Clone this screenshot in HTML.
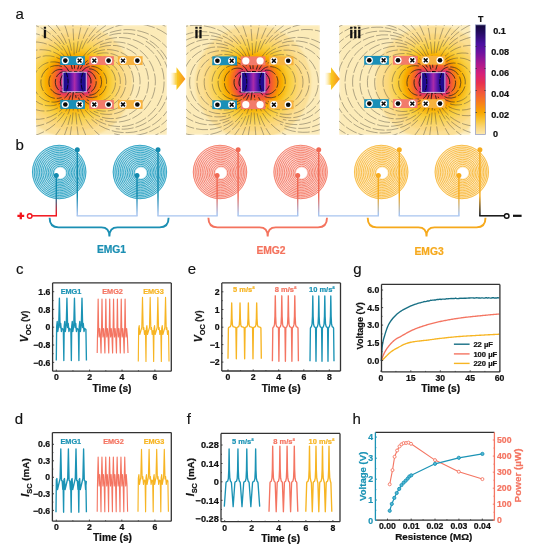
<!DOCTYPE html><html><head><meta charset="utf-8"><style>html,body{margin:0;padding:0;background:#fff;width:534px;height:550px;overflow:hidden}svg{display:block;filter:blur(0.3px)}text{font-family:"Liberation Sans",sans-serif}</style></head><body>
<svg width="534" height="550" viewBox="0 0 534 550">
<defs><linearGradient id="gin0" gradientUnits="userSpaceOnUse" x1="0" y1="196" x2="0" y2="214"><stop offset="0" stop-color="#148aae"/><stop offset="1" stop-color="#f2141c"/></linearGradient><linearGradient id="gout0" gradientUnits="userSpaceOnUse" x1="0" y1="196" x2="0" y2="214"><stop offset="0" stop-color="#148aae"/><stop offset="1" stop-color="#a7c4ef"/></linearGradient><linearGradient id="gin1" gradientUnits="userSpaceOnUse" x1="0" y1="196" x2="0" y2="214"><stop offset="0" stop-color="#148aae"/><stop offset="1" stop-color="#a7c4ef"/></linearGradient><linearGradient id="gout1" gradientUnits="userSpaceOnUse" x1="0" y1="196" x2="0" y2="214"><stop offset="0" stop-color="#148aae"/><stop offset="1" stop-color="#a7c4ef"/></linearGradient><linearGradient id="gin2" gradientUnits="userSpaceOnUse" x1="0" y1="196" x2="0" y2="214"><stop offset="0" stop-color="#f06a55"/><stop offset="1" stop-color="#a7c4ef"/></linearGradient><linearGradient id="gout2" gradientUnits="userSpaceOnUse" x1="0" y1="196" x2="0" y2="214"><stop offset="0" stop-color="#f06a55"/><stop offset="1" stop-color="#a7c4ef"/></linearGradient><linearGradient id="gin3" gradientUnits="userSpaceOnUse" x1="0" y1="196" x2="0" y2="214"><stop offset="0" stop-color="#f06a55"/><stop offset="1" stop-color="#a7c4ef"/></linearGradient><linearGradient id="gout3" gradientUnits="userSpaceOnUse" x1="0" y1="196" x2="0" y2="214"><stop offset="0" stop-color="#f06a55"/><stop offset="1" stop-color="#a7c4ef"/></linearGradient><linearGradient id="gin4" gradientUnits="userSpaceOnUse" x1="0" y1="196" x2="0" y2="214"><stop offset="0" stop-color="#f6ab1e"/><stop offset="1" stop-color="#a7c4ef"/></linearGradient><linearGradient id="gout4" gradientUnits="userSpaceOnUse" x1="0" y1="196" x2="0" y2="214"><stop offset="0" stop-color="#f6ab1e"/><stop offset="1" stop-color="#a7c4ef"/></linearGradient><linearGradient id="gin5" gradientUnits="userSpaceOnUse" x1="0" y1="196" x2="0" y2="214"><stop offset="0" stop-color="#f6ab1e"/><stop offset="1" stop-color="#a7c4ef"/></linearGradient><linearGradient id="gout5" gradientUnits="userSpaceOnUse" x1="0" y1="196" x2="0" y2="214"><stop offset="0" stop-color="#f6ab1e"/><stop offset="1" stop-color="#111111"/></linearGradient><clipPath id="clip0"><rect x="36" y="25" width="131" height="110"/></clipPath><path id="fl0" d="M86.5 72.9 88.6 75.0 90.0 77.2 90.8 79.5 91.0 82.0 90.8 84.5 90.0 86.8 88.6 89.0 86.5 91.1M74.6 71.8 74.6 71.3 74.6 71.8 74.6 71.3 74.6 71.8 74.6 71.3 74.6 71.8 74.6 71.3 74.6 71.8 74.6 71.3 74.6 71.8 74.6 71.3 74.6 71.8 74.6 71.3 74.6 71.8 74.6 71.3 74.6 71.8 74.6 71.3 74.6 71.8 74.6 71.3 74.6 71.8 74.6 71.3 74.6 71.8 74.6 71.3 74.6 71.8 74.6 71.3 74.6 71.8 74.6 71.3 74.6 71.8 74.6 71.3 74.6 71.8 74.6 71.3 74.6 71.8 74.6 71.3 74.6 71.8 74.6 71.3 74.6 71.8 74.6 71.3 74.6 71.8 74.6 71.3 74.6 71.8 74.6 71.3 74.6 71.8 74.6 71.3 74.6 71.8 74.6 71.3 74.6 71.8 74.6 71.3 74.6 71.8 74.6 71.3 74.6 71.8 74.6 71.3 74.6 71.8 74.6 71.3 74.6 71.8 74.6 71.3 74.6 71.8 74.6 71.3 74.6 71.8 74.6 71.3 74.6 71.8 74.6 71.3 74.6 71.8 74.6 71.3 74.6 71.8 74.6 71.3 74.6 71.8 74.6 71.3 74.6 71.8 74.6 71.3 74.6 71.8 74.6 71.3 74.6 71.8 74.6 71.3 74.6 71.8 74.6 71.3 74.6 71.8 74.6 71.3 74.6 71.8 74.6 71.3 74.6 71.8 74.6 71.3 74.6 71.8 74.6 71.3 74.6 71.8 74.6 71.3 74.6 71.8 74.6 71.3 74.6 71.8 74.6 71.3 74.6 71.8 74.6 71.3 74.6 71.8 74.6 71.3 74.6 71.8 74.6 71.3 74.6 71.8 74.6 71.3 74.6 71.8 74.6 71.3 74.6 71.8 74.6 71.3 74.6 71.8 74.6 71.3 74.6 71.8 74.6 71.3 74.6 71.8 74.6 71.3 74.6 71.8 74.6 71.3 74.6 71.8 74.6 71.3 74.6 71.8 74.6 71.3 74.6 71.8 74.6 71.3 74.6 71.8 74.6 71.3 74.6 71.8 74.6 71.3 74.6 71.8 74.6 71.3 74.6 71.8 74.6 71.3 74.6 71.8 74.6 71.3 74.6 71.8 74.6 71.3 74.6 71.8 74.6 71.3 74.6 71.8 74.6 71.3 74.6 71.8 74.6 71.3 74.6 71.8 74.6 71.3 74.6 71.8 74.6 71.3 74.6 71.8 74.6 71.3 74.6 71.8 74.6 71.3 74.6 71.8 74.6 71.3 74.6 71.8 74.6 71.3 74.6 71.8 74.6 71.3 74.6 71.8 74.6 71.3 74.6 71.8 74.6 71.3 74.6 71.8 74.6 71.3 74.6 71.8 74.6 71.3 74.6 71.8 74.6 71.3 74.6 71.8 74.6 71.3 74.6 71.8 74.6 71.3 74.6 71.8 74.6 71.3 74.6 71.8 74.6 71.3 74.6 71.8 74.6 71.3 74.6 71.8 74.6 71.3 74.6 71.8 74.6 71.3 74.6 71.8 74.6 71.3 74.6 71.8 74.6 71.3 74.6 71.8 74.6 71.3 74.6 71.8 74.6 71.3 74.6 71.8 74.6 71.3 74.6 71.8 74.6 71.3 74.6 71.8 74.6 71.3 74.6 71.8 74.6 71.3 74.6 71.8 74.6 71.3 74.6 71.8 74.6 71.3 74.6 71.8 74.6 71.3 74.6 71.8 74.6 71.3 74.6 71.8 74.6 71.3 74.6 71.8 74.6 71.3 74.6 71.8 74.6 71.3 74.6 71.8 74.6 71.3 74.6 71.8 74.6 71.3 74.6 71.8 74.6 71.3 74.6 71.8 74.6 71.3 74.6 71.8 74.6 71.3 74.6 71.8 74.6 71.3 74.6 71.8 74.6 71.3 74.6 71.8 74.6 71.3 74.6 71.8 74.6 71.3 74.6 71.8 74.6 71.3 74.6 71.8 74.6 71.3 74.6 71.8 74.6 71.3 74.6 71.8 74.6 71.3 74.6 71.8 74.6 71.3 74.6 71.8 74.6 71.3 74.6 71.8 74.6 71.3 74.6 71.8 74.6 71.3 74.6 71.8 74.6 71.3 74.6 71.8 74.6 71.3 74.6 71.8 74.6 71.3 74.6 71.8 74.6 71.3 74.6 71.8 74.6 71.3 74.6 71.8 74.6 71.3 74.6 71.8 74.6 71.3 74.6 71.8 74.6 71.3 74.6 71.8 74.6 71.3 74.6 71.8 74.6 71.3 74.6 71.8 74.6 71.3 74.6 71.8 74.6 71.3 74.6 71.8 74.6 71.3 74.6 71.8 74.6 71.3 74.6 71.8 74.6 71.3 74.6 71.8 74.6 71.3 74.6 71.8 74.6 71.3 74.6 71.8 74.6 71.3 74.6 71.8 74.6 71.3 74.6 71.8 74.6 71.3 74.6 71.8 74.6 71.3 74.6 71.8 74.6 71.3 74.6 71.8 74.6 71.3 74.6 71.8 74.6 71.3 74.6 71.8 74.6 71.3 74.6 71.8 74.6 71.3 74.6 71.8 74.6 71.3 74.6 71.8 74.6 71.3 74.6 71.8 74.6 71.3 74.6 71.8 74.6 71.3 74.6 71.8 74.6 71.3 74.6 71.8 74.6 71.3 74.6 71.8 74.6 71.3 74.6 71.8 74.6 71.3 74.6 71.8 74.6 71.3 74.6 71.8 74.6 71.3 74.6 71.8 74.6 71.3 74.6 71.8 74.6 71.3 74.6 71.8 74.6 71.3 74.6 71.8 74.6 71.3 74.6 71.8 74.6 71.3 74.6 71.8 74.6 71.3 74.6 71.8 74.6 71.3 74.6 71.8 74.6 71.3 74.6 71.8 74.6 71.3 74.6 71.8 74.6 71.3 74.6 71.8 74.6 71.3 74.6 71.8 74.6 71.3 74.6 71.8 74.6 71.3 74.6 71.8 74.6 71.3 74.6 71.8 74.6 71.3 74.6 71.8 74.6 71.3 74.6 71.8 74.6 71.3 74.6 71.8 74.6 71.3 74.6 71.8 74.6 71.3 74.6 71.8 74.6 71.3 74.6 71.8 74.6 71.3 74.6 71.8 74.6 71.3 74.6 71.8 74.6 71.3 74.6 71.8 74.6 71.3 74.6 71.8 74.6 71.3 74.6 71.8 74.6 71.3 74.6 71.8 74.6 71.3 74.6 71.8 74.6 71.3 74.6 71.8 74.6 71.3 74.6 71.8 74.6 71.3 74.6 71.8 74.6 71.3 74.6 71.8 74.6 71.3 74.6 71.8 74.6 71.3 74.6 71.8 74.6 71.3 74.6 71.8 74.6 71.3 74.6 71.8 74.6 71.3 74.6 71.8 74.6 71.3 74.6 71.8 74.6 71.3 74.6 71.8 74.6 71.3 74.6 71.8 74.6 71.3 74.6 71.8 74.6 71.3 74.6 71.8 74.6 71.3 74.6 71.8 74.6 71.3 74.6 71.8 74.6 71.3 74.6 71.8 74.6 71.3 74.6 71.8 74.6 71.3 74.6 71.8 74.6 71.3 74.6 71.8 74.6 71.3 74.6 71.8 74.6 71.3 74.6 71.8 74.6 71.3 74.6 71.8 74.6 71.3 74.6 71.8 74.6 71.3 74.6 71.8 74.6 71.3 74.6 71.8 74.6 71.3 74.6 71.8 74.6 71.3 74.6 71.8 74.6 71.3 74.6 71.8 74.6 71.3 74.6 71.8 74.6 71.3 74.6 71.8 74.6 71.3 74.6 71.8 74.6 71.3 74.6 71.8 74.6 71.3 74.6 71.8 74.6 71.3 74.6 71.8 74.6 71.3 74.6 71.8 74.6 71.3 74.6 71.8 74.6 71.3 74.6 71.8 74.6 71.3 74.6 71.8 74.6 71.3 74.6 71.8 74.6 71.3 74.6 71.8 74.6 71.3 74.6 71.8 74.6 71.3 74.6 71.8 74.6 71.3 74.6 71.8 74.6 71.3 74.6 71.8 74.6 71.3 74.6 71.8 74.6 71.3 74.6 71.8 74.6 71.3 74.6 71.8 74.6 71.3 74.6 71.8 74.6 71.3 74.6 71.8 74.6 71.3 74.6 71.8 74.6 71.3 74.6 71.8 74.6 71.3 74.6 71.8 74.6 71.3 74.6 71.8 74.6 71.3 74.6 71.8 74.6 71.3 74.6 71.8 74.6 71.3 74.6 71.8 74.6 71.3 74.6 71.8 74.6 71.3 74.6 71.8 74.6 71.3 74.6 71.8 74.6 71.3 74.6 71.8 74.6 71.3 74.6 71.8 74.6 71.3 74.6 71.8 74.6 71.3 74.6 71.8 74.6 71.3 74.6 71.8 74.6 71.3 74.6 71.8 74.6 71.3 74.6 71.8 74.6 71.3 74.6 71.8 74.6 71.3 74.6 71.8 74.6 71.3 74.6 71.8 74.6 71.3 74.6 71.8 74.6 71.3 74.6 71.8 74.6 71.3 74.6 71.8 74.6 71.3 74.6 71.8 74.6 71.3 74.6 71.8 74.6 71.3 74.6 71.8 74.6 71.3 74.6 71.8 74.6 71.3 74.6 71.8 74.6 71.3 74.6 71.8 74.6 71.3 74.6 71.8 74.6 71.3 74.6 71.8 74.6 71.3 74.6 71.8 74.6 71.3 74.6 71.8 74.6 71.3 74.6 71.8 74.6 71.3 74.6 71.8 74.6 71.3 74.6 71.8 74.6 71.3 74.6 71.8 74.6 71.3 74.6 71.8 74.6 71.3 74.6 71.8 74.6 71.3 74.6 71.8 74.6 71.3 74.6 71.8 74.6 71.3 74.6 71.8 74.6 71.3 74.6 71.8 74.6 71.3 74.6 71.8 74.6 71.3 74.6 71.8 74.6 71.3 74.6 71.8 74.6 71.3 74.6 71.8 74.6 71.3 74.6 71.8 74.6 71.3 74.6 71.8 74.6 71.3 74.6 71.8 74.6 71.3 74.6 71.8 74.6 71.3 74.6 71.8 74.6 71.3 74.6 71.8 74.6 71.3 74.6 71.8 74.6 71.3 74.6 71.8 74.6 71.3 74.6 71.8 74.6 71.3 74.6 71.8 74.6 71.3 74.6 71.8 74.6 71.3 74.6 71.8 74.6 71.3 74.6 71.8 74.6 71.3 74.6 71.8 74.6 71.3 74.6 71.8 74.6 71.3 74.6 71.8 74.6 71.3 74.6 71.8 74.6 71.3 74.6 71.8 74.6 71.3 74.6 71.8 74.6 71.3 74.6 71.8 74.6 71.3 74.6 71.8 74.6 71.3 74.6 71.8 74.6 71.3 74.6 71.8 74.6 71.3 74.6 71.8 74.6 71.3 74.6 71.8 74.6 71.3 74.6 71.8 74.6 71.3 74.6 71.8 74.6 71.3 74.6 71.8 74.6 71.3 74.6 71.8 74.6 71.3 74.6 71.8 74.6 71.3 74.6 71.8 74.6 71.3 74.6 71.8 74.6 71.3 74.6 71.8 74.6 71.3 74.6 71.8 74.6 71.3 74.6 71.8 74.6 71.3 74.6 71.8 74.6 71.3 74.6 71.8 74.6 71.3 74.6 71.8 74.6 71.3 74.6 71.8 74.6 71.3 74.6 71.8 74.6 71.3 74.6 71.8 74.6 71.3 74.6 71.8 74.6 71.3 74.6 71.8 74.6 71.3 74.6 71.8 74.6 71.3 74.6 71.8 74.6 71.3 74.6 71.8 74.6 71.3 74.6 71.8 74.6 71.3 74.6 71.8 74.6 71.3 74.6 71.8 74.6 71.3 74.6 71.8 74.6 71.3 74.6 71.8 74.6 71.3 74.6 71.8 74.6 71.3 74.6 71.8 74.6 71.3 74.6 71.8 74.6 71.3 74.6 71.8 74.6 71.3 74.6 71.8 74.6 71.3 74.6 71.8 74.6 71.3 74.6 71.8 74.6 71.3 74.6 71.8 74.6 71.3 74.6 71.8 74.6 71.3 74.6 71.8 74.6 71.3 74.6 71.8 74.6 71.3 74.6 71.8 74.6 71.3 74.6 71.8 74.6 71.3 74.6 71.8 74.6 71.3 74.6 71.8 74.6 71.3 74.6 71.8 74.6 71.3 74.6 71.8 74.6 71.3 74.6 71.8 74.6 71.3 74.6 71.8 74.6 71.3 74.6 71.8 74.6 71.3 74.6 71.8 74.6 71.3 74.6 71.8 74.6 71.3 74.6 71.8 74.6 71.3 74.6 71.8 74.6 71.3 74.6 71.8 74.6 71.3 74.6 71.8 74.6 71.3 74.6 71.8 74.6 71.3 74.6 71.8 74.6 71.3 74.6 71.8 74.6 71.3 74.6 71.8 74.6 71.3 74.6 71.8 74.6 71.3 74.6 71.8 74.6 71.3 74.6 71.8 74.6 71.3 74.6 71.8 74.6 71.3 74.6 71.8 74.6 71.3 74.6 71.8 74.6 71.3 74.6 71.8 74.6 71.3 74.6 71.8 74.6 71.3 74.6 71.8 74.6 71.3 74.6 71.8 74.6 71.3 74.6 71.8 74.6 71.3 74.6 71.8 74.6 71.3 74.6 71.8 74.6 71.3 74.6 71.8 74.6 71.3 74.6 71.8 74.6 71.3 74.6 71.8 74.6 71.3 74.6 71.8 74.6 71.3 74.6 71.8 74.6 71.3 74.6 71.8 74.6 71.3 74.6 71.8 74.6 71.3 74.6 71.8 74.6 71.3 74.6 71.8 74.6 71.3 74.6 71.8 74.6 71.3 74.6 71.8 74.6 71.3 74.6 71.8 74.6 71.3 74.6 71.8 74.6 71.3 74.6 71.8 74.6 71.3 74.6 71.8 74.6 71.3 74.6 71.8 74.6 71.3 74.6 71.8 74.6 71.3 74.6 71.8 74.6 71.3 74.6 71.8 74.6 71.3 74.6 71.8 74.6 71.3 74.6 71.8 74.6 71.3 74.6 71.8 74.6 71.3 74.6 71.8 74.6 71.3 74.6 71.8 74.6 71.3 74.6 71.8 74.6 71.3 74.6 71.8 74.6 71.3 74.6 71.8 74.6 71.3 74.6 71.8 74.6 71.3 74.6 71.8 74.6 71.3 74.6 71.8 74.6 71.3 74.6 71.8 74.6 71.3 74.6 71.8 74.6 71.3 74.6 71.8 74.6 71.3 74.6 71.8 74.6 71.3 74.6 71.8 74.6 71.3 74.6 71.8 74.6 71.3 74.6 71.8 74.6 71.3 74.6 71.8 74.6 71.3 74.6 71.8 74.6 71.3 74.6 71.8 74.6 71.3 74.6 71.8 74.6 71.3 74.6 71.8 74.6 71.3 74.6 71.8 74.6 71.3 74.6 71.8 74.6 71.3 74.6 71.8 74.6 71.3 74.6 71.8 74.6 71.3 74.6 71.8 74.6 71.3 74.6 71.8 74.6 71.3 74.6 71.8 74.6 71.3 74.6 71.8 74.6 71.3 74.6 71.8 74.6 71.3 74.6 71.8 74.6 71.3 74.6 71.8 74.6 71.3 74.6 71.8 74.6 71.3 74.6 71.8 74.6 71.3 74.6 71.8 74.6 71.3 74.6 71.8 74.6 71.3 74.6 71.8 74.6 71.3 74.6 71.8 74.6 71.3 74.6 71.8 74.6 71.3 74.6 71.8 74.6 71.3 74.6 71.8 74.6 71.3 74.6 71.8 74.6 71.3 74.6 71.8 74.6 71.3 74.6 71.8 74.6 71.3 74.6 71.8 74.6 71.3 74.6 71.8 74.6 71.3 74.6 71.8 74.6 71.3 74.6 71.8 74.6 71.3 74.6 71.8 74.6 71.3 74.6 71.8 74.6 71.3 74.6 71.8 74.6 71.3 74.6 71.8 74.6 71.3 74.6 71.8 74.6 71.3 74.6 71.8 74.6 71.3 74.6 71.8 74.6 71.3 74.6 71.8 74.6 71.3 74.6 71.8 74.6 71.3 74.6 71.8 74.6 71.3 74.6 71.8 74.6 71.3 74.6 71.8 74.6 71.3 74.6 71.8 74.6 71.3 74.6 71.8 74.6 71.3 74.6 71.8 74.6 71.3 74.6 71.8 74.6 71.3 74.6 71.8 74.6 71.3 74.6 71.8 74.6 71.3 74.6 71.8 74.6 71.3 74.6 71.8 74.6 71.3 74.6 71.8 74.6 71.3 74.6 71.8 74.6 71.3 74.6 71.8 74.6 71.3 74.6 71.8 74.6 71.3 74.6 71.8 74.6 71.3 74.6 71.8 74.6 71.3 74.6 71.8 74.6 71.3 74.6 71.8 74.6 71.3 74.6 71.8 74.6 71.3 74.6 71.8 74.6 71.3 74.6 71.8 74.6 71.3 74.6 71.8 74.6 71.3 74.6 71.8 74.6 71.3 74.6 71.8 74.6 71.3 74.6 71.8 74.6 71.3 74.6 71.8 74.6 71.3 74.6 71.8 74.6 71.3 74.6 71.8 74.6 71.3 74.6 71.8 74.6 71.3 74.6 71.8 74.6 71.3 74.6 71.8 74.6 71.3 74.6 71.8 74.6 71.3 74.6 71.8 74.6 71.3 74.6 71.8 74.6 71.3 74.6 71.8 74.6 71.3 74.6 71.8 74.6 71.3 74.6 71.8 74.6 71.3 74.6 71.8 74.6 71.3 74.6 71.8 74.6 71.3 74.6 71.8 74.6 71.3 74.6 71.8 74.6 71.3 74.6 71.8 74.6 71.3 74.6 71.8 74.6 71.3 74.6 71.8 74.6 71.3 74.6 71.8 74.6 71.3 74.6 71.8 74.6 71.3 74.6 71.8 74.6 71.3 74.6 71.8 74.6 71.3 74.6 71.8 74.6 71.3 74.6 71.8 74.6 71.3 74.6 71.8 74.6 71.3 74.6 71.8 74.6 71.3 74.6 71.8 74.6 71.3 74.6 71.8 74.6 71.3 74.6 71.8 74.6 71.3 74.6 71.8 74.6 71.3 74.6 71.8 74.6 71.3 74.6 71.8 74.6 71.3 74.6 71.8 74.6 71.3 74.6 71.8 74.6 71.3 74.6 71.8 74.6 71.3 74.6 71.8 74.6 71.3 74.6 71.8 74.6 71.3 74.6 71.8 74.6 71.3 74.6 71.8 74.6 71.3 74.6 71.8 74.6 71.3 74.6 71.8 74.6 71.3 74.6 71.8 74.6 71.3 74.6 71.8 74.6 71.3 74.6 71.8 74.6 71.3 74.6 71.8 74.6 71.3 74.6 71.8 74.6 71.3 74.6 71.8 74.6 71.3 74.6 71.8 74.6 71.3 74.6 71.8 74.6 71.3 74.6 71.8 74.6 71.3 74.6 71.8 74.6 71.3 74.6 71.8 74.6 71.3 74.6 71.8 74.6 71.3 74.6 71.8 74.6 71.3 74.6 71.8 74.6 71.3 74.6 71.8 74.6 71.3 74.6 71.8 74.6 71.3 74.6 71.8 74.6 71.3 74.6 71.8 74.6 71.3 74.6 71.8 74.6 71.3 74.6 71.8 74.6 71.3 74.6 71.8 74.6 71.3 74.6 71.8 74.6 71.3 74.6 71.8 74.6 71.3 74.6 71.8 74.6 71.3 74.6 71.8 74.6 71.3 74.6 71.8 74.6 71.3 74.6 71.8 74.6 71.3 74.6 71.8 74.6 71.3 74.6 71.8 74.6 71.3 74.6 71.8 74.6 71.3 74.6 71.8 74.6 71.3 74.6 71.8 74.6 71.3 74.6 71.8 74.6 71.3 74.6 71.8 74.6 71.3 74.6 71.8 74.6 71.3 74.6 71.8 74.6 71.3 74.6 71.8 74.6 71.3 74.6 71.8 74.6 71.3 74.6 71.8 74.6 71.3 74.6 71.8 74.6 71.3 74.6 71.8 74.6 71.3 74.6 71.8 74.6 71.3 74.6 71.8 74.6 71.3 74.6 71.8 74.6 71.3 74.6 71.8 74.6 71.3 74.6 71.8 74.6 71.3 74.6 71.8 74.6 71.3 74.6 71.8 74.6 71.3 74.6 71.8 74.6 71.3 74.6 71.8 74.6 71.3 74.6 71.8 74.6 71.3 74.6 71.8 74.6 71.3 74.6 71.8 74.6 71.3 74.6 71.8 74.6 71.3 74.6 71.8 74.6 71.3 74.6 71.8 74.6 71.3 74.6 71.8 74.6 71.3 74.6 71.8 74.6 71.3 74.6 71.8 74.6 71.3 74.6 71.8 74.6 71.3 74.6 71.8 74.6 71.3 74.6 71.8 74.6 71.3 74.6 71.8 74.6 71.3 74.6 71.8 74.6 71.3 74.6 71.8 74.6 71.3 74.6 71.8 74.6 71.3 74.6 71.8 74.6 71.3 74.6 71.8 74.6 71.3 74.6 71.8 74.6 71.3 74.6 71.8 74.6 71.3 74.6 71.8 74.6 71.3 74.6 71.8 74.6 71.3 74.6 71.8 74.6 71.3 74.6 71.8 74.6 71.3 74.6 71.8 74.6 71.3 74.6 71.8 74.6 71.3 74.6 71.8 74.6 71.3 74.6 71.8 74.6 71.3 74.6 71.8 74.6 71.3 74.6 71.8 74.6 71.3 74.6 71.8 74.6 71.3 74.6 71.8 74.6 71.3 74.6 71.8 74.6 71.3 74.6 71.8 74.6 71.3 74.6 71.8 74.6 71.3 74.6 71.8 74.6 71.3 74.6 71.8 74.6 71.3 74.6 71.8 74.6 71.3 74.6 71.8 74.6 71.3 74.6 71.8 74.6 71.3 74.6 71.8 74.6 71.3 74.6 71.8 74.6 71.3 74.6 71.8 74.6 71.3 74.6 71.8 74.6 71.3 74.6 71.8 74.6 71.3 74.6 71.8 74.6 71.3 74.6 71.8 74.6 71.3 74.6 71.8 74.6 71.3 74.6 71.8 74.6 71.3 74.6 71.8 74.6 71.3 74.6 71.8 74.6 71.3 74.6 71.8 74.6 71.3 74.6 71.8 74.6 71.3 74.6 71.8 74.6 71.3 74.6 71.8 74.6 71.3 74.6 71.8 74.6 71.3 74.6 71.8 74.6 71.3 74.6 71.8 74.6 71.3 74.6 71.8 74.6 71.3 74.6 71.8 74.6 71.3 74.6 71.8 74.6 71.3 74.6 71.8 74.6 71.3 74.6 71.8 74.6 71.3 74.6 71.8 74.6 71.3 74.6 71.8 74.6 71.3 74.6 71.8 74.6 71.3 74.6 71.8 74.6 71.3 74.6 71.8 74.6 71.3 74.6 71.8 74.6 71.3 74.6 71.8 74.6 71.3 74.6 71.8 74.6 71.3 74.6 71.8 74.6 71.3 74.6 71.8 74.6 71.3 74.6 71.8 74.6 71.3 74.6 71.8 74.6 71.3 74.6 71.8 74.6 71.3 74.6 71.8 74.6 71.3 74.6 71.8 74.6 71.3 74.6 71.8 74.6 71.3 74.6 71.8 74.6 71.3 74.6 71.8 74.6 71.3 74.6 71.8 74.6 71.3 74.6 71.8 74.6 71.3 74.6 71.8 74.6 71.3 74.6 71.8 74.6 71.3 74.6 71.8 74.6 71.3 74.6 71.8 74.6 71.3 74.6 71.8 74.6 71.3 74.6 71.8 74.6 71.3 74.6 71.8 74.6 71.3 74.6 71.8 74.6 71.3 74.6 71.8 74.6 71.3 74.6 71.8 74.6 71.3 74.6 71.8 74.6 71.3 74.6 71.8 74.6 71.3 74.6 71.8 74.6 71.3 74.6 71.8 74.6 71.3 74.6 71.8 74.6 71.3 74.6 71.8 74.6 71.3 74.6 71.8 74.6 71.3 74.6 71.8 74.6 71.3 74.6 71.8 74.6 71.3 74.6 71.8 74.6 71.3 74.6 71.8 74.6 71.3 74.6 71.8 74.6 71.3 74.6 71.8 74.6 71.3 74.6 71.8 74.6 71.3 74.6 71.8 74.6 71.3 74.6 71.8 74.6 71.3 74.6 71.8 74.6 71.3 74.6 71.8 74.6 71.3 74.6 71.8 74.6 71.3 74.6 71.8 74.6 71.3 74.6 71.8 74.6 71.3 74.6 71.8 74.6 71.3 74.6 71.8 74.6 71.3 74.6 71.8 74.6 71.3 74.6 71.8 74.6 71.3 74.6 71.8 74.6 71.3 74.6 71.8 74.6 71.3 74.6 71.8 74.6 71.3 74.6 71.8 74.6 71.3 74.6 71.8 74.6 71.3 74.6 71.8 74.6 71.3 74.6 71.8 74.6 71.3 74.6 71.8 74.6 71.3 74.6 71.8 74.6 71.3 74.6 71.8 74.6 71.3 74.6 71.8 74.6 71.3 74.6 71.8 74.6 71.3 74.6 71.8 74.6 71.3 74.6 71.8 74.6 71.3 74.6 71.8 74.6 71.3 74.6 71.8 74.6 71.3 74.6 71.8 74.6 71.3 74.6 71.8 74.6 71.3 74.6 71.8 74.6 71.3 74.6 71.8 74.6 71.3 74.6 71.8 74.6 71.3 74.6 71.8 74.6 71.3 74.6 71.8 74.6 71.3 74.6 71.8 74.6 71.3 74.6 71.8 74.6 71.3 74.6 71.8 74.6 71.3 74.6 71.8 74.6 71.3 74.6 71.8 74.6 71.3 74.6 71.8 74.6 71.3 74.6 71.8 74.6 71.3 74.6 71.8 74.6 71.3 74.6 71.8 74.6 71.3 74.6 71.8 74.6 71.3 74.6 71.8 74.6 71.3 74.6 71.8 74.6 71.3 74.6 71.8 74.6 71.3 74.6 71.8 74.6 71.3 74.6 71.8 74.6 71.3 74.6 71.8 74.6 71.3 74.6 71.8 74.6 71.3 74.6 71.8 74.6 71.3 74.6 71.8 74.6 71.3 74.6 71.8 74.6 71.3 74.6 71.8 74.6 71.3 74.6 71.8 74.7 71.3 74.6 71.8 74.7 71.3 74.6 71.8 74.7 71.3 74.6 71.8 74.7 71.3 74.6 71.8 74.7 71.3 74.6 71.8 74.7 71.3 74.7 71.8 74.7 71.3 74.7 71.8 74.7 71.3 74.7 71.8 74.7 71.3 74.7 71.8 74.7 71.3 74.7 71.8 74.7 71.3 74.7 71.8 74.7 71.3 74.7 71.8 74.7 71.3 74.7 71.8 74.7 71.3 74.7 71.8 74.7 71.3 74.7 71.8 74.7 71.3 74.7 71.8 74.7 71.3 74.7 71.8 74.7 71.3 74.7 71.8 74.7 71.3 74.7 71.8 74.7 71.3 74.7 71.8 74.7 71.3 74.7 71.8 74.7 71.3 74.7 71.8 74.7 71.3 74.7 71.8 74.7 71.3 74.7 71.8 74.7 71.3 74.7 71.8 74.7 71.3 74.7 71.8 74.7 71.3 74.7 71.8 74.7 71.3 74.7 71.8 74.7 71.3 74.7 71.8 74.7 71.3 74.7 71.8 74.7 71.3 74.7 71.8 74.7 71.3 74.7 71.8 74.7 71.3 74.7 71.8 74.7 71.3 74.7 71.8 74.7 71.3 74.7 71.8 74.7 71.3 74.7 71.8 74.7 71.3 74.7 71.8 74.7 71.3 74.7 71.8 74.7 71.3 74.7 71.8 74.7 71.3 74.7 71.8 74.7 71.3 74.7 71.8 74.7 71.3 74.7 71.8 74.7 71.3 74.7 71.8 74.7 71.3 74.7 71.8 74.7 71.3 74.7 71.8 74.7 71.3 74.7 71.8 74.7 71.3 74.7 71.8 74.7 71.3 74.7 71.8 74.7 71.3 74.7 71.8 74.7 71.3 74.7 71.8 74.7 71.3 74.7 71.8 74.7 71.3 74.7 71.8 74.7 71.3 74.7 71.8 74.7 71.3 74.7 71.8 74.7 71.3 74.7 71.8 74.7 71.3 74.7 71.8 74.7 71.3 74.7 71.8 74.7 71.3 74.7 71.8 74.7 71.3 74.7 71.8 74.7 71.3 74.7 71.8 74.7 71.3 74.7 71.8 74.7 71.3 74.7 71.8 74.7 71.3 74.7 71.8 74.7 71.3 74.7 71.8 74.7 71.3 74.7 71.8 74.7 71.3 74.7 71.8 74.7 71.3 74.7 71.8 74.7 71.3 74.7 71.8 74.8 71.3 74.7 71.8 74.8 71.3 74.8 71.8 74.8 71.3 74.8 71.8 74.8 71.3 74.8 71.8 74.8 71.3 74.8 71.8 74.8 71.3 74.8 71.8 74.8 71.3 74.8 71.8 74.8 71.3 74.8 71.8 74.8 71.3 74.8 71.8 74.8 71.3 74.9 71.8 74.9 71.3 74.9 71.8 74.9 71.3 74.9 71.8 74.9 71.3 74.9 71.8 75.0 71.3 75.0 71.8 75.0 71.3 75.0 71.8 75.0 71.3 75.1 71.8 75.3 71.3 75.3 71.8 75.4 71.3 75.4 71.8 75.4 71.3 75.6 71.8 75.7 71.3 75.7 71.8 75.8 71.3 75.9 71.8 76.0 71.3 76.1 71.8 76.2 71.3 76.3 71.7 76.5 71.2 76.6 71.7 77.1 71.5 81.6 71.7 85.1 68.3 86.9 67.3 88.8 66.7 92.3 66.4 95.7 67.0 97.6 67.7 99.8 69.0 101.7 70.5 103.4 72.4 104.5 74.1 105.6 76.3 106.3 78.7 106.6 81.2 106.5 83.7 106.1 86.1 105.2 88.5 104.0 90.7 102.5 92.7 100.7 94.4 98.6 95.7 96.3 96.8 92.4 97.6 88.9 97.3 87.0 96.7 85.2 95.8 83.7 94.5 81.7 92.3 77.2 92.3 76.9 92.7 76.8 92.3 76.6 92.7 76.5 92.2 76.3 92.7 76.2 92.2 75.9 92.6 75.7 92.1M53.1 138.3 57.2 133.2 60.6 128.3 63.9 122.7 66.6 117.3 68.9 111.8 70.7 106.1 72.3 99.2 73.3 92.3 73.4 92.8 73.4 92.3 73.5 92.8M72.2 71.8 71.8 71.5 71.4 71.8 70.9 71.5 69.0 71.6 67.2 68.6 65.2 66.3 62.9 64.5 60.2 63.1 57.8 62.4 54.9 61.9 51.9 61.9 48.9 62.3 46.0 63.2 42.9 64.8 40.5 66.6 38.1 69.1 36.3 71.5 34.8 74.7 33.9 77.5 33.4 81.0 33.6 84.5 34.3 87.9 35.6 91.2 37.2 93.7 39.4 96.4 41.7 98.3 44.7 100.2 47.5 101.3 50.9 102.0 53.9 102.2 56.9 101.8 59.7 101.0 62.9 99.5 65.2 97.6 67.2 95.4 69.0 92.4 71.0 92.5M66.3 71.8 63.3 71.8 61.8 72.1 60.0 72.9 58.5 74.2 57.2 75.7 56.0 77.9 55.5 79.9 55.3 82.3 55.6 84.8 56.3 86.7 57.6 88.8 59.0 90.3 60.6 91.4 62.0 92.0 66.5 92.2M72.3 69.1 70.5 61.8 67.6 54.8 63.7 47.9 58.8 41.6 53.5 36.3 47.1 31.4 40.2 27.4 32.8 24.4M64.4 44.9 60.3 38.6 55.4 32.4 50.1 27.0 43.9 21.9M71.0 56.8 68.2 47.7 64.3 38.5 59.7 30.2 54.1 21.9M71.5 50.6 70.0 43.3 68.1 36.0 66.0 28.8 63.5 21.8M74.5 68.5 73.9 45.5 72.7 21.5M76.4 53.1 78.7 37.3 82.0 21.6M78.8 52.0 81.0 44.3 84.0 36.4 87.4 29.1 91.5 21.7M82.0 48.9 85.5 41.7 90.1 34.5 95.3 27.9 101.3 21.8M87.2 43.4 92.2 37.1 98.2 31.1 104.6 26.3 111.9 22.0M91.9 41.0 95.6 37.5 99.9 34.2 104.6 31.2 109.5 28.8 114.1 26.9 119.4 25.4 124.8 24.3 130.3 23.7 135.3 23.7 140.8 24.1 146.2 25.1 151.5 26.6 156.2 28.3 161.1 30.7 165.8 33.6 170.2 36.8M154.3 21.9 162.3 24.7 166.3 26.7 170.2 28.9M97.4 39.1 101.7 36.4 106.1 34.1 110.8 32.3 116.1 30.9 121.0 30.0 126.0 29.6 131.0 29.7 136.4 30.4 141.3 31.5 146.1 33.0 150.6 35.0 155.4 37.7 159.5 40.6 163.3 43.8 166.8 47.4 170.2 51.8M62.7 50.4 60.0 47.4 56.8 44.4 53.2 41.6 49.4 39.1 45.5 37.0 41.3 35.3 37.0 34.0 32.6 33.1M77.7 69.3 78.8 65.5 80.2 62.2 81.8 59.1 83.9 55.7 86.4 52.6 89.1 49.7 92.1 47.1 95.4 44.7 98.8 42.7 102.4 41.0 106.2 39.6 110.1 38.5 114.0 37.9 118.0 37.5 122.0 37.6 126.0 38.0 129.4 38.6 133.3 39.7 137.0 41.0 140.6 42.8 144.0 44.8 147.3 47.2 150.3 49.8 153.1 52.7 155.6 55.8 157.8 59.1 159.7 62.7 161.2 66.3 162.5 70.1 163.4 74.0 163.9 78.0 164.1 82.0 163.9 86.0 163.4 90.0 162.5 93.9 161.2 97.7 159.7 101.3 157.8 104.9 155.6 108.2 153.4 110.9 150.7 113.9 147.7 116.5 144.5 118.9 141.1 121.0 137.5 122.7 133.7 124.2 129.9 125.3 126.5 126.0 122.5 126.4 118.5 126.5 114.5 126.2 110.5 125.6 106.7 124.6 102.9 123.2 99.3 121.6 95.8 119.6 92.5 117.3 89.5 114.7 86.7 111.8 84.2 108.7 82.0 105.3 80.4 102.2 79.0 99.0 77.9 95.2M109.4 35.4 113.8 34.2 118.2 33.5 122.7 33.2 127.7 33.3 132.2 33.9 137.1 35.0 141.3 36.4 145.9 38.4 149.8 40.7 153.9 43.5 157.3 46.5 160.8 50.1 163.6 53.6 166.3 57.8 168.3 61.8 170.1 66.5M67.9 61.4 65.2 57.2 61.6 53.1 57.8 49.8 53.2 46.8 48.6 44.7 43.4 43.0 38.0 42.1 32.5 41.9M87.4 54.9 91.3 51.8 96.0 49.0 100.6 47.1 106.0 45.8 111.0 45.4 116.4 45.6 121.3 46.6 126.5 48.4 131.0 50.7 135.4 53.9 139.0 57.4 142.4 61.7 144.9 66.1 146.9 71.2 148.1 76.6 148.5 82.0 148.1 87.5 146.8 92.9 144.8 98.0 142.3 102.3 139.0 106.7 135.4 110.1 130.9 113.3 126.5 115.6 121.3 117.4 116.4 118.4 110.9 118.6 105.9 118.2 100.6 116.9 95.9 115.0 91.2 112.2 87.3 109.0M100.0 44.9 104.3 43.4 109.2 42.3 114.1 41.9 119.1 42.1 123.6 42.7 128.4 44.1 133.0 46.0 137.3 48.5 140.9 51.2 144.6 54.6 147.8 58.5 150.4 62.7 152.6 67.2 154.1 71.9 155.1 76.9 155.4 81.8 155.1 86.8 154.2 91.7 152.7 96.5 150.6 101.0 147.9 105.3 144.8 109.2 141.2 112.6 137.6 115.3 133.3 117.9 128.7 119.8 123.9 121.2 119.0 122.0 114.0 122.1 109.0 121.6 104.1 120.5 99.9 119.0M63.3 58.3 60.2 55.7 56.8 53.6 53.2 51.9 48.9 50.5 45.0 49.9 41.0 49.7 37.0 50.0 32.6 50.9M93.5 52.9 97.2 51.3 101.1 50.3 105.0 49.7 109.0 49.6 113.0 50.0 116.9 50.9 120.7 52.3 124.6 54.3 127.9 56.6 130.9 59.3 133.5 62.4 135.9 66.1 137.7 69.7 139.0 73.5 139.8 77.4 140.1 81.9 139.8 86.4 139.0 90.3 137.8 94.1 136.0 97.7 133.6 101.5 131.0 104.5 128.1 107.2 124.8 109.5 120.8 111.7 117.1 113.0 113.2 114.0 109.2 114.4 105.2 114.3 101.3 113.8 97.4 112.7 93.7 111.2M66.2 64.2 63.0 61.1 59.2 58.6 55.1 56.9 50.2 55.9 45.7 55.8 41.3 56.5 37.0 58.0 32.6 60.4M80.2 69.2 81.9 66.2 84.5 63.1 87.6 60.6 91.1 58.7 94.9 57.4 98.9 56.8 102.9 56.8 107.3 57.6 111.0 59.0 114.5 60.9 117.7 63.4 120.7 66.7 122.9 70.0 124.5 73.7 125.5 77.6 125.9 82.0 125.5 86.5 124.4 90.4 122.8 94.0 120.7 97.4 117.6 100.7 114.5 103.2 111.0 105.1 107.2 106.4 102.8 107.2 98.8 107.2 94.8 106.5 91.0 105.2 87.5 103.3 84.4 100.8 81.9 97.8 80.1 94.7M96.7 54.0 99.6 53.3 103.1 52.9 106.5 52.9 110.0 53.4 112.9 54.1 116.2 55.3 119.3 56.9 122.2 58.9 124.5 60.8 126.9 63.4 128.9 66.2 130.7 69.3 131.8 72.0 132.8 75.4 133.4 78.8 133.6 82.3 133.3 85.8 132.7 89.2 131.6 92.6 130.4 95.3 128.6 98.3 126.5 101.1 124.0 103.6 121.7 105.5 118.8 107.4 115.6 108.9 112.3 110.1 109.4 110.7 105.9 111.1 102.9 111.1 99.4 110.7 96.5 110.0M86.0 64.8 88.2 63.6 90.6 62.7 93.0 62.2 95.5 62.0 98.0 62.1 100.5 62.5 102.8 63.3 105.5 64.6 107.6 66.0 109.5 67.6 111.2 69.5 112.8 72.0 114.0 74.2 114.8 76.6 115.3 79.0 115.5 82.0 115.3 85.0 114.8 87.4 113.9 89.8 112.8 92.0 111.2 94.5 109.5 96.4 107.6 98.0 105.5 99.4 102.8 100.7 100.4 101.5 98.0 101.9 95.5 102.0 93.0 101.8 90.6 101.3 88.2 100.4 86.0 99.2M61.8 66.5 58.5 65.6 54.5 65.7 51.1 66.6 47.6 68.6 45.0 70.9 42.7 74.2 41.3 77.9 40.8 81.9 41.2 85.8 42.6 89.6 44.8 92.9 47.4 95.3 50.8 97.3 54.2 98.3 58.2 98.4 61.6 97.6M62.4 69.7 59.9 69.4 57.5 69.8 55.2 70.8 53.2 72.3 51.5 74.1 50.2 76.3 49.3 78.6 48.9 81.6 49.1 84.5 49.8 86.9 51.2 89.6 52.9 91.4 54.9 93.0 57.1 94.0 59.6 94.6 62.0 94.4M95.2 59.7 99.7 59.5 104.6 60.4 108.7 62.2 112.8 65.1 115.9 68.4 118.4 72.6 120.0 77.4 120.4 82.4 119.8 87.3 118.3 91.5 115.7 95.8 112.7 99.1 108.5 101.9 104.4 103.6 99.5 104.5 95.0 104.3M87.8 71.2 89.3 71.5 91.1 72.4 93.7 74.8 95.4 77.8 96.0 79.7 96.2 81.7 96.1 83.7 95.6 85.6 94.1 88.7 92.8 90.2 91.2 91.5 89.4 92.4 88.0 92.8M62.6 74.9 60.8 78.5 60.3 81.9 60.5 83.9 61.0 85.9 62.8 89.4M89.2 68.8 91.7 69.1 94.0 69.9 96.2 71.2 98.0 72.8 99.6 74.8 100.7 77.1 101.4 79.5 101.6 81.9 101.4 84.4 100.7 86.8 99.6 89.1 98.1 91.1 96.3 92.8 94.2 94.1 91.8 94.9 89.3 95.2M32.8 98.5 35.8 101.1 39.2 103.3 42.9 104.8 46.3 105.6 50.3 105.8 53.7 105.5 57.6 104.5 60.8 103.0M145.9 41.2 149.3 43.3 152.5 45.7 155.4 48.4 158.1 51.4 160.6 54.5 162.8 57.9 164.7 61.4 166.5 65.5 167.7 69.3 168.6 73.2 169.2 77.2 169.4 81.2 169.3 85.6 168.8 89.6 168.0 93.5 166.9 97.4 165.2 101.5 163.4 105.1 161.3 108.5 158.9 111.7 156.3 114.7 153.4 117.5 150.3 120.0 146.9 122.2 143.0 124.4 139.3 126.0 135.6 127.3 131.7 128.2 127.7 128.9 123.7 129.2 119.7 129.1 115.8 128.7M32.6 119.2 39.1 119.3 45.0 118.4 50.7 116.6 56.0 113.9 60.9 110.3 65.0 106.0 68.3 101.0 70.6 95.5M87.0 138.4 82.7 127.7 79.3 116.8 77.0 106.0 75.7 95.1M32.8 108.5 37.0 110.0 40.9 110.8 45.4 111.1 49.4 110.7 53.7 109.6 57.4 108.1 61.3 105.7 64.3 103.1M69.8 138.3 72.3 120.5 73.9 102.5M170.0 106.6 166.8 111.6 163.4 115.9 159.1 120.1 154.8 123.5 149.7 126.6 144.7 129.0 139.0 130.9 133.6 132.1 127.7 132.6 122.2 132.5 116.2 131.8 110.9 130.4 105.3 128.4 100.4 125.9 95.8 122.8 91.5 119.3M32.8 136.1 38.5 134.2 44.0 131.7 49.1 128.7 53.9 125.1 58.3 121.0 62.3 116.4 65.6 111.5 68.3 106.7M103.4 138.2 99.1 134.8 95.4 131.4 91.7 127.3 88.6 123.4 85.5 118.9 83.1 114.5 80.9 110.0 79.1 105.3M170.2 116.6 164.6 122.3 158.7 126.9 151.7 130.8 144.7 133.5 136.9 135.3 129.5 135.9 121.5 135.4 114.2 133.8M32.5 126.5 37.0 126.0 40.9 125.1 45.2 123.8 48.9 122.2 52.8 120.0 56.1 117.8 59.5 114.9 62.3 112.0M78.5 138.4 76.8 124.5 75.7 111.1M170.2 126.1 164.6 130.3 159.0 133.5 153.0 136.2 146.8 138.1M63.4 138.2 67.6 126.4 70.7 114.8"/><radialGradient id="nm0" gradientUnits="userSpaceOnUse" cx="74.6" cy="82.0" r="30" gradientTransform="translate(74.6 82.0) scale(1.25 1) translate(-74.6 -82.0)"><stop offset="0.3" stop-color="#fff"/><stop offset="1" stop-color="#000"/></radialGradient><mask id="mk0"><rect x="36" y="25" width="131" height="110" fill="url(#nm0)"/></mask><clipPath id="clip1"><rect x="186" y="25" width="134" height="110"/></clipPath><path id="fl1" d="M265.2 73.1 267.3 75.2 268.7 77.4 269.5 79.7 269.7 82.2 269.5 84.7 268.7 87.0 267.3 89.2 265.2 91.3M253.3 72.0 253.3 71.5 253.3 72.0 253.3 71.5 253.3 72.0 253.3 71.5 253.3 72.0 253.3 71.5 253.3 72.0 253.3 71.5 253.3 72.0 253.3 71.5 253.3 72.0 253.3 71.5 253.3 72.0 253.3 71.5 253.3 72.0 253.3 71.5 253.3 72.0 253.3 71.5 253.3 72.0 253.3 71.5 253.3 72.0 253.3 71.5 253.3 72.0 253.3 71.5 253.3 72.0 253.3 71.5 253.3 72.0 253.3 71.5 253.3 72.0 253.3 71.5 253.3 72.0 253.3 71.5 253.3 72.0 253.3 71.5 253.3 72.0 253.3 71.5 253.3 72.0 253.3 71.5 253.3 72.0 253.3 71.5 253.3 72.0 253.3 71.5 253.3 72.0 253.3 71.5 253.3 72.0 253.3 71.5 253.3 72.0 253.3 71.5 253.3 72.0 253.3 71.5 253.3 72.0 253.3 71.5 253.3 72.0 253.3 71.5 253.3 72.0 253.3 71.5 253.3 72.0 253.3 71.5 253.3 72.0 253.3 71.5 253.3 72.0 253.3 71.5 253.3 72.0 253.3 71.5 253.3 72.0 253.3 71.5 253.3 72.0 253.3 71.5 253.3 72.0 253.3 71.5 253.3 72.0 253.3 71.5 253.3 72.0 253.3 71.5 253.3 72.0 253.3 71.5 253.3 72.0 253.3 71.5 253.3 72.0 253.3 71.5 253.3 72.0 253.3 71.5 253.3 72.0 253.3 71.5 253.3 72.0 253.3 71.5 253.3 72.0 253.3 71.5 253.3 72.0 253.3 71.5 253.3 72.0 253.3 71.5 253.3 72.0 253.3 71.5 253.3 72.0 253.3 71.5 253.3 72.0 253.3 71.5 253.3 72.0 253.3 71.5 253.3 72.0 253.3 71.5 253.3 72.0 253.3 71.5 253.3 72.0 253.3 71.5 253.3 72.0 253.3 71.5 253.3 72.0 253.3 71.5 253.3 72.0 253.3 71.5 253.3 72.0 253.3 71.5 253.3 72.0 253.3 71.5 253.3 72.0 253.3 71.5 253.3 72.0 253.3 71.5 253.3 72.0 253.3 71.5 253.3 72.0 253.3 71.5 253.3 72.0 253.3 71.5 253.3 72.0 253.3 71.5 253.3 72.0 253.3 71.5 253.3 72.0 253.3 71.5 253.3 72.0 253.3 71.5 253.3 72.0 253.3 71.5 253.3 72.0 253.3 71.5 253.3 72.0 253.3 71.5 253.3 72.0 253.3 71.5 253.3 72.0 253.3 71.5 253.3 72.0 253.3 71.5 253.3 72.0 253.3 71.5 253.3 72.0 253.3 71.5 253.3 72.0 253.3 71.5 253.3 72.0 253.3 71.5 253.3 72.0 253.3 71.5 253.3 72.0 253.3 71.5 253.3 72.0 253.3 71.5 253.3 72.0 253.3 71.5 253.3 72.0 253.3 71.5 253.3 72.0 253.3 71.5 253.3 72.0 253.3 71.5 253.3 72.0 253.3 71.5 253.3 72.0 253.3 71.5 253.3 72.0 253.3 71.5 253.3 72.0 253.3 71.5 253.3 72.0 253.3 71.5 253.3 72.0 253.3 71.5 253.3 72.0 253.3 71.5 253.3 72.0 253.3 71.5 253.3 72.0 253.3 71.5 253.3 72.0 253.3 71.5 253.3 72.0 253.3 71.5 253.3 72.0 253.3 71.5 253.3 72.0 253.3 71.5 253.3 72.0 253.3 71.5 253.3 72.0 253.3 71.5 253.3 72.0 253.3 71.5 253.3 72.0 253.3 71.5 253.3 72.0 253.3 71.5 253.3 72.0 253.3 71.5 253.3 72.0 253.3 71.5 253.3 72.0 253.3 71.5 253.3 72.0 253.3 71.5 253.3 72.0 253.3 71.5 253.3 72.0 253.3 71.5 253.3 72.0 253.3 71.5 253.3 72.0 253.3 71.5 253.3 72.0 253.3 71.5 253.3 72.0 253.3 71.5 253.3 72.0 253.3 71.5 253.3 72.0 253.3 71.5 253.3 72.0 253.3 71.5 253.3 72.0 253.3 71.5 253.3 72.0 253.3 71.5 253.3 72.0 253.3 71.5 253.3 72.0 253.3 71.5 253.3 72.0 253.3 71.5 253.3 72.0 253.3 71.5 253.3 72.0 253.3 71.5 253.3 72.0 253.3 71.5 253.3 72.0 253.3 71.5 253.3 72.0 253.3 71.5 253.3 72.0 253.3 71.5 253.3 72.0 253.3 71.5 253.3 72.0 253.3 71.5 253.3 72.0 253.3 71.5 253.3 72.0 253.3 71.5 253.3 72.0 253.3 71.5 253.3 72.0 253.3 71.5 253.3 72.0 253.3 71.5 253.3 72.0 253.3 71.5 253.3 72.0 253.3 71.5 253.3 72.0 253.3 71.5 253.3 72.0 253.3 71.5 253.3 72.0 253.3 71.5 253.3 72.0 253.3 71.5 253.3 72.0 253.3 71.5 253.3 72.0 253.3 71.5 253.3 72.0 253.3 71.5 253.3 72.0 253.3 71.5 253.3 72.0 253.3 71.5 253.3 72.0 253.3 71.5 253.3 72.0 253.3 71.5 253.3 72.0 253.3 71.5 253.3 72.0 253.3 71.5 253.3 72.0 253.3 71.5 253.3 72.0 253.3 71.5 253.3 72.0 253.3 71.5 253.3 72.0 253.3 71.5 253.3 72.0 253.3 71.5 253.3 72.0 253.3 71.5 253.3 72.0 253.3 71.5 253.3 72.0 253.3 71.5 253.3 72.0 253.3 71.5 253.3 72.0 253.3 71.5 253.3 72.0 253.3 71.5 253.3 72.0 253.3 71.5 253.3 72.0 253.3 71.5 253.3 72.0 253.3 71.5 253.3 72.0 253.3 71.5 253.3 72.0 253.3 71.5 253.3 72.0 253.3 71.5 253.3 72.0 253.3 71.5 253.3 72.0 253.3 71.5 253.3 72.0 253.3 71.5 253.3 72.0 253.3 71.5 253.3 72.0 253.3 71.5 253.3 72.0 253.3 71.5 253.3 72.0 253.3 71.5 253.3 72.0 253.3 71.5 253.3 72.0 253.3 71.5 253.3 72.0 253.3 71.5 253.3 72.0 253.3 71.5 253.3 72.0 253.3 71.5 253.3 72.0 253.3 71.5 253.3 72.0 253.3 71.5 253.3 72.0 253.3 71.5 253.3 72.0 253.3 71.5 253.3 72.0 253.3 71.5 253.3 72.0 253.3 71.5 253.3 72.0 253.3 71.5 253.3 72.0 253.3 71.5 253.3 72.0 253.3 71.5 253.3 72.0 253.3 71.5 253.3 72.0 253.3 71.5 253.3 72.0 253.3 71.5 253.3 72.0 253.3 71.5 253.3 72.0 253.3 71.5 253.3 72.0 253.3 71.5 253.3 72.0 253.3 71.5 253.3 72.0 253.3 71.5 253.3 72.0 253.3 71.5 253.3 72.0 253.3 71.5 253.3 72.0 253.3 71.5 253.3 72.0 253.3 71.5 253.3 72.0 253.3 71.5 253.3 72.0 253.3 71.5 253.3 72.0 253.3 71.5 253.3 72.0 253.3 71.5 253.3 72.0 253.3 71.5 253.3 72.0 253.3 71.5 253.3 72.0 253.3 71.5 253.3 72.0 253.3 71.5 253.3 72.0 253.3 71.5 253.3 72.0 253.3 71.5 253.3 72.0 253.3 71.5 253.3 72.0 253.3 71.5 253.3 72.0 253.3 71.5 253.3 72.0 253.3 71.5 253.3 72.0 253.3 71.5 253.3 72.0 253.3 71.5 253.3 72.0 253.3 71.5 253.3 72.0 253.3 71.5 253.3 72.0 253.3 71.5 253.3 72.0 253.3 71.5 253.3 72.0 253.3 71.5 253.3 72.0 253.3 71.5 253.3 72.0 253.3 71.5 253.3 72.0 253.3 71.5 253.3 72.0 253.3 71.5 253.3 72.0 253.3 71.5 253.3 72.0 253.3 71.5 253.3 72.0 253.3 71.5 253.3 72.0 253.3 71.5 253.3 72.0 253.3 71.5 253.3 72.0 253.3 71.5 253.3 72.0 253.3 71.5 253.3 72.0 253.3 71.5 253.3 72.0 253.3 71.5 253.3 72.0 253.3 71.5 253.3 72.0 253.3 71.5 253.3 72.0 253.3 71.5 253.3 72.0 253.3 71.5 253.3 72.0 253.3 71.5 253.3 72.0 253.3 71.5 253.3 72.0 253.3 71.5 253.3 72.0 253.3 71.5 253.3 72.0 253.3 71.5 253.3 72.0 253.3 71.5 253.3 72.0 253.3 71.5 253.3 72.0 253.3 71.5 253.3 72.0 253.3 71.5 253.3 72.0 253.3 71.5 253.3 72.0 253.3 71.5 253.3 72.0 253.3 71.5 253.3 72.0 253.3 71.5 253.3 72.0 253.3 71.5 253.3 72.0 253.3 71.5 253.3 72.0 253.3 71.5 253.3 72.0 253.3 71.5 253.3 72.0 253.3 71.5 253.3 72.0 253.3 71.5 253.3 72.0 253.3 71.5 253.3 72.0 253.3 71.5 253.3 72.0 253.3 71.5 253.3 72.0 253.3 71.5 253.3 72.0 253.3 71.5 253.3 72.0 253.3 71.5 253.3 72.0 253.3 71.5 253.3 72.0 253.3 71.5 253.3 72.0 253.3 71.5 253.3 72.0 253.3 71.5 253.3 72.0 253.3 71.5 253.3 72.0 253.3 71.5 253.3 72.0 253.3 71.5 253.3 72.0 253.3 71.5 253.3 72.0 253.3 71.5 253.3 72.0 253.3 71.5 253.3 72.0 253.3 71.5 253.3 72.0 253.3 71.5 253.3 72.0 253.3 71.5 253.3 72.0 253.3 71.5 253.3 72.0 253.3 71.5 253.3 72.0 253.3 71.5 253.3 72.0 253.3 71.5 253.3 72.0 253.3 71.5 253.3 72.0 253.3 71.5 253.3 72.0 253.3 71.5 253.3 72.0 253.3 71.5 253.3 72.0 253.3 71.5 253.3 72.0 253.3 71.5 253.3 72.0 253.3 71.5 253.3 72.0 253.3 71.5 253.3 72.0 253.3 71.5 253.3 72.0 253.3 71.5 253.3 72.0 253.3 71.5 253.3 72.0 253.3 71.5 253.3 72.0 253.3 71.5 253.3 72.0 253.3 71.5 253.3 72.0 253.3 71.5 253.3 72.0 253.3 71.5 253.3 72.0 253.3 71.5 253.3 72.0 253.3 71.5 253.3 72.0 253.3 71.5 253.3 72.0 253.3 71.5 253.3 72.0 253.3 71.5 253.3 72.0 253.3 71.5 253.3 72.0 253.3 71.5 253.3 72.0 253.3 71.5 253.3 72.0 253.3 71.5 253.3 72.0 253.3 71.5 253.3 72.0 253.3 71.5 253.3 72.0 253.3 71.5 253.3 72.0 253.3 71.5 253.3 72.0 253.3 71.5 253.3 72.0 253.3 71.5 253.3 72.0 253.3 71.5 253.3 72.0 253.3 71.5 253.3 72.0 253.3 71.5 253.3 72.0 253.3 71.5 253.3 72.0 253.3 71.5 253.3 72.0 253.3 71.5 253.3 72.0 253.3 71.5 253.3 72.0 253.3 71.5 253.3 72.0 253.3 71.5 253.3 72.0 253.3 71.5 253.3 72.0 253.3 71.5 253.3 72.0 253.3 71.5 253.3 72.0 253.3 71.5 253.3 72.0 253.3 71.5 253.3 72.0 253.3 71.5 253.3 72.0 253.3 71.5 253.3 72.0 253.3 71.5 253.3 72.0 253.3 71.5 253.3 72.0 253.3 71.5 253.3 72.0 253.3 71.5 253.3 72.0 253.3 71.5 253.3 72.0 253.3 71.5 253.3 72.0 253.3 71.5 253.3 72.0 253.3 71.5 253.3 72.0 253.3 71.5 253.3 72.0 253.3 71.5 253.3 72.0 253.3 71.5 253.3 72.0 253.3 71.5 253.3 72.0 253.3 71.5 253.3 72.0 253.3 71.5 253.3 72.0 253.3 71.5 253.3 72.0 253.3 71.5 253.3 72.0 253.3 71.5 253.3 72.0 253.3 71.5 253.3 72.0 253.3 71.5 253.3 72.0 253.3 71.5 253.3 72.0 253.3 71.5 253.3 72.0 253.3 71.5 253.3 72.0 253.3 71.5 253.3 72.0 253.3 71.5 253.3 72.0 253.3 71.5 253.3 72.0 253.3 71.5 253.3 72.0 253.3 71.5 253.3 72.0 253.3 71.5 253.3 72.0 253.3 71.5 253.3 72.0 253.3 71.5 253.3 72.0 253.3 71.5 253.3 72.0 253.3 71.5 253.3 72.0 253.3 71.5 253.3 72.0 253.3 71.5 253.3 72.0 253.3 71.5 253.3 72.0 253.3 71.5 253.3 72.0 253.3 71.5 253.3 72.0 253.3 71.5 253.3 72.0 253.3 71.5 253.3 72.0 253.3 71.5 253.3 72.0 253.3 71.5 253.3 72.0 253.3 71.5 253.3 72.0 253.3 71.5 253.3 72.0 253.3 71.5 253.3 72.0 253.3 71.5 253.3 72.0 253.3 71.5 253.3 72.0 253.3 71.5 253.3 72.0 253.3 71.5 253.3 72.0 253.3 71.5 253.3 72.0 253.3 71.5 253.3 72.0 253.3 71.5 253.3 72.0 253.3 71.5 253.3 72.0 253.3 71.5 253.3 72.0 253.3 71.5 253.3 72.0 253.3 71.5 253.3 72.0 253.3 71.5 253.3 72.0 253.3 71.5 253.3 72.0 253.3 71.5 253.3 72.0 253.3 71.5 253.3 72.0 253.3 71.5 253.3 72.0 253.3 71.5 253.3 72.0 253.3 71.5 253.3 72.0 253.3 71.5 253.3 72.0 253.3 71.5 253.3 72.0 253.3 71.5 253.3 72.0 253.3 71.5 253.3 72.0 253.3 71.5 253.3 72.0 253.3 71.5 253.3 72.0 253.3 71.5 253.3 72.0 253.3 71.5 253.3 72.0 253.3 71.5 253.3 72.0 253.3 71.5 253.3 72.0 253.3 71.5 253.3 72.0 253.3 71.5 253.3 72.0 253.3 71.5 253.3 72.0 253.3 71.5 253.3 72.0 253.3 71.5 253.3 72.0 253.3 71.5 253.3 72.0 253.3 71.5 253.3 72.0 253.3 71.5 253.3 72.0 253.3 71.5 253.3 72.0 253.3 71.5 253.3 72.0 253.3 71.5 253.3 72.0 253.3 71.5 253.3 72.0 253.3 71.5 253.3 72.0 253.3 71.5 253.3 72.0 253.3 71.5 253.3 72.0 253.3 71.5 253.3 72.0 253.3 71.5 253.3 72.0 253.3 71.5 253.3 72.0 253.3 71.5 253.3 72.0 253.3 71.5 253.3 72.0 253.3 71.5 253.3 72.0 253.3 71.5 253.3 72.0 253.3 71.5 253.3 72.0 253.3 71.5 253.3 72.0 253.3 71.5 253.3 72.0 253.3 71.5 253.3 72.0 253.3 71.5 253.3 72.0 253.3 71.5 253.3 72.0 253.3 71.5 253.3 72.0 253.3 71.5 253.3 72.0 253.3 71.5 253.3 72.0 253.3 71.5 253.3 72.0 253.3 71.5 253.3 72.0 253.3 71.5 253.3 72.0 253.3 71.5 253.3 72.0 253.3 71.5 253.3 72.0 253.3 71.5 253.3 72.0 253.3 71.5 253.3 72.0 253.3 71.5 253.3 72.0 253.3 71.5 253.3 72.0 253.3 71.5 253.3 72.0 253.3 71.5 253.3 72.0 253.3 71.5 253.3 72.0 253.3 71.5 253.3 72.0 253.3 71.5 253.3 72.0 253.3 71.5 253.3 72.0 253.3 71.5 253.3 72.0 253.3 71.5 253.3 72.0 253.3 71.5 253.3 72.0 253.3 71.5 253.3 72.0 253.3 71.5 253.3 72.0 253.3 71.5 253.3 72.0 253.3 71.5 253.3 72.0 253.3 71.5 253.3 72.0 253.3 71.5 253.3 72.0 253.3 71.5 253.3 72.0 253.3 71.5 253.3 72.0 253.3 71.5 253.3 72.0 253.3 71.5 253.3 72.0 253.3 71.5 253.3 72.0 253.3 71.5 253.3 72.0 253.3 71.5 253.3 72.0 253.3 71.5 253.3 72.0 253.3 71.5 253.3 72.0 253.3 71.5 253.3 72.0 253.3 71.5 253.3 72.0 253.3 71.5 253.3 72.0 253.3 71.5 253.3 72.0 253.3 71.5 253.3 72.0 253.3 71.5 253.3 72.0 253.3 71.5 253.3 72.0 253.3 71.5 253.3 72.0 253.3 71.5 253.3 72.0 253.3 71.5 253.3 72.0 253.3 71.5 253.3 72.0 253.3 71.5 253.3 72.0 253.3 71.5 253.3 72.0 253.3 71.5 253.3 72.0 253.3 71.5 253.3 72.0 253.3 71.5 253.3 72.0 253.3 71.5 253.3 72.0 253.3 71.5 253.3 72.0 253.3 71.5 253.3 72.0 253.3 71.5 253.3 72.0 253.3 71.5 253.3 72.0 253.3 71.5 253.3 72.0 253.3 71.5 253.3 72.0 253.3 71.5 253.3 72.0 253.3 71.5 253.3 72.0 253.3 71.5 253.3 72.0 253.3 71.5 253.3 72.0 253.3 71.5 253.3 72.0 253.3 71.5 253.3 72.0 253.3 71.5 253.3 72.0 253.3 71.5 253.3 72.0 253.3 71.5 253.3 72.0 253.3 71.5 253.3 72.0 253.3 71.5 253.3 72.0 253.3 71.5 253.3 72.0 253.3 71.5 253.3 72.0 253.3 71.5 253.3 72.0 253.3 71.5 253.3 72.0 253.3 71.5 253.3 72.0 253.3 71.5 253.3 72.0 253.3 71.5 253.3 72.0 253.3 71.5 253.3 72.0 253.3 71.5 253.3 72.0 253.3 71.5 253.3 72.0 253.3 71.5 253.3 72.0 253.3 71.5 253.3 72.0 253.3 71.5 253.3 72.0 253.3 71.5 253.3 72.0 253.3 71.5 253.3 72.0 253.3 71.5 253.3 72.0 253.3 71.5 253.3 72.0 253.3 71.5 253.3 72.0 253.3 71.5 253.3 72.0 253.3 71.5 253.3 72.0 253.3 71.5 253.3 72.0 253.3 71.5 253.3 72.0 253.3 71.5 253.3 72.0 253.3 71.5 253.3 72.0 253.3 71.5 253.3 72.0 253.3 71.5 253.3 72.0 253.3 71.5 253.3 72.0 253.3 71.5 253.3 72.0 253.3 71.5 253.3 72.0 253.3 71.5 253.3 72.0 253.3 71.5 253.3 72.0 253.3 71.5 253.3 72.0 253.3 71.5 253.3 72.0 253.3 71.5 253.3 72.0 253.3 71.5 253.3 72.0 253.3 71.5 253.3 72.0 253.3 71.5 253.3 72.0 253.3 71.5 253.3 72.0 253.3 71.5 253.3 72.0 253.3 71.5 253.3 72.0 253.3 71.5 253.3 72.0 253.3 71.5 253.3 72.0 253.3 71.5 253.3 72.0 253.3 71.5 253.3 72.0 253.3 71.5 253.3 72.0 253.3 71.5 253.3 72.0 253.3 71.5 253.3 72.0 253.3 71.5 253.3 72.0 253.3 71.5 253.3 72.0 253.3 71.5 253.3 72.0 253.3 71.5 253.3 72.0 253.3 71.5 253.3 72.0 253.3 71.5 253.3 72.0 253.3 71.5 253.3 72.0 253.3 71.5 253.3 72.0 253.3 71.5 253.3 72.0 253.3 71.5 253.3 72.0 253.3 71.5 253.3 72.0 253.3 71.5 253.3 72.0 253.3 71.5 253.3 72.0 253.3 71.5 253.3 72.0 253.3 71.5 253.3 72.0 253.3 71.5 253.3 72.0 253.3 71.5 253.3 72.0 253.3 71.5 253.3 72.0 253.3 71.5 253.3 72.0 253.3 71.5 253.3 72.0 253.3 71.5 253.3 72.0 253.3 71.5 253.3 72.0 253.3 71.5 253.3 72.0 253.3 71.5 253.3 72.0 253.3 71.5 253.3 72.0 253.3 71.5 253.3 72.0 253.3 71.5 253.3 72.0 253.3 71.5 253.3 72.0 253.3 71.5 253.3 72.0 253.3 71.5 253.3 72.0 253.3 71.5 253.3 72.0 253.3 71.5 253.3 72.0 253.3 71.5 253.3 72.0 253.3 71.5 253.3 72.0 253.3 71.5 253.3 72.0 253.3 71.5 253.3 72.0 253.3 71.5 253.3 72.0 253.3 71.5 253.3 72.0 253.3 71.5 253.3 72.0 253.3 71.5 253.3 72.0 253.3 71.5 253.3 72.0 253.3 71.5 253.3 72.0 253.3 71.5 253.3 72.0 253.3 71.5 253.3 72.0 253.3 71.5 253.3 72.0 253.3 71.5 253.3 72.0 253.3 71.5 253.3 72.0 253.3 71.5 253.3 72.0 253.3 71.5 253.3 72.0 253.3 71.5 253.3 72.0 253.3 71.5 253.3 72.0 253.3 71.5 253.3 72.0 253.3 71.5 253.3 72.0 253.3 71.5 253.3 72.0 253.3 71.5 253.3 72.0 253.3 71.5 253.3 72.0 253.3 71.5 253.3 72.0 253.3 71.5 253.3 72.0 253.3 71.5 253.3 72.0 253.3 71.5 253.3 72.0 253.3 71.5 253.3 72.0 253.3 71.5 253.3 72.0 253.3 71.5 253.3 72.0 253.3 71.5 253.3 72.0 253.3 71.5 253.3 72.0 253.3 71.5 253.3 72.0 253.3 71.5 253.3 72.0 253.3 71.5 253.3 72.0 253.3 71.5 253.3 72.0 253.3 71.5 253.3 72.0 253.3 71.5 253.3 72.0 253.3 71.5 253.3 72.0 253.3 71.5 253.3 72.0 253.3 71.5 253.3 72.0 253.3 71.5 253.3 72.0 253.3 71.5 253.3 72.0 253.3 71.5 253.3 72.0 253.3 71.5 253.3 72.0 253.3 71.5 253.3 72.0 253.3 71.5 253.3 72.0 253.3 71.5 253.3 72.0 253.3 71.5 253.3 72.0 253.3 71.5 253.3 72.0 253.3 71.5 253.3 72.0 253.3 71.5 253.3 72.0 253.3 71.5 253.3 72.0 253.3 71.5 253.3 72.0 253.3 71.5 253.3 72.0 253.3 71.5 253.3 72.0 253.3 71.5 253.3 72.0 253.3 71.5 253.3 72.0 253.3 71.5 253.3 72.0 253.3 71.5 253.3 72.0 253.3 71.5 253.3 72.0 253.3 71.5 253.3 72.0 253.3 71.5 253.3 72.0 253.3 71.5 253.3 72.0 253.3 71.5 253.3 72.0 253.3 71.5 253.3 72.0 253.3 71.5 253.3 72.0 253.3 71.5 253.3 72.0 253.3 71.5 253.3 72.0 253.3 71.5 253.3 72.0 253.3 71.5 253.3 72.0 253.3 71.5 253.3 72.0 253.3 71.5 253.3 72.0 253.3 71.5 253.3 72.0 253.3 71.5 253.3 72.0 253.3 71.5 253.3 72.0 253.3 71.5 253.3 72.0 253.3 71.5 253.3 72.0 253.3 71.5 253.3 72.0 253.3 71.5 253.3 72.0 253.3 71.5 253.3 72.0 253.3 71.5 253.3 72.0 253.3 71.5 253.3 72.0 253.3 71.5 253.3 72.0 253.3 71.5 253.3 72.0 253.3 71.5 253.3 72.0 253.3 71.5 253.3 72.0 253.3 71.5 253.3 72.0 253.3 71.5 253.3 72.0 253.3 71.5 253.3 72.0 253.3 71.5 253.3 72.0 253.3 71.5 253.3 72.0 253.3 71.5 253.3 72.0 253.3 71.5 253.3 72.0 253.3 71.5 253.3 72.0 253.3 71.5 253.3 72.0 253.3 71.5 253.3 72.0 253.3 71.5 253.3 72.0 253.3 71.5 253.3 72.0 253.3 71.5 253.3 72.0 253.3 71.5 253.3 72.0 253.3 71.5 253.3 72.0 253.3 71.5 253.3 72.0 253.3 71.5 253.3 72.0 253.3 71.5 253.3 72.0 253.3 71.5 253.3 72.0 253.3 71.5 253.3 72.0 253.3 71.5 253.3 72.0 253.3 71.5 253.3 72.0 253.3 71.5 253.3 72.0 253.3 71.5 253.3 72.0 253.3 71.5 253.3 72.0 253.3 71.5 253.3 72.0 253.3 71.5 253.3 72.0 253.3 71.5 253.3 72.0 253.3 71.5 253.3 72.0 253.3 71.5 253.3 72.0 253.3 71.5 253.3 72.0 253.3 71.5 253.3 72.0 253.3 71.5 253.3 72.0 253.3 71.5 253.3 72.0 253.3 71.5 253.3 72.0 253.3 71.5 253.3 72.0 253.3 71.5 253.3 72.0 253.3 71.5 253.3 72.0 253.3 71.5 253.3 72.0 253.3 71.5 253.3 72.0 253.3 71.5 253.3 72.0 253.3 71.5 253.3 72.0 253.3 71.5 253.3 72.0 253.3 71.5 253.3 72.0 253.3 71.5 253.3 72.0 253.3 71.5 253.3 72.0 253.3 71.5 253.3 72.0 253.3 71.5 253.3 72.0 253.3 71.5 253.3 72.0 253.3 71.5 253.3 72.0 253.3 71.5 253.3 72.0 253.3 71.5 253.3 72.0 253.3 71.5 253.3 72.0 253.3 71.5 253.3 72.0 253.3 71.5 253.3 72.0 253.3 71.5 253.3 72.0 253.3 71.5 253.3 72.0 253.3 71.5 253.3 72.0 253.3 71.5 253.3 72.0 253.3 71.5 253.3 72.0 253.3 71.5 253.3 72.0 253.3 71.5 253.3 72.0 253.3 71.5 253.3 72.0 253.3 71.5 253.3 72.0 253.3 71.5 253.3 72.0 253.3 71.5 253.3 72.0 253.3 71.5 253.3 72.0 253.3 71.5 253.3 72.0 253.4 71.5 253.3 72.0 253.4 71.5 253.3 72.0 253.4 71.5 253.3 72.0 253.4 71.5 253.3 72.0 253.4 71.5 253.3 72.0 253.4 71.5 253.4 72.0 253.4 71.5 253.4 72.0 253.4 71.5 253.4 72.0 253.4 71.5 253.4 72.0 253.4 71.5 253.4 72.0 253.4 71.5 253.4 72.0 253.4 71.5 253.4 72.0 253.4 71.5 253.4 72.0 253.4 71.5 253.4 72.0 253.4 71.5 253.4 72.0 253.4 71.5 253.4 72.0 253.4 71.5 253.4 72.0 253.4 71.5 253.4 72.0 253.4 71.5 253.4 72.0 253.4 71.5 253.4 72.0 253.4 71.5 253.4 72.0 253.4 71.5 253.4 72.0 253.4 71.5 253.4 72.0 253.4 71.5 253.4 72.0 253.4 71.5 253.4 72.0 253.4 71.5 253.4 72.0 253.4 71.5 253.4 72.0 253.4 71.5 253.4 72.0 253.4 71.5 253.4 72.0 253.4 71.5 253.4 72.0 253.4 71.5 253.4 72.0 253.4 71.5 253.4 72.0 253.4 71.5 253.4 72.0 253.4 71.5 253.4 72.0 253.4 71.5 253.4 72.0 253.4 71.5 253.4 72.0 253.4 71.5 253.4 72.0 253.4 71.5 253.4 72.0 253.4 71.5 253.4 72.0 253.4 71.5 253.4 72.0 253.4 71.5 253.4 72.0 253.4 71.5 253.4 72.0 253.4 71.5 253.4 72.0 253.4 71.5 253.4 72.0 253.4 71.5 253.4 72.0 253.4 71.5 253.4 72.0 253.4 71.5 253.4 72.0 253.4 71.5 253.4 72.0 253.4 71.5 253.4 72.0 253.4 71.5 253.4 72.0 253.4 71.5 253.4 72.0 253.4 71.5 253.4 72.0 253.4 71.5 253.4 72.0 253.4 71.5 253.4 72.0 253.4 71.5 253.4 72.0 253.4 71.5 253.4 72.0 253.4 71.5 253.4 72.0 253.4 71.5 253.4 72.0 253.4 71.5 253.4 72.0 253.4 71.5 253.4 72.0 253.4 71.5 253.4 72.0 253.4 71.5 253.4 72.0 253.4 71.5 253.4 72.0 253.4 71.5 253.4 72.0 253.4 71.5 253.4 72.0 253.4 71.5 253.4 72.0 253.4 71.5 253.4 72.0 253.4 71.5 253.4 72.0 253.5 71.5 253.4 72.0 253.5 71.5 253.5 72.0 253.5 71.5 253.5 72.0 253.5 71.5 253.5 72.0 253.5 71.5 253.5 72.0 253.5 71.5 253.5 72.0 253.5 71.5 253.5 72.0 253.5 71.5 253.5 72.0 253.5 71.5 253.5 72.0 253.5 71.5 253.6 72.0 253.6 71.5 253.6 72.0 253.6 71.5 253.6 72.0 253.6 71.5 253.6 72.0 253.7 71.5 253.7 72.0 253.7 71.5 253.7 72.0 253.7 71.5 253.8 72.0 254.0 71.5 254.0 72.0 254.1 71.5 254.1 72.0 254.1 71.5 254.3 72.0 254.4 71.5 254.4 72.0 254.5 71.5 254.6 72.0 254.7 71.5 254.8 72.0 254.9 71.5 255.0 71.9 255.2 71.4 255.3 71.9 255.8 71.7 260.3 71.9 263.8 68.5 265.6 67.5 267.5 66.9 271.0 66.6 274.4 67.2 276.3 67.9 278.5 69.2 280.4 70.7 282.1 72.6 283.2 74.3 284.3 76.5 285.0 78.9 285.3 81.4 285.2 83.9 284.8 86.3 283.9 88.7 282.7 90.9 281.2 92.9 279.4 94.6 277.3 95.9 275.0 97.0 271.1 97.8 267.6 97.5 265.7 96.9 263.9 96.0 262.4 94.7 260.4 92.5 255.9 92.5 255.6 92.9 255.5 92.5 255.3 92.9 255.2 92.4 255.0 92.9 254.9 92.4 254.6 92.8 254.4 92.3M232.2 138.1 236.2 133.0 239.6 128.1 242.9 122.5 245.5 117.1 247.7 111.5 249.4 106.3 251.0 99.4 252.0 92.5 252.1 93.0 252.1 92.5 252.2 93.0M250.9 72.0 250.5 71.7 250.1 72.0 249.6 71.7 247.7 71.8 245.9 68.8 243.9 66.5 241.6 64.7 238.9 63.3 236.5 62.6 233.6 62.1 230.6 62.1 227.6 62.5 224.7 63.4 221.6 65.0 219.2 66.8 216.8 69.3 215.0 71.7 213.5 74.9 212.6 77.7 212.1 81.2 212.3 84.7 213.0 88.1 214.3 91.4 215.9 93.9 218.1 96.6 220.4 98.5 223.4 100.4 226.2 101.5 229.6 102.2 232.6 102.4 235.6 102.0 238.4 101.2 241.6 99.7 243.9 97.8 245.9 95.6 247.7 92.6 249.7 92.7M245.0 72.0 242.0 72.0 240.5 72.3 238.7 73.1 237.2 74.4 235.9 75.9 234.7 78.1 234.2 80.1 234.0 82.5 234.3 85.0 235.0 86.9 236.3 89.0 237.7 90.5 239.3 91.6 240.7 92.2 245.2 92.4M250.8 69.1 249.5 63.8 247.6 58.7 245.1 53.7 242.2 49.1 238.8 44.8 235.0 40.8 230.8 37.2 225.9 33.8 221.1 31.1 216.0 28.9 210.8 27.2 204.9 26.0 199.5 25.4 194.0 25.3 188.5 25.8 182.6 26.9M241.0 43.9 236.1 37.5 230.1 31.5 223.4 26.3 216.1 21.9M250.1 59.0 248.8 54.2 247.1 48.9 243.0 39.3 237.8 30.1 231.7 21.6M249.9 50.5 248.3 43.2 246.3 36.0 244.0 28.8 241.4 21.8M253.1 68.9 252.3 45.5 250.6 21.5M254.9 53.2 257.0 37.3 259.9 21.6M257.3 52.2 259.4 44.5 262.3 36.5 265.5 29.1 269.4 21.6M260.2 49.6 263.8 41.9 268.2 34.7 273.4 27.9 279.1 21.7M265.3 44.1 270.1 37.7 276.0 31.6 282.6 26.3 289.8 21.8M269.5 42.1 274.6 37.3 280.6 32.8 287.1 29.1 294.0 26.3 300.8 24.5 308.2 23.5 315.7 23.4 323.2 24.3M275.2 39.8 280.2 36.5 286.0 33.6 291.7 31.6 298.0 30.2 304.0 29.5 310.5 29.6 316.9 30.5 323.2 32.2M233.0 42.0 227.6 38.4 221.7 35.5 215.6 33.4 208.7 32.0 202.3 31.6 195.8 32.1 189.4 33.3 182.8 35.6M222.8 38.6 218.1 37.1 213.2 36.0 208.2 35.5 202.7 35.6 197.8 36.2 192.4 37.5 187.7 39.3 182.8 41.7M256.4 69.5 257.9 64.7 259.9 60.2 262.5 55.9 265.6 52.0 269.2 48.5 273.5 45.1 277.8 42.5 282.8 40.2 287.6 38.7 293.0 37.7 298.0 37.3 303.5 37.6 308.4 38.4 313.7 39.9 318.3 41.9 323.1 44.6M244.4 57.1 241.9 53.9 238.8 50.7 235.8 48.1 232.0 45.5 228.5 43.6 224.4 41.9 220.1 40.6 215.7 39.7 211.7 39.4 207.2 39.4 202.7 39.9 198.3 40.9 194.5 42.2 190.4 44.0 186.5 46.3 182.9 48.9M227.8 45.8 222.1 44.1 215.6 43.2 209.6 43.3 203.3 44.6 197.6 46.6 191.9 49.7 187.2 53.5 182.8 58.2M266.0 55.0 269.0 52.4 272.3 50.2 275.9 48.4 280.1 46.8 284.0 45.8 287.9 45.2 291.9 45.1 296.4 45.5 300.3 46.3 304.1 47.5 307.8 49.2 311.7 51.4 314.9 53.9 318.1 57.0 320.7 60.0 323.1 63.8M282.1 43.0 287.4 41.6 292.9 41.0 298.4 41.0 303.8 41.8 309.1 43.3 314.1 45.5 318.8 48.4 323.1 51.8M240.8 56.0 237.3 53.2 233.4 50.8 229.3 49.0 225.0 47.8 220.6 47.1 216.1 46.9 211.6 47.4 206.7 48.6 202.5 50.2 198.6 52.4 195.0 55.0 191.3 58.4 188.5 62.0 186.2 65.8 184.4 69.9 183.0 74.7M270.3 54.3 274.3 52.3 279.1 50.8 283.5 50.1 288.5 50.1 292.9 50.7 297.7 52.1 302.2 54.3 306.4 57.1 309.7 60.2 312.8 64.1 315.0 68.0 316.9 72.6 318.0 77.5 318.4 82.4 317.9 87.4 316.9 91.8 315.0 96.4 312.5 100.7 309.3 104.6 306.0 107.6 301.8 110.4 297.3 112.4 292.5 113.8 288.0 114.4 283.0 114.2 278.1 113.4 273.4 111.7 269.4 109.6 265.4 106.6 262.3 103.3 259.5 99.2 257.7 95.1M232.7 52.9 228.4 51.6 224.0 50.8 219.5 50.7 215.0 51.3 210.7 52.4 206.6 54.2 202.7 56.6 198.9 59.8 196.0 63.2 193.5 67.0 191.6 71.1 190.3 75.4 189.7 79.8 189.7 84.8 190.4 89.3 191.7 93.6 193.9 98.1 196.4 101.8 199.4 105.1 202.9 107.9 207.2 110.5 211.4 112.2 215.7 113.3 220.2 113.7 225.2 113.5 229.6 112.5 233.8 111.0 237.8 108.8 241.3 106.1 244.4 102.9 247.0 99.1 248.8 95.0M246.5 65.9 244.4 63.1 241.5 60.3 238.7 58.3 235.1 56.5 231.8 55.3 227.9 54.6 223.9 54.4 219.9 54.8 216.5 55.6 212.8 57.1 209.3 59.1 206.1 61.5 203.7 64.0 201.3 67.2 199.4 70.7 198.0 74.5 197.3 77.9 196.9 81.9 197.2 85.9 198.0 89.8 199.4 93.5 201.2 97.1 203.6 100.3 206.0 102.8 209.2 105.3 212.6 107.3 216.4 108.7 219.8 109.6 223.7 110.0 227.2 109.9 231.2 109.2 234.5 108.2M259.0 69.5 260.8 66.5 263.1 63.8 265.8 61.6 269.3 59.7 272.6 58.5 276.5 57.8 280.0 57.7 283.9 58.3 287.3 59.3 290.9 61.0 293.8 63.0 296.7 65.7 298.9 68.5 300.8 72.0 302.0 75.2 302.9 79.1 303.0 83.1 302.6 86.6 301.6 90.5 300.2 93.7 298.1 97.0 295.8 99.7 293.1 101.9 290.1 103.8 286.5 105.4 283.1 106.3 279.1 106.7 275.6 106.5 271.7 105.6 268.5 104.3 265.5 102.6 262.8 100.3M272.3 56.3 275.1 55.4 278.6 54.8 281.6 54.6 285.1 54.8 288.0 55.3 291.4 56.3 294.6 57.8 297.5 59.6 299.9 61.4 302.4 63.9 304.2 66.3 306.1 69.3 307.3 72.0 308.4 75.3 309.0 78.7 309.3 82.2 309.0 85.7 308.4 89.2 307.3 92.5 306.0 95.2 304.2 98.2 302.3 100.5 299.8 103.0 297.5 104.9 294.5 106.7 291.3 108.1 288.0 109.1 285.0 109.6 281.5 109.8 278.5 109.6 275.1 109.0 272.2 108.1M236.1 59.4 233.2 58.6 230.2 58.1 227.2 58.0 224.2 58.3 221.3 59.0 218.5 60.1 215.8 61.5 213.4 63.2 211.1 65.2 209.2 67.4 207.5 69.9 206.1 72.6 205.1 75.4 204.5 78.3 204.2 81.3 204.3 84.8 204.9 88.3 205.9 91.1 207.1 93.8 208.7 96.4 210.6 98.7 212.8 100.8 215.2 102.5 217.8 104.0 220.6 105.1 223.5 105.9 226.5 106.3 229.5 106.3 232.4 106.0 235.3 105.3 238.1 104.1 240.7 102.7M267.7 63.0 272.0 61.8 274.5 61.6 277.0 61.7 279.5 62.1 281.9 62.8 284.2 63.8 286.3 65.1 288.3 66.6 290.1 68.4 291.6 70.3 292.9 72.5 294.0 74.8 294.7 77.1 295.2 79.6 295.3 82.1 295.2 84.6 294.8 87.0 294.0 89.4 293.0 91.7 291.8 93.9 290.2 95.8 288.5 97.6 286.5 99.2 284.4 100.5 282.1 101.5 279.7 102.2 277.3 102.7 274.8 102.8 272.3 102.6 267.9 101.5M237.6 65.2 234.1 65.0 230.7 65.5 227.4 66.8 224.1 69.0 221.7 71.5 219.6 74.9 218.5 78.2 218.0 82.2 218.5 86.1 219.6 89.5 221.7 92.9 224.1 95.4 227.4 97.6 230.6 98.9 234.1 99.4 237.6 99.2M242.8 69.6 240.1 68.3 237.1 68.1 233.7 68.7 230.6 70.3 227.9 72.6 225.9 75.4 224.7 78.7 224.3 82.2 224.7 85.6 225.9 88.9 227.9 91.8 230.5 94.1 233.6 95.6 237.0 96.3 240.5 95.9 243.2 94.6M264.8 70.5 266.7 70.1 269.2 70.3 271.5 71.2 273.6 72.6 275.3 74.4 276.7 76.5 277.5 78.8 278.0 81.8 277.7 84.8 277.0 87.2 275.8 89.3 274.2 91.2 271.8 93.0 269.5 94.0 267.0 94.3 265.1 94.0M241.3 75.0 239.6 78.6 239.0 82.0 239.1 84.0 239.6 85.9 241.4 89.5M183.6 77.1 183.2 81.6 183.4 86.1 184.2 90.5 185.6 94.8 187.5 98.9 189.9 102.7 192.8 106.1 196.1 109.2 199.7 111.8 203.7 113.9 207.9 115.5 212.3 116.5 216.8 116.9 221.3 116.8 225.7 116.1 230.0 114.7M265.0 138.0 260.9 127.3 257.8 116.7 255.6 106.0 254.3 95.0M323.0 94.0 321.5 97.7 319.8 100.7 317.8 103.6 315.6 106.3 312.7 109.1 310.0 111.3 307.0 113.1 303.9 114.7 300.2 116.1 296.8 117.0 293.3 117.6 289.8 117.8 286.3 117.6 282.9 117.1 279.5 116.3 276.2 115.1M182.7 105.1 185.6 108.6 188.8 111.7 192.4 114.4 195.9 116.5 200.0 118.3 203.8 119.6 208.2 120.5 212.1 120.9 216.6 120.9 221.1 120.3 225.5 119.2 229.2 117.8 233.2 115.8 236.6 113.6 240.0 110.7 242.8 107.8M323.3 105.1 319.4 109.7 315.2 113.2 310.1 116.4 305.0 118.6 299.2 120.1 293.8 120.7 288.3 120.5 282.9 119.5M292.7 138.1 286.3 135.3 280.7 132.1 275.5 128.2 270.7 123.8 266.1 118.5 262.5 113.1 259.5 107.4 257.2 101.3M183.0 115.0 188.3 118.8 193.6 121.5 199.8 123.6 205.7 124.6 212.2 124.8 218.1 124.1 223.9 122.5 229.4 120.2M182.8 132.9 187.6 134.3 192.6 135.1 197.5 135.6 202.0 135.5 207.0 135.1 211.4 134.2 216.2 132.9 220.5 131.3 224.9 129.1 228.8 126.8 232.8 123.8 236.2 120.9 239.7 117.2 242.4 113.7 245.2 109.5 247.2 105.5M247.8 138.2 250.6 121.0 252.4 103.6M323.1 115.1 319.4 117.7 315.5 120.0 311.4 121.8 307.1 123.2 302.7 124.1 298.3 124.6 293.8 124.5 289.8 124.1 285.4 123.2 281.1 121.8 277.0 120.0 273.1 117.7 269.5 115.0 266.2 112.0 263.3 108.6 261.0 105.3M182.9 124.1 189.3 126.9 195.6 128.7 202.0 129.6 208.5 129.6 214.9 128.7 221.2 126.9 227.2 124.4 232.7 121.0M256.1 138.5 254.9 124.5 254.0 110.5M323.2 122.3 317.8 124.9 312.6 126.7 307.2 127.9 301.8 128.4 295.8 128.3 290.3 127.4 285.1 126.0 280.0 123.9M272.6 138.2 268.6 132.5 265.2 127.0 262.1 120.7 259.6 114.7M323.2 128.5 318.0 130.3 313.2 131.5 307.7 132.2 302.7 132.3 297.3 131.9 292.3 131.0 287.5 129.6 282.9 127.7M220.8 138.1 227.0 134.0 232.7 129.2 237.8 123.7 242.3 117.6M241.2 138.1 245.8 126.5 249.1 115.0"/><radialGradient id="nm1" gradientUnits="userSpaceOnUse" cx="253.3" cy="82.2" r="30" gradientTransform="translate(253.3 82.2) scale(1.25 1) translate(-253.3 -82.2)"><stop offset="0.3" stop-color="#fff"/><stop offset="1" stop-color="#000"/></radialGradient><mask id="mk1"><rect x="186" y="25" width="134" height="110" fill="url(#nm1)"/></mask><clipPath id="clip2"><rect x="339" y="25" width="131.5" height="110"/></clipPath><path id="fl2" d="M445.2 73.4 447.3 75.5 448.7 77.7 449.5 80.0 449.7 82.5 449.5 85.0 448.7 87.3 447.3 89.5 445.2 91.6M433.3 72.3 433.3 71.8 433.3 72.3 433.3 71.8 433.3 72.3 433.3 71.8 433.3 72.3 433.3 71.8 433.3 72.3 433.3 71.8 433.3 72.3 433.3 71.8 433.3 72.3 433.3 71.8 433.3 72.3 433.3 71.8 433.3 72.3 433.3 71.8 433.3 72.3 433.3 71.8 433.3 72.3 433.3 71.8 433.3 72.3 433.3 71.8 433.3 72.3 433.3 71.8 433.3 72.3 433.3 71.8 433.3 72.3 433.3 71.8 433.3 72.3 433.3 71.8 433.3 72.3 433.3 71.8 433.3 72.3 433.3 71.8 433.3 72.3 433.3 71.8 433.3 72.3 433.3 71.8 433.3 72.3 433.3 71.8 433.3 72.3 433.3 71.8 433.3 72.3 433.3 71.8 433.3 72.3 433.3 71.8 433.3 72.3 433.3 71.8 433.3 72.3 433.3 71.8 433.3 72.3 433.3 71.8 433.3 72.3 433.3 71.8 433.3 72.3 433.3 71.8 433.3 72.3 433.3 71.8 433.3 72.3 433.3 71.8 433.3 72.3 433.3 71.8 433.3 72.3 433.3 71.8 433.3 72.3 433.3 71.8 433.3 72.3 433.3 71.8 433.3 72.3 433.3 71.8 433.3 72.3 433.3 71.8 433.3 72.3 433.3 71.8 433.3 72.3 433.3 71.8 433.3 72.3 433.3 71.8 433.3 72.3 433.3 71.8 433.3 72.3 433.3 71.8 433.3 72.3 433.3 71.8 433.3 72.3 433.3 71.8 433.3 72.3 433.3 71.8 433.3 72.3 433.3 71.8 433.3 72.3 433.3 71.8 433.3 72.3 433.3 71.8 433.3 72.3 433.3 71.8 433.3 72.3 433.3 71.8 433.3 72.3 433.3 71.8 433.3 72.3 433.3 71.8 433.3 72.3 433.3 71.8 433.3 72.3 433.3 71.8 433.3 72.3 433.3 71.8 433.3 72.3 433.3 71.8 433.3 72.3 433.3 71.8 433.3 72.3 433.3 71.8 433.3 72.3 433.3 71.8 433.3 72.3 433.3 71.8 433.3 72.3 433.3 71.8 433.3 72.3 433.3 71.8 433.3 72.3 433.3 71.8 433.3 72.3 433.3 71.8 433.3 72.3 433.3 71.8 433.3 72.3 433.3 71.8 433.3 72.3 433.3 71.8 433.3 72.3 433.3 71.8 433.3 72.3 433.3 71.8 433.3 72.3 433.3 71.8 433.3 72.3 433.3 71.8 433.3 72.3 433.3 71.8 433.3 72.3 433.3 71.8 433.3 72.3 433.3 71.8 433.3 72.3 433.3 71.8 433.3 72.3 433.3 71.8 433.3 72.3 433.3 71.8 433.3 72.3 433.3 71.8 433.3 72.3 433.3 71.8 433.3 72.3 433.3 71.8 433.3 72.3 433.3 71.8 433.3 72.3 433.3 71.8 433.3 72.3 433.3 71.8 433.3 72.3 433.3 71.8 433.3 72.3 433.3 71.8 433.3 72.3 433.3 71.8 433.3 72.3 433.3 71.8 433.3 72.3 433.3 71.8 433.3 72.3 433.3 71.8 433.3 72.3 433.3 71.8 433.3 72.3 433.3 71.8 433.3 72.3 433.3 71.8 433.3 72.3 433.3 71.8 433.3 72.3 433.3 71.8 433.3 72.3 433.3 71.8 433.3 72.3 433.3 71.8 433.3 72.3 433.3 71.8 433.3 72.3 433.3 71.8 433.3 72.3 433.3 71.8 433.3 72.3 433.3 71.8 433.3 72.3 433.3 71.8 433.3 72.3 433.3 71.8 433.3 72.3 433.3 71.8 433.3 72.3 433.3 71.8 433.3 72.3 433.3 71.8 433.3 72.3 433.3 71.8 433.3 72.3 433.3 71.8 433.3 72.3 433.3 71.8 433.3 72.3 433.3 71.8 433.3 72.3 433.3 71.8 433.3 72.3 433.3 71.8 433.3 72.3 433.3 71.8 433.3 72.3 433.3 71.8 433.3 72.3 433.3 71.8 433.3 72.3 433.3 71.8 433.3 72.3 433.3 71.8 433.3 72.3 433.3 71.8 433.3 72.3 433.3 71.8 433.3 72.3 433.3 71.8 433.3 72.3 433.3 71.8 433.3 72.3 433.3 71.8 433.3 72.3 433.3 71.8 433.3 72.3 433.3 71.8 433.3 72.3 433.3 71.8 433.3 72.3 433.3 71.8 433.3 72.3 433.3 71.8 433.3 72.3 433.3 71.8 433.3 72.3 433.3 71.8 433.3 72.3 433.3 71.8 433.3 72.3 433.3 71.8 433.3 72.3 433.3 71.8 433.3 72.3 433.3 71.8 433.3 72.3 433.3 71.8 433.3 72.3 433.3 71.8 433.3 72.3 433.3 71.8 433.3 72.3 433.3 71.8 433.3 72.3 433.3 71.8 433.3 72.3 433.3 71.8 433.3 72.3 433.3 71.8 433.3 72.3 433.3 71.8 433.3 72.3 433.3 71.8 433.3 72.3 433.3 71.8 433.3 72.3 433.3 71.8 433.3 72.3 433.3 71.8 433.3 72.3 433.3 71.8 433.3 72.3 433.3 71.8 433.3 72.3 433.3 71.8 433.3 72.3 433.3 71.8 433.3 72.3 433.3 71.8 433.3 72.3 433.3 71.8 433.3 72.3 433.3 71.8 433.3 72.3 433.3 71.8 433.3 72.3 433.3 71.8 433.3 72.3 433.3 71.8 433.3 72.3 433.3 71.8 433.3 72.3 433.3 71.8 433.3 72.3 433.3 71.8 433.3 72.3 433.3 71.8 433.3 72.3 433.3 71.8 433.3 72.3 433.3 71.8 433.3 72.3 433.3 71.8 433.3 72.3 433.3 71.8 433.3 72.3 433.3 71.8 433.3 72.3 433.3 71.8 433.3 72.3 433.3 71.8 433.3 72.3 433.3 71.8 433.3 72.3 433.3 71.8 433.3 72.3 433.3 71.8 433.3 72.3 433.3 71.8 433.3 72.3 433.3 71.8 433.3 72.3 433.3 71.8 433.3 72.3 433.3 71.8 433.3 72.3 433.3 71.8 433.3 72.3 433.3 71.8 433.3 72.3 433.3 71.8 433.3 72.3 433.3 71.8 433.3 72.3 433.3 71.8 433.3 72.3 433.3 71.8 433.3 72.3 433.3 71.8 433.3 72.3 433.3 71.8 433.3 72.3 433.3 71.8 433.3 72.3 433.3 71.8 433.3 72.3 433.3 71.8 433.3 72.3 433.3 71.8 433.3 72.3 433.3 71.8 433.3 72.3 433.3 71.8 433.3 72.3 433.3 71.8 433.3 72.3 433.3 71.8 433.3 72.3 433.3 71.8 433.3 72.3 433.3 71.8 433.3 72.3 433.3 71.8 433.3 72.3 433.3 71.8 433.3 72.3 433.3 71.8 433.3 72.3 433.3 71.8 433.3 72.3 433.3 71.8 433.3 72.3 433.3 71.8 433.3 72.3 433.3 71.8 433.3 72.3 433.3 71.8 433.3 72.3 433.3 71.8 433.3 72.3 433.3 71.8 433.3 72.3 433.3 71.8 433.3 72.3 433.3 71.8 433.3 72.3 433.3 71.8 433.3 72.3 433.3 71.8 433.3 72.3 433.3 71.8 433.3 72.3 433.3 71.8 433.3 72.3 433.3 71.8 433.3 72.3 433.3 71.8 433.3 72.3 433.3 71.8 433.3 72.3 433.3 71.8 433.3 72.3 433.3 71.8 433.3 72.3 433.3 71.8 433.3 72.3 433.3 71.8 433.3 72.3 433.3 71.8 433.3 72.3 433.3 71.8 433.3 72.3 433.3 71.8 433.3 72.3 433.3 71.8 433.3 72.3 433.3 71.8 433.3 72.3 433.3 71.8 433.3 72.3 433.3 71.8 433.3 72.3 433.3 71.8 433.3 72.3 433.3 71.8 433.3 72.3 433.3 71.8 433.3 72.3 433.3 71.8 433.3 72.3 433.3 71.8 433.3 72.3 433.3 71.8 433.3 72.3 433.3 71.8 433.3 72.3 433.3 71.8 433.3 72.3 433.3 71.8 433.3 72.3 433.3 71.8 433.3 72.3 433.3 71.8 433.3 72.3 433.3 71.8 433.3 72.3 433.3 71.8 433.3 72.3 433.3 71.8 433.3 72.3 433.3 71.8 433.3 72.3 433.3 71.8 433.3 72.3 433.3 71.8 433.3 72.3 433.3 71.8 433.3 72.3 433.3 71.8 433.3 72.3 433.3 71.8 433.3 72.3 433.3 71.8 433.3 72.3 433.3 71.8 433.3 72.3 433.3 71.8 433.3 72.3 433.3 71.8 433.3 72.3 433.3 71.8 433.3 72.3 433.3 71.8 433.3 72.3 433.3 71.8 433.3 72.3 433.3 71.8 433.3 72.3 433.3 71.8 433.3 72.3 433.3 71.8 433.3 72.3 433.3 71.8 433.3 72.3 433.3 71.8 433.3 72.3 433.3 71.8 433.3 72.3 433.3 71.8 433.3 72.3 433.3 71.8 433.3 72.3 433.3 71.8 433.3 72.3 433.3 71.8 433.3 72.3 433.3 71.8 433.3 72.3 433.3 71.8 433.3 72.3 433.3 71.8 433.3 72.3 433.3 71.8 433.3 72.3 433.3 71.8 433.3 72.3 433.3 71.8 433.3 72.3 433.3 71.8 433.3 72.3 433.3 71.8 433.3 72.3 433.3 71.8 433.3 72.3 433.3 71.8 433.3 72.3 433.3 71.8 433.3 72.3 433.3 71.8 433.3 72.3 433.3 71.8 433.3 72.3 433.3 71.8 433.3 72.3 433.3 71.8 433.3 72.3 433.3 71.8 433.3 72.3 433.3 71.8 433.3 72.3 433.3 71.8 433.3 72.3 433.3 71.8 433.3 72.3 433.3 71.8 433.3 72.3 433.3 71.8 433.3 72.3 433.3 71.8 433.3 72.3 433.3 71.8 433.3 72.3 433.3 71.8 433.3 72.3 433.3 71.8 433.3 72.3 433.3 71.8 433.3 72.3 433.3 71.8 433.3 72.3 433.3 71.8 433.3 72.3 433.3 71.8 433.3 72.3 433.3 71.8 433.3 72.3 433.3 71.8 433.3 72.3 433.3 71.8 433.3 72.3 433.3 71.8 433.3 72.3 433.3 71.8 433.3 72.3 433.3 71.8 433.3 72.3 433.3 71.8 433.3 72.3 433.3 71.8 433.3 72.3 433.3 71.8 433.3 72.3 433.3 71.8 433.3 72.3 433.3 71.8 433.3 72.3 433.3 71.8 433.3 72.3 433.3 71.8 433.3 72.3 433.3 71.8 433.3 72.3 433.3 71.8 433.3 72.3 433.3 71.8 433.3 72.3 433.3 71.8 433.3 72.3 433.3 71.8 433.3 72.3 433.3 71.8 433.3 72.3 433.3 71.8 433.3 72.3 433.3 71.8 433.3 72.3 433.3 71.8 433.3 72.3 433.3 71.8 433.3 72.3 433.3 71.8 433.3 72.3 433.3 71.8 433.3 72.3 433.3 71.8 433.3 72.3 433.3 71.8 433.3 72.3 433.3 71.8 433.3 72.3 433.3 71.8 433.3 72.3 433.3 71.8 433.3 72.3 433.3 71.8 433.3 72.3 433.3 71.8 433.3 72.3 433.3 71.8 433.3 72.3 433.3 71.8 433.3 72.3 433.3 71.8 433.3 72.3 433.3 71.8 433.3 72.3 433.3 71.8 433.3 72.3 433.3 71.8 433.3 72.3 433.3 71.8 433.3 72.3 433.3 71.8 433.3 72.3 433.3 71.8 433.3 72.3 433.3 71.8 433.3 72.3 433.3 71.8 433.3 72.3 433.3 71.8 433.3 72.3 433.3 71.8 433.3 72.3 433.3 71.8 433.3 72.3 433.3 71.8 433.3 72.3 433.3 71.8 433.3 72.3 433.3 71.8 433.3 72.3 433.3 71.8 433.3 72.3 433.3 71.8 433.3 72.3 433.3 71.8 433.3 72.3 433.3 71.8 433.3 72.3 433.3 71.8 433.3 72.3 433.3 71.8 433.3 72.3 433.3 71.8 433.3 72.3 433.3 71.8 433.3 72.3 433.3 71.8 433.3 72.3 433.3 71.8 433.3 72.3 433.3 71.8 433.3 72.3 433.3 71.8 433.3 72.3 433.3 71.8 433.3 72.3 433.3 71.8 433.3 72.3 433.3 71.8 433.3 72.3 433.3 71.8 433.3 72.3 433.3 71.8 433.3 72.3 433.3 71.8 433.3 72.3 433.3 71.8 433.3 72.3 433.3 71.8 433.3 72.3 433.3 71.8 433.3 72.3 433.3 71.8 433.3 72.3 433.3 71.8 433.3 72.3 433.3 71.8 433.3 72.3 433.3 71.8 433.3 72.3 433.3 71.8 433.3 72.3 433.3 71.8 433.3 72.3 433.3 71.8 433.3 72.3 433.3 71.8 433.3 72.3 433.3 71.8 433.3 72.3 433.3 71.8 433.3 72.3 433.3 71.8 433.3 72.3 433.3 71.8 433.3 72.3 433.3 71.8 433.3 72.3 433.3 71.8 433.3 72.3 433.3 71.8 433.3 72.3 433.3 71.8 433.3 72.3 433.3 71.8 433.3 72.3 433.3 71.8 433.3 72.3 433.3 71.8 433.3 72.3 433.3 71.8 433.3 72.3 433.3 71.8 433.3 72.3 433.3 71.8 433.3 72.3 433.3 71.8 433.3 72.3 433.3 71.8 433.3 72.3 433.3 71.8 433.3 72.3 433.3 71.8 433.3 72.3 433.3 71.8 433.3 72.3 433.3 71.8 433.3 72.3 433.3 71.8 433.3 72.3 433.3 71.8 433.3 72.3 433.3 71.8 433.3 72.3 433.3 71.8 433.3 72.3 433.3 71.8 433.3 72.3 433.3 71.8 433.3 72.3 433.3 71.8 433.3 72.3 433.3 71.8 433.3 72.3 433.3 71.8 433.3 72.3 433.3 71.8 433.3 72.3 433.3 71.8 433.3 72.3 433.3 71.8 433.3 72.3 433.3 71.8 433.3 72.3 433.3 71.8 433.3 72.3 433.3 71.8 433.3 72.3 433.3 71.8 433.3 72.3 433.3 71.8 433.3 72.3 433.3 71.8 433.3 72.3 433.3 71.8 433.3 72.3 433.3 71.8 433.3 72.3 433.3 71.8 433.3 72.3 433.3 71.8 433.3 72.3 433.3 71.8 433.3 72.3 433.3 71.8 433.3 72.3 433.3 71.8 433.3 72.3 433.3 71.8 433.3 72.3 433.3 71.8 433.3 72.3 433.3 71.8 433.3 72.3 433.3 71.8 433.3 72.3 433.3 71.8 433.3 72.3 433.3 71.8 433.3 72.3 433.3 71.8 433.3 72.3 433.3 71.8 433.3 72.3 433.3 71.8 433.3 72.3 433.3 71.8 433.3 72.3 433.3 71.8 433.3 72.3 433.3 71.8 433.3 72.3 433.3 71.8 433.3 72.3 433.3 71.8 433.3 72.3 433.3 71.8 433.3 72.3 433.3 71.8 433.3 72.3 433.3 71.8 433.3 72.3 433.3 71.8 433.3 72.3 433.3 71.8 433.3 72.3 433.3 71.8 433.3 72.3 433.3 71.8 433.3 72.3 433.3 71.8 433.3 72.3 433.3 71.8 433.3 72.3 433.3 71.8 433.3 72.3 433.3 71.8 433.3 72.3 433.3 71.8 433.3 72.3 433.3 71.8 433.3 72.3 433.3 71.8 433.3 72.3 433.3 71.8 433.3 72.3 433.3 71.8 433.3 72.3 433.3 71.8 433.3 72.3 433.3 71.8 433.3 72.3 433.3 71.8 433.3 72.3 433.3 71.8 433.3 72.3 433.3 71.8 433.3 72.3 433.3 71.8 433.3 72.3 433.3 71.8 433.3 72.3 433.3 71.8 433.3 72.3 433.3 71.8 433.3 72.3 433.3 71.8 433.3 72.3 433.3 71.8 433.3 72.3 433.3 71.8 433.3 72.3 433.3 71.8 433.3 72.3 433.3 71.8 433.3 72.3 433.3 71.8 433.3 72.3 433.3 71.8 433.3 72.3 433.3 71.8 433.3 72.3 433.3 71.8 433.3 72.3 433.3 71.8 433.3 72.3 433.3 71.8 433.3 72.3 433.3 71.8 433.3 72.3 433.3 71.8 433.3 72.3 433.3 71.8 433.3 72.3 433.3 71.8 433.3 72.3 433.3 71.8 433.3 72.3 433.3 71.8 433.3 72.3 433.3 71.8 433.3 72.3 433.3 71.8 433.3 72.3 433.3 71.8 433.3 72.3 433.3 71.8 433.3 72.3 433.3 71.8 433.3 72.3 433.3 71.8 433.3 72.3 433.3 71.8 433.3 72.3 433.3 71.8 433.3 72.3 433.3 71.8 433.3 72.3 433.3 71.8 433.3 72.3 433.3 71.8 433.3 72.3 433.3 71.8 433.3 72.3 433.3 71.8 433.3 72.3 433.3 71.8 433.3 72.3 433.3 71.8 433.3 72.3 433.3 71.8 433.3 72.3 433.3 71.8 433.3 72.3 433.3 71.8 433.3 72.3 433.3 71.8 433.3 72.3 433.3 71.8 433.3 72.3 433.3 71.8 433.3 72.3 433.3 71.8 433.3 72.3 433.3 71.8 433.3 72.3 433.3 71.8 433.3 72.3 433.3 71.8 433.3 72.3 433.3 71.8 433.3 72.3 433.3 71.8 433.3 72.3 433.3 71.8 433.3 72.3 433.3 71.8 433.3 72.3 433.3 71.8 433.3 72.3 433.3 71.8 433.3 72.3 433.3 71.8 433.3 72.3 433.3 71.8 433.3 72.3 433.3 71.8 433.3 72.3 433.3 71.8 433.3 72.3 433.3 71.8 433.3 72.3 433.3 71.8 433.3 72.3 433.3 71.8 433.3 72.3 433.3 71.8 433.3 72.3 433.3 71.8 433.3 72.3 433.3 71.8 433.3 72.3 433.3 71.8 433.3 72.3 433.3 71.8 433.3 72.3 433.3 71.8 433.3 72.3 433.3 71.8 433.3 72.3 433.3 71.8 433.3 72.3 433.3 71.8 433.3 72.3 433.3 71.8 433.3 72.3 433.3 71.8 433.3 72.3 433.3 71.8 433.3 72.3 433.3 71.8 433.3 72.3 433.3 71.8 433.3 72.3 433.3 71.8 433.3 72.3 433.3 71.8 433.3 72.3 433.3 71.8 433.3 72.3 433.3 71.8 433.3 72.3 433.3 71.8 433.3 72.3 433.3 71.8 433.3 72.3 433.3 71.8 433.3 72.3 433.3 71.8 433.3 72.3 433.3 71.8 433.3 72.3 433.3 71.8 433.3 72.3 433.3 71.8 433.3 72.3 433.3 71.8 433.3 72.3 433.3 71.8 433.3 72.3 433.3 71.8 433.3 72.3 433.3 71.8 433.3 72.3 433.3 71.8 433.3 72.3 433.3 71.8 433.3 72.3 433.3 71.8 433.3 72.3 433.3 71.8 433.3 72.3 433.3 71.8 433.3 72.3 433.3 71.8 433.3 72.3 433.3 71.8 433.3 72.3 433.3 71.8 433.3 72.3 433.3 71.8 433.3 72.3 433.3 71.8 433.3 72.3 433.3 71.8 433.3 72.3 433.3 71.8 433.3 72.3 433.3 71.8 433.3 72.3 433.3 71.8 433.3 72.3 433.3 71.8 433.3 72.3 433.3 71.8 433.3 72.3 433.3 71.8 433.3 72.3 433.3 71.8 433.3 72.3 433.3 71.8 433.3 72.3 433.3 71.8 433.3 72.3 433.3 71.8 433.3 72.3 433.3 71.8 433.3 72.3 433.3 71.8 433.3 72.3 433.3 71.8 433.3 72.3 433.3 71.8 433.3 72.3 433.3 71.8 433.3 72.3 433.3 71.8 433.3 72.3 433.3 71.8 433.3 72.3 433.3 71.8 433.3 72.3 433.3 71.8 433.3 72.3 433.3 71.8 433.3 72.3 433.3 71.8 433.3 72.3 433.3 71.8 433.3 72.3 433.3 71.8 433.3 72.3 433.3 71.8 433.3 72.3 433.3 71.8 433.3 72.3 433.3 71.8 433.3 72.3 433.3 71.8 433.3 72.3 433.3 71.8 433.3 72.3 433.3 71.8 433.3 72.3 433.3 71.8 433.3 72.3 433.3 71.8 433.3 72.3 433.3 71.8 433.3 72.3 433.3 71.8 433.3 72.3 433.3 71.8 433.3 72.3 433.3 71.8 433.3 72.3 433.3 71.8 433.3 72.3 433.3 71.8 433.3 72.3 433.3 71.8 433.3 72.3 433.3 71.8 433.3 72.3 433.3 71.8 433.3 72.3 433.3 71.8 433.3 72.3 433.3 71.8 433.3 72.3 433.3 71.8 433.3 72.3 433.3 71.8 433.3 72.3 433.3 71.8 433.3 72.3 433.3 71.8 433.3 72.3 433.3 71.8 433.3 72.3 433.3 71.8 433.3 72.3 433.3 71.8 433.3 72.3 433.3 71.8 433.3 72.3 433.3 71.8 433.3 72.3 433.3 71.8 433.3 72.3 433.3 71.8 433.3 72.3 433.3 71.8 433.3 72.3 433.3 71.8 433.3 72.3 433.3 71.8 433.3 72.3 433.3 71.8 433.3 72.3 433.3 71.8 433.3 72.3 433.3 71.8 433.3 72.3 433.3 71.8 433.3 72.3 433.3 71.8 433.3 72.3 433.3 71.8 433.3 72.3 433.3 71.8 433.3 72.3 433.3 71.8 433.3 72.3 433.3 71.8 433.3 72.3 433.3 71.8 433.3 72.3 433.3 71.8 433.3 72.3 433.3 71.8 433.3 72.3 433.3 71.8 433.3 72.3 433.3 71.8 433.3 72.3 433.3 71.8 433.3 72.3 433.3 71.8 433.3 72.3 433.3 71.8 433.3 72.3 433.3 71.8 433.3 72.3 433.3 71.8 433.3 72.3 433.3 71.8 433.3 72.3 433.3 71.8 433.3 72.3 433.3 71.8 433.3 72.3 433.3 71.8 433.3 72.3 433.3 71.8 433.3 72.3 433.3 71.8 433.3 72.3 433.3 71.8 433.3 72.3 433.3 71.8 433.3 72.3 433.3 71.8 433.3 72.3 433.3 71.8 433.3 72.3 433.3 71.8 433.3 72.3 433.3 71.8 433.3 72.3 433.3 71.8 433.3 72.3 433.3 71.8 433.3 72.3 433.3 71.8 433.3 72.3 433.3 71.8 433.3 72.3 433.3 71.8 433.3 72.3 433.3 71.8 433.3 72.3 433.3 71.8 433.3 72.3 433.3 71.8 433.3 72.3 433.3 71.8 433.3 72.3 433.3 71.8 433.3 72.3 433.3 71.8 433.3 72.3 433.3 71.8 433.3 72.3 433.3 71.8 433.3 72.3 433.3 71.8 433.3 72.3 433.3 71.8 433.3 72.3 433.3 71.8 433.3 72.3 433.3 71.8 433.3 72.3 433.3 71.8 433.3 72.3 433.3 71.8 433.3 72.3 433.3 71.8 433.3 72.3 433.3 71.8 433.3 72.3 433.3 71.8 433.3 72.3 433.3 71.8 433.3 72.3 433.3 71.8 433.3 72.3 433.3 71.8 433.3 72.3 433.3 71.8 433.3 72.3 433.3 71.8 433.3 72.3 433.3 71.8 433.3 72.3 433.3 71.8 433.3 72.3 433.3 71.8 433.3 72.3 433.3 71.8 433.3 72.3 433.3 71.8 433.3 72.3 433.3 71.8 433.3 72.3 433.3 71.8 433.3 72.3 433.3 71.8 433.3 72.3 433.3 71.8 433.3 72.3 433.3 71.8 433.3 72.3 433.3 71.8 433.3 72.3 433.3 71.8 433.3 72.3 433.3 71.8 433.3 72.3 433.3 71.8 433.3 72.3 433.3 71.8 433.3 72.3 433.3 71.8 433.3 72.3 433.3 71.8 433.3 72.3 433.3 71.8 433.3 72.3 433.3 71.8 433.3 72.3 433.3 71.8 433.3 72.3 433.3 71.8 433.3 72.3 433.3 71.8 433.3 72.3 433.3 71.8 433.3 72.3 433.3 71.8 433.3 72.3 433.3 71.8 433.3 72.3 433.3 71.8 433.3 72.3 433.3 71.8 433.3 72.3 433.3 71.8 433.3 72.3 433.3 71.8 433.3 72.3 433.3 71.8 433.3 72.3 433.3 71.8 433.3 72.3 433.3 71.8 433.3 72.3 433.3 71.8 433.3 72.3 433.3 71.8 433.3 72.3 433.3 71.8 433.3 72.3 433.3 71.8 433.3 72.3 433.3 71.8 433.3 72.3 433.3 71.8 433.3 72.3 433.3 71.8 433.3 72.3 433.3 71.8 433.3 72.3 433.3 71.8 433.3 72.3 433.3 71.8 433.3 72.3 433.3 71.8 433.3 72.3 433.3 71.8 433.3 72.3 433.3 71.8 433.3 72.3 433.3 71.8 433.3 72.3 433.3 71.8 433.3 72.3 433.3 71.8 433.3 72.3 433.3 71.8 433.3 72.3 433.3 71.8 433.3 72.3 433.3 71.8 433.3 72.3 433.3 71.8 433.3 72.3 433.3 71.8 433.3 72.3 433.3 71.8 433.3 72.3 433.3 71.8 433.3 72.3 433.3 71.8 433.3 72.3 433.3 71.8 433.3 72.3 433.3 71.8 433.3 72.3 433.3 71.8 433.3 72.3 433.3 71.8 433.3 72.3 433.3 71.8 433.3 72.3 433.3 71.8 433.3 72.3 433.3 71.8 433.3 72.3 433.3 71.8 433.3 72.3 433.3 71.8 433.3 72.3 433.3 71.8 433.3 72.3 433.3 71.8 433.3 72.3 433.3 71.8 433.3 72.3 433.3 71.8 433.3 72.3 433.3 71.8 433.3 72.3 433.3 71.8 433.3 72.3 433.3 71.8 433.3 72.3 433.3 71.8 433.3 72.3 433.3 71.8 433.3 72.3 433.4 71.8 433.3 72.3 433.4 71.8 433.3 72.3 433.4 71.8 433.3 72.3 433.4 71.8 433.3 72.3 433.4 71.8 433.3 72.3 433.4 71.8 433.4 72.3 433.4 71.8 433.4 72.3 433.4 71.8 433.4 72.3 433.4 71.8 433.4 72.3 433.4 71.8 433.4 72.3 433.4 71.8 433.4 72.3 433.4 71.8 433.4 72.3 433.4 71.8 433.4 72.3 433.4 71.8 433.4 72.3 433.4 71.8 433.4 72.3 433.4 71.8 433.4 72.3 433.4 71.8 433.4 72.3 433.4 71.8 433.4 72.3 433.4 71.8 433.4 72.3 433.4 71.8 433.4 72.3 433.4 71.8 433.4 72.3 433.4 71.8 433.4 72.3 433.4 71.8 433.4 72.3 433.4 71.8 433.4 72.3 433.4 71.8 433.4 72.3 433.4 71.8 433.4 72.3 433.4 71.8 433.4 72.3 433.4 71.8 433.4 72.3 433.4 71.8 433.4 72.3 433.4 71.8 433.4 72.3 433.4 71.8 433.4 72.3 433.4 71.8 433.4 72.3 433.4 71.8 433.4 72.3 433.4 71.8 433.4 72.3 433.4 71.8 433.4 72.3 433.4 71.8 433.4 72.3 433.4 71.8 433.4 72.3 433.4 71.8 433.4 72.3 433.4 71.8 433.4 72.3 433.4 71.8 433.4 72.3 433.4 71.8 433.4 72.3 433.4 71.8 433.4 72.3 433.4 71.8 433.4 72.3 433.4 71.8 433.4 72.3 433.4 71.8 433.4 72.3 433.4 71.8 433.4 72.3 433.4 71.8 433.4 72.3 433.4 71.8 433.4 72.3 433.4 71.8 433.4 72.3 433.4 71.8 433.4 72.3 433.4 71.8 433.4 72.3 433.4 71.8 433.4 72.3 433.4 71.8 433.4 72.3 433.4 71.8 433.4 72.3 433.4 71.8 433.4 72.3 433.4 71.8 433.4 72.3 433.4 71.8 433.4 72.3 433.4 71.8 433.4 72.3 433.4 71.8 433.4 72.3 433.4 71.8 433.4 72.3 433.4 71.8 433.4 72.3 433.4 71.8 433.4 72.3 433.4 71.8 433.4 72.3 433.4 71.8 433.4 72.3 433.4 71.8 433.4 72.3 433.4 71.8 433.4 72.3 433.4 71.8 433.4 72.3 433.4 71.8 433.4 72.3 433.5 71.8 433.4 72.3 433.5 71.8 433.5 72.3 433.5 71.8 433.5 72.3 433.5 71.8 433.5 72.3 433.5 71.8 433.5 72.3 433.5 71.8 433.5 72.3 433.5 71.8 433.5 72.3 433.5 71.8 433.5 72.3 433.5 71.8 433.5 72.3 433.5 71.8 433.6 72.3 433.6 71.8 433.6 72.3 433.6 71.8 433.6 72.3 433.6 71.8 433.6 72.3 433.7 71.8 433.7 72.3 433.7 71.8 433.7 72.3 433.7 71.8 433.8 72.3 434.0 71.8 434.0 72.3 434.1 71.8 434.1 72.3 434.1 71.8 434.3 72.3 434.4 71.8 434.4 72.3 434.5 71.8 434.6 72.3 434.7 71.8 434.8 72.3 434.9 71.8 435.0 72.2 435.2 71.7 435.3 72.2 435.8 72.0 440.3 72.2 443.8 68.8 445.6 67.8 447.5 67.2 451.0 66.9 454.4 67.5 456.3 68.2 458.5 69.5 460.4 71.0 462.1 72.9 463.2 74.6 464.3 76.8 465.0 79.2 465.3 81.7 465.2 84.2 464.8 86.6 463.9 89.0 462.7 91.2 461.2 93.2 459.4 94.9 457.3 96.2 455.0 97.3 451.1 98.1 447.6 97.8 445.7 97.2 443.9 96.3 442.4 95.0 440.4 92.8 435.9 92.8 435.6 93.2 435.5 92.8 435.3 93.2 435.2 92.7 435.0 93.2 434.9 92.7 434.6 93.1 434.4 92.6M412.5 138.0 416.5 132.9 419.9 128.0 422.9 122.8 425.5 117.4 427.7 111.8 429.4 106.6 431.0 99.7 432.0 92.8 432.1 93.3 432.1 92.8 432.2 93.3M430.9 72.3 430.5 72.0 430.1 72.3 429.6 72.0 427.7 72.1 425.9 69.1 423.9 66.8 421.6 65.0 418.9 63.6 416.5 62.9 413.6 62.4 410.6 62.4 407.6 62.8 404.7 63.7 401.6 65.3 399.2 67.1 396.8 69.6 395.0 72.0 393.5 75.2 392.6 78.0 392.1 81.5 392.3 85.0 393.0 88.4 394.3 91.7 395.9 94.2 398.1 96.9 400.4 98.8 403.4 100.7 406.2 101.8 409.6 102.5 412.6 102.7 415.6 102.3 418.4 101.5 421.6 100.0 423.9 98.1 425.9 95.9 427.7 92.9 429.7 93.0M425.0 72.3 422.0 72.3 420.5 72.6 418.7 73.4 417.2 74.7 415.9 76.2 414.7 78.4 414.2 80.4 414.0 82.8 414.3 85.3 415.0 87.2 416.3 89.3 417.7 90.8 419.3 91.9 420.7 92.5 425.2 92.7M349.7 22.0 342.7 24.7 335.7 28.5M430.9 69.4 429.1 62.6 426.3 55.6 422.5 49.2 418.0 43.2 412.6 37.9 406.7 33.4 400.2 29.6 392.9 26.5 385.6 24.5 378.2 23.5 370.7 23.4 363.3 24.2 356.0 26.0 349.0 28.7 342.4 32.2 335.9 36.9M419.8 41.9 415.1 36.0 409.8 30.7 404.0 26.0 397.7 22.0M428.4 55.0 424.9 46.1 420.2 37.3 414.8 29.5 408.3 22.0M428.6 48.9 426.6 42.2 424.0 35.1 421.3 28.7 418.0 22.0M432.8 67.7 432.1 56.2 430.9 44.8 429.3 33.4 427.1 21.6M434.1 53.4 435.0 37.5 436.4 21.5M436.3 52.9 438.0 45.1 440.1 37.4 442.6 29.8 445.7 21.8M439.1 50.7 442.0 43.3 445.8 35.7 450.3 28.5 455.4 21.7M442.9 46.7 447.5 39.5 452.8 32.9 458.9 27.0 465.6 21.8M450.3 39.7 455.3 34.8 461.2 30.1 467.1 26.5 473.9 23.3M396.8 30.6 389.1 28.4 385.2 27.7 380.7 27.2 376.7 27.2 372.2 27.4 368.2 27.9 363.8 28.9 356.3 31.4 352.6 33.1 348.7 35.3 345.4 37.5 341.8 40.2 338.8 42.9 335.8 46.2M415.8 44.3 411.6 40.8 406.5 37.6 401.6 35.1 395.9 33.1 390.6 31.8 384.7 31.1 378.7 31.1 372.7 31.7 367.3 32.9 361.7 34.9 356.3 37.5 351.2 40.7 346.9 44.2 342.7 48.4 339.0 53.2 335.9 58.3M435.9 69.6 437.8 62.9 440.6 56.5 444.3 50.6 449.1 44.8 454.3 40.1 460.5 35.9 466.7 32.8 473.8 30.3M401.7 37.8 395.5 36.0 388.6 34.9 381.6 34.9 374.7 36.0 368.5 37.8 362.1 40.7 356.3 44.6 351.0 49.2 346.8 54.1 343.1 60.1 340.2 66.5 338.4 73.2 337.5 80.1 337.7 87.1 338.9 94.0 341.1 100.7 344.2 106.9 348.2 112.6 353.0 117.7 358.5 122.1 364.6 125.5 371.1 128.1 377.9 129.6 384.4 130.2 391.4 129.8 398.2 128.4 404.8 125.9 410.5 122.9 416.1 118.7 421.0 113.7 425.2 108.1 428.1 102.3M448.2 49.2 453.6 44.7 456.5 42.8 460.0 40.9 466.6 38.4 469.9 37.5 473.9 36.8M424.7 57.5 421.0 52.8 416.7 48.6 411.8 45.1 406.1 42.1 400.4 40.2 394.5 39.0 388.6 38.6 382.1 39.1 376.2 40.5 370.6 42.6 365.4 45.5 360.2 49.3 355.9 53.6 352.3 58.3 349.3 63.6 347.0 69.6 345.6 75.5 345.0 81.4 345.4 87.9 346.5 93.8 348.6 99.9 351.4 105.3 354.8 110.2 358.9 114.5 364.0 118.6 369.1 121.7 374.7 124.0 380.5 125.6 386.9 126.3 392.9 126.2 398.8 125.2 404.5 123.5M407.1 45.1 402.4 43.6 397.0 42.6 392.0 42.4 386.5 42.9 381.6 43.9 376.5 45.8 371.6 48.4 367.1 51.6 363.5 55.0 360.0 59.2 357.3 63.5 355.1 68.5 353.6 73.2 352.7 78.7 352.6 84.2 353.2 89.6 354.5 94.9 356.6 100.0 359.3 104.8 362.3 108.8 366.2 112.7 370.2 115.7 374.9 118.5 379.5 120.4 384.8 121.9 390.3 122.5 395.8 122.5 400.7 121.8 406.0 120.3 410.6 118.3 415.3 115.5 419.2 112.4M440.6 61.8 443.3 58.1 446.7 54.6 450.7 51.5 455.0 49.0 459.2 47.3 464.0 46.0 469.0 45.4 474.0 45.4M420.5 55.5 417.0 52.7 412.8 50.1 408.6 48.3 403.8 46.9 399.4 46.3 394.4 46.2 389.4 46.8 384.6 48.1 380.4 49.8 376.1 52.3 372.5 55.0 369.0 58.5 366.2 62.1 363.7 66.4 361.8 71.0 360.6 75.9 360.0 80.8 360.1 85.8 360.9 90.7 362.2 95.1 364.3 99.6 366.6 103.4 369.8 107.3 373.0 110.4 377.1 113.3 381.5 115.7 386.2 117.4 390.5 118.4 395.5 118.9 400.0 118.7 404.9 117.8 409.2 116.5M411.5 52.0 407.2 50.7 402.8 50.0 398.3 49.9 393.3 50.5 389.0 51.7 384.4 53.8 380.6 56.2 376.9 59.4 373.9 62.8 371.2 67.0 369.4 71.1 368.0 75.9 367.4 80.4 367.5 85.4 368.3 90.3 369.6 94.6 371.8 99.1 374.7 103.2 378.1 106.8 381.7 109.6 386.0 112.0 390.2 113.7 395.1 114.8 399.6 115.2 404.5 114.8 409.4 113.7 414.1 111.9 417.9 109.6 421.8 106.5 424.8 103.2 427.3 99.4 429.0 95.2M444.3 60.5 447.0 58.2 450.4 56.2 454.1 54.6 457.9 53.5 461.9 53.0 465.9 53.1 469.9 53.7 473.7 54.8M427.4 67.4 425.3 64.0 422.7 61.1 419.6 58.5 416.2 56.5 412.5 54.9 408.6 53.9 404.6 53.5 400.1 53.7 396.2 54.4 392.4 55.7 388.9 57.5 385.2 60.1 382.3 62.8 379.8 65.9 377.7 69.3 376.0 73.5 375.0 77.4 374.6 81.4 374.8 85.8 375.5 89.8 376.8 93.6 378.5 97.1 380.8 100.5 383.5 103.4 386.9 106.3 390.3 108.3 394.0 109.9 397.9 111.0 401.8 111.5 405.8 111.4 409.8 110.8 413.6 109.7M418.1 60.2 415.3 59.0 412.0 58.1 409.0 57.8 405.5 57.8 402.5 58.3 399.2 59.2 396.4 60.5 393.4 62.3 391.1 64.1 388.7 66.7 386.9 69.1 385.2 72.2 384.2 75.0 383.3 78.4 383.0 81.4 383.1 84.8 383.7 88.3 384.6 91.2 386.0 94.3 387.6 96.9 389.8 99.6 392.0 101.6 394.9 103.7 397.5 105.1 400.8 106.3 403.7 107.0 407.2 107.3 410.2 107.1 413.6 106.5 416.5 105.6 419.6 104.0 422.1 102.3M446.6 61.4 449.7 59.8 453.1 58.7 456.5 58.1 460.5 58.0 464.0 58.5 467.3 59.5 470.5 61.0 473.8 63.2M444.2 66.0 446.3 64.8 448.6 63.8 451.1 63.3 453.6 63.0 456.1 63.2 458.5 63.6 460.9 64.4 463.1 65.5 465.2 66.9 467.1 68.5 468.8 70.3 470.2 72.4 471.4 74.6 472.2 76.9 472.8 79.4 473.0 82.4 472.8 85.4 472.3 87.8 471.5 90.2 470.4 92.4 469.0 94.5 467.3 96.3 465.4 98.0 463.4 99.4 461.1 100.5 458.8 101.3 456.3 101.8 453.8 102.0 451.3 101.8 448.9 101.2 446.6 100.4 444.4 99.1M418.8 66.0 415.4 65.6 411.4 66.0 408.1 67.2 404.8 69.3 402.3 71.8 400.2 75.2 399.0 78.5 398.6 82.5 399.0 86.5 400.2 89.8 402.3 93.1 404.7 95.6 408.1 97.8 411.4 99.0 415.3 99.4 418.8 99.0M421.4 70.0 419.0 69.6 416.5 69.9 414.1 70.7 411.6 72.3 409.9 74.1 408.3 76.6 407.3 79.5 406.9 82.4 407.2 85.4 408.2 88.2 409.8 90.8 411.5 92.6 414.0 94.2 416.4 95.1 418.8 95.4 421.3 95.0M446.2 71.4 447.7 71.6 449.6 72.3 451.2 73.3 452.7 74.7 453.9 76.3 454.8 78.1 455.3 80.0 455.6 82.5 455.3 85.0 454.8 86.9 453.9 88.7 452.7 90.3 451.2 91.7 449.5 92.7 447.7 93.4 446.2 93.6M421.4 75.3 419.7 78.9 419.1 82.4 419.6 85.8 421.3 89.5M448.4 69.1 450.9 69.4 453.3 70.3 455.4 71.6 457.2 73.3 458.7 75.3 459.8 77.5 460.5 79.9 460.8 82.4 460.5 84.9 459.9 87.3 458.8 89.6 457.3 91.6 455.5 93.3 453.4 94.6 451.1 95.5 448.6 95.9M465.9 138.1 460.1 134.3 454.6 129.9 449.7 124.9 445.7 119.8 442.0 113.8 439.1 108.0 437.0 101.9 435.5 95.5M473.7 97.2 471.3 99.7 468.4 101.7 465.3 103.3 462.5 104.3 459.0 104.9 455.5 105.0 452.1 104.5 449.2 103.6M473.8 115.1 468.3 115.7 462.9 115.5 457.5 114.3 452.4 112.2 447.7 109.3 443.7 105.6 440.3 101.3 438.1 96.8M336.0 102.5 338.0 106.6 340.0 110.0 342.6 113.7 345.2 116.7 348.4 119.9 351.5 122.4 355.1 125.0 358.6 127.1 362.6 129.0 366.4 130.4 370.7 131.6 374.6 132.4 379.1 132.9 383.1 133.0 387.1 132.8 391.1 132.2M473.6 107.3 469.9 108.8 466.5 109.6 463.0 110.0 459.5 110.0 456.0 109.5 452.7 108.5 449.5 107.1 446.5 105.3M429.4 138.4 431.5 120.5 432.7 102.5M473.7 126.2 468.3 125.3 463.5 124.0 458.9 122.1 454.5 119.7 450.4 116.8 446.7 113.4 443.4 109.7 440.6 105.5M335.9 117.6 340.0 122.0 344.5 125.9 349.5 129.3 354.3 131.9 359.9 134.2 365.1 135.8 371.0 136.9 376.5 137.3 382.5 137.2 387.9 136.4 393.8 135.0 399.0 133.2 404.4 130.6 409.0 127.7 413.8 124.0 417.8 120.2M438.6 138.3 436.2 123.5 434.6 109.1M451.5 138.4 447.1 131.7 443.6 125.1 440.3 117.8 437.9 110.7M335.7 126.6 340.4 130.3 345.5 133.5 350.8 136.2 356.0 138.2M473.9 133.5 469.6 132.2 465.8 130.8 461.8 128.9 458.3 126.9 454.6 124.3 451.5 121.8 448.3 118.7 445.7 115.6M422.4 138.2 426.7 125.9 429.8 113.8"/><radialGradient id="nm2" gradientUnits="userSpaceOnUse" cx="433.3" cy="82.5" r="30" gradientTransform="translate(433.3 82.5) scale(1.25 1) translate(-433.3 -82.5)"><stop offset="0.3" stop-color="#fff"/><stop offset="1" stop-color="#000"/></radialGradient><mask id="mk2"><rect x="339" y="25" width="131.5" height="110" fill="url(#nm2)"/></mask><linearGradient id="mag" x1="0" y1="0" x2="1" y2="0"><stop offset="0" stop-color="#1a0a88"/><stop offset="0.22" stop-color="#240c98"/><stop offset="0.4" stop-color="#7a1eb0"/><stop offset="0.5" stop-color="#ac2ca8"/><stop offset="0.6" stop-color="#7a1eb0"/><stop offset="0.78" stop-color="#240c98"/><stop offset="1" stop-color="#1a0a88"/></linearGradient><linearGradient id="arrS" x1="0" y1="0" x2="1" y2="0"><stop offset="0" stop-color="#fde9a0" stop-opacity="0"/><stop offset="1" stop-color="#f9c62a"/></linearGradient><linearGradient id="arrH" x1="0" y1="0" x2="1" y2="0"><stop offset="0" stop-color="#f9cc20"/><stop offset="1" stop-color="#f7901c"/></linearGradient><linearGradient id="cbar" x1="0" y1="0" x2="0" y2="1"><stop offset="0.0000" stop-color="#12083a"/><stop offset="0.0800" stop-color="#280c68"/><stop offset="0.1700" stop-color="#4a10a0"/><stop offset="0.2500" stop-color="#6c12a0"/><stop offset="0.3500" stop-color="#a81890"/><stop offset="0.4500" stop-color="#d82078"/><stop offset="0.5300" stop-color="#e83050"/><stop offset="0.6000" stop-color="#f05040"/><stop offset="0.7000" stop-color="#f87a1e"/><stop offset="0.8000" stop-color="#f8a800"/><stop offset="0.8800" stop-color="#f9c840"/><stop offset="0.9400" stop-color="#fbd880"/><stop offset="1.0000" stop-color="#fbe8b0"/></linearGradient><filter id="blur1" x="-5%" y="-5%" width="110%" height="110%"><feGaussianBlur stdDeviation="0.8"/></filter></defs>
<rect width="534" height="550" fill="#fff"/>
<g clip-path="url(#clip0)">
<g filter="url(#blur1)">
<rect x="36" y="25" width="131" height="110" fill="#fcebb8"/>
<path d="M90.0 137.0 59.0 137.0 52.0 134.6 45.5 131.5 39.5 127.5 34.0 122.9 33.6 82.0 34.0 41.1 39.0 36.8 45.0 32.8 51.5 29.6 58.0 27.3 64.0 25.9 69.5 25.1 75.0 24.9 81.0 25.2 86.5 26.1 92.0 27.5 97.0 29.3 102.5 31.9 107.5 34.9 112.0 38.3 116.0 41.9 119.7 46.0 123.0 50.5 126.0 55.5 128.3 60.5 130.2 66.0 131.5 71.5 132.3 77.0 132.5 83.0 132.1 88.5 131.2 94.0 129.8 99.5 127.7 105.0 125.2 110.0 122.0 115.0 118.5 119.4 114.5 123.5 110.4 127.0 105.5 130.4 100.5 133.1 95.0 135.5 90.0 137.0Z" fill="#fbdf95"/>
<path d="M80.5 130.5 73.5 130.8 67.0 130.3 60.5 128.9 54.5 126.8 48.5 123.8 43.0 120.0 38.1 115.5 34.0 110.5 33.7 82.0 34.0 53.5 37.0 49.7 40.5 46.2 44.5 42.9 48.5 40.2 53.0 37.9 57.5 36.0 62.5 34.6 67.5 33.6 72.5 33.2 77.5 33.2 82.5 33.7 87.5 34.8 92.5 36.3 97.0 38.2 101.0 40.4 105.0 43.1 108.5 46.0 112.0 49.5 115.2 53.5 117.8 57.5 119.9 61.5 121.7 66.0 123.2 71.0 124.0 75.5 124.4 80.5 124.3 85.5 123.7 90.5 122.7 95.0 121.2 99.5 119.2 104.0 116.9 108.0 114.0 112.1 110.6 116.0 107.0 119.3 103.0 122.3 99.0 124.7 94.5 126.9 90.0 128.5 85.5 129.7 80.5 130.5Z" fill="#fbd87e"/>
<path d="M79.5 125.5 72.5 125.7 65.5 124.9 59.0 123.1 52.5 120.3 46.6 116.5 41.6 112.0 37.2 106.5 34.0 100.9 34.0 63.1 35.4 60.5 37.9 56.5 41.2 52.5 45.0 48.8 49.0 45.8 53.5 43.2 58.0 41.2 63.0 39.7 68.5 38.6 73.0 38.2 77.5 38.3 82.0 38.8 86.5 39.7 94.5 42.6 98.5 44.7 102.0 47.1 105.5 50.0 108.5 53.0 111.3 56.5 113.6 60.0 115.6 64.0 117.2 68.0 118.3 72.0 119.1 76.5 119.4 81.0 119.3 85.5 118.7 90.0 117.8 94.0 116.4 98.0 114.7 102.0 112.3 106.0 109.8 109.5 107.0 112.6 103.5 115.8 100.0 118.3 96.5 120.4 92.5 122.3 88.5 123.7 84.0 124.8 79.5 125.5Z" fill="#fad567"/>
<path d="M81.0 121.5 73.0 121.9 65.0 120.9 57.5 118.5 50.5 114.7 44.5 109.7 39.7 103.5 36.3 97.0 34.2 89.5 34.0 75.5 34.4 73.5 36.7 66.0 40.5 59.2 45.5 53.4 51.5 48.6 58.5 45.1 62.5 43.7 66.5 42.8 70.5 42.2 75.0 42.0 83.0 42.8 87.0 43.8 91.0 45.2 98.0 48.8 101.5 51.4 104.4 54.0 109.2 60.0 112.9 67.0 115.0 74.5 115.6 79.0 115.7 83.0 114.7 91.0 112.2 98.5 110.5 102.0 108.2 105.5 103.0 111.3 100.0 113.8 96.5 116.1 93.0 117.9 89.0 119.6 81.0 121.5Z" fill="#f9d24f"/>
<path d="M76.0 118.5 68.5 118.1 61.0 116.3 54.5 113.3 49.0 109.4 44.0 104.0 40.4 98.0 37.9 91.0 36.9 84.0 37.2 76.5 38.9 69.5 42.0 63.0 46.1 57.5 51.5 52.6 57.5 49.1 64.5 46.7 72.5 45.5 80.0 45.8 87.5 47.5 94.0 50.3 100.1 54.5 105.0 59.7 108.8 66.0 111.3 73.0 112.3 80.0 112.0 87.5 110.3 94.5 107.2 101.0 105.2 104.0 102.7 107.0 97.0 111.9 91.0 115.2 83.5 117.6 76.0 118.5Z" fill="#f9cd3a"/>
<path d="M77.0 115.5 70.0 115.3 63.0 113.9 57.0 111.4 51.5 107.8 47.0 103.3 43.5 98.0 41.1 92.0 39.8 85.5 39.8 78.5 41.1 72.0 43.5 66.0 47.1 60.5 52.0 55.8 57.5 52.3 64.0 49.8 70.5 48.6 78.0 48.6 85.0 49.8 91.5 52.2 97.0 55.6 101.6 60.0 105.4 65.5 108.1 72.0 109.4 78.5 109.4 85.5 108.0 92.5 105.4 98.5 101.5 104.1 96.5 108.7 90.5 112.3 84.0 114.5 77.0 115.5Z" fill="#f9c428"/>
<path d="M78.0 113.0 71.5 113.1 65.0 112.0 59.0 109.9 54.0 106.9 49.7 103.0 46.3 98.5 43.8 93.0 42.3 87.0 42.0 80.5 42.8 74.5 44.8 68.5 47.6 63.5 51.7 59.0 56.5 55.5 62.0 52.9 68.5 51.3 75.5 50.8 82.0 51.5 88.5 53.4 94.0 56.3 98.6 60.0 102.6 65.0 105.2 70.5 106.8 76.5 107.2 83.5 106.3 90.0 104.2 96.0 100.8 101.5 96.5 105.9 91.0 109.5 85.0 111.8 78.0 113.0Z" fill="#f8bb17"/>
<path d="M80.5 110.5 74.5 111.0 68.5 110.5 63.0 109.2 58.0 107.0 53.6 104.0 50.2 100.5 47.3 96.0 45.3 91.0 44.2 85.0 44.2 79.0 45.2 73.5 47.3 68.0 50.2 63.5 54.0 59.7 58.5 56.7 63.5 54.7 70.0 53.3 76.5 53.1 83.0 54.0 89.0 55.9 94.0 58.8 98.2 62.5 101.4 67.0 103.7 72.5 105.0 79.0 104.9 86.0 103.4 92.5 100.8 98.0 97.2 102.5 92.5 106.2 87.0 108.9 80.5 110.5Z" fill="#f8b305"/>
<path d="M80.5 108.5 75.0 109.0 69.5 108.6 64.5 107.6 59.5 105.7 55.5 103.2 52.1 100.0 49.6 96.5 47.6 92.0 46.3 86.5 46.0 81.0 46.7 75.0 48.3 70.0 50.9 65.5 54.0 62.0 58.0 59.1 63.0 56.8 69.0 55.4 75.5 55.0 82.0 55.7 87.5 57.3 92.0 59.6 96.2 63.0 99.3 67.0 101.6 72.0 103.0 78.0 103.2 84.5 102.0 91.0 99.6 96.5 96.2 101.0 92.0 104.4 86.5 107.1 80.5 108.5Z" fill="#f8a702"/>
<path d="M77.5 107.0 72.0 107.0 66.5 106.3 62.0 105.0 58.0 103.0 54.5 100.2 51.8 97.0 49.7 93.0 48.5 89.0 47.7 83.5 47.9 78.0 49.0 73.0 50.9 68.5 53.5 64.8 57.0 61.7 61.0 59.4 66.0 57.8 72.0 57.0 78.5 57.1 84.5 58.1 89.0 59.8 93.3 62.5 96.7 66.0 99.0 70.0 100.7 75.0 101.5 81.0 101.1 87.0 99.7 92.5 97.0 97.5 93.5 101.3 89.0 104.2 83.5 106.1 77.5 107.0Z" fill="#f89b05"/>
<path d="M80.0 105.0 75.0 105.4 70.0 105.1 65.5 104.4 61.5 103.1 58.0 101.2 55.3 99.0 53.3 96.5 51.4 93.0 49.9 88.0 49.3 83.0 49.6 77.5 50.6 73.0 52.3 69.0 54.9 65.5 58.0 62.8 61.5 60.9 66.5 59.4 72.5 58.7 79.0 58.8 84.5 59.8 89.0 61.5 92.5 63.8 95.6 67.0 97.8 71.0 99.4 76.5 99.9 83.0 99.1 89.0 97.1 94.5 94.3 98.5 90.5 101.7 86.0 103.7 80.0 105.0Z" fill="#f88f07"/>
<path d="M80.5 103.5 76.0 103.9 71.0 103.7 66.5 103.2 63.0 102.3 60.0 101.0 57.1 99.0 55.0 96.8 53.2 94.0 51.7 90.0 50.8 85.0 50.7 80.0 51.4 75.0 52.7 71.0 54.8 67.5 57.5 64.7 60.5 62.8 65.0 61.1 70.5 60.3 77.5 60.2 83.5 61.0 87.5 62.2 91.0 64.2 94.0 67.0 96.2 70.5 97.9 75.5 98.5 82.0 97.9 88.5 96.2 93.5 93.6 97.5 90.5 100.2 86.0 102.3 80.5 103.5Z" fill="#f88310"/>
<path d="M82.0 102.0 77.5 102.4 72.5 102.5 67.1 102.0 64.5 101.5 61.5 100.5 59.5 99.4 57.0 97.4 55.0 94.9 53.0 90.5 52.1 85.5 52.0 79.6 52.5 75.6 53.5 72.0 55.0 69.0 57.0 66.6 59.5 64.6 62.9 63.0 67.1 62.0 74.5 61.5 82.1 62.0 86.5 63.1 89.5 64.5 92.5 66.9 94.5 69.5 96.5 74.5 97.2 80.5 96.9 87.0 95.5 92.4 93.5 96.0 90.5 98.9 86.5 100.9 82.0 102.0Z" fill="#f8751b"/>
<path d="M76.5 100.5 68.0 100.3 62.5 99.2 60.0 98.0 58.1 96.5 56.4 94.5 55.4 92.5 54.3 89.0 53.7 84.5 53.8 79.0 54.4 74.5 55.4 71.5 56.8 69.0 59.0 66.7 61.5 65.2 65.0 64.1 69.5 63.6 78.5 63.5 84.0 64.1 87.5 65.1 90.0 66.5 92.1 68.5 93.8 71.5 95.2 76.5 95.5 83.5 94.8 89.5 93.1 94.0 90.5 97.1 87.0 99.1 82.5 100.2 76.5 100.5ZM76.6 72.0 78.5 71.5 70.7 71.5 72.5 72.0 76.6 72.0ZM78.5 92.5 76.6 92.0 74.5 92.0 72.0 92.1 70.7 92.5 78.5 92.5Z" fill="#f76926"/>
<path d="M84.0 98.6 79.0 98.8 65.5 98.6 63.0 98.1 61.0 97.3 59.5 96.3 58.0 94.8 56.6 92.5 55.6 89.0 55.2 84.5 55.2 78.5 55.6 75.0 56.4 72.0 57.8 69.5 59.5 67.7 62.5 66.1 66.0 65.3 81.5 65.2 84.5 65.5 87.0 66.2 89.0 67.2 91.0 69.0 92.8 72.0 93.8 76.5 94.0 84.0 93.4 90.0 92.1 93.5 90.0 96.0 87.5 97.6 84.0 98.6ZM79.8 72.0 80.2 71.5 74.5 71.2 68.9 71.5 69.2 72.0 79.8 72.0ZM80.2 92.5 79.8 92.0 74.5 92.0 69.2 92.0 68.9 92.5 74.5 92.8 80.2 92.5Z" fill="#f45d30"/>
<path d="M85.5 97.0 82.5 97.3 75.0 97.0 65.0 97.2 61.5 96.3 59.1 94.5 57.8 92.5 57.0 89.5 56.7 78.5 57.3 73.0 58.1 71.0 59.6 69.0 62.0 67.5 65.0 66.8 75.0 67.0 83.0 66.7 87.0 67.4 88.5 68.1 90.0 69.4 91.6 72.0 92.3 75.5 92.5 84.5 92.2 89.5 91.4 92.5 90.1 94.5 88.0 96.2 85.5 97.0ZM81.7 72.0 81.7 71.5 77.5 71.1 71.0 71.1 67.6 71.5 67.7 72.0 81.7 72.0ZM81.7 92.5 81.7 92.0 74.5 92.0 67.7 92.0 67.6 92.5 74.5 92.9 81.7 92.5Z" fill="#f2513a"/>
<path d="M87.0 95.5 83.5 95.9 74.5 94.7 64.5 96.0 62.5 95.6 60.4 94.5 58.7 92.0 58.1 88.0 58.2 74.5 58.7 72.0 60.0 69.9 62.0 68.5 65.0 68.0 74.5 69.3 82.5 68.1 85.0 68.1 87.5 68.7 89.0 69.7 90.3 71.5 91.0 74.5 91.0 89.0 90.8 91.0 90.0 93.0 88.8 94.5 87.0 95.5ZM82.9 72.0 82.8 71.5 82.0 71.3 74.5 70.6 67.5 71.2 66.3 71.5 66.2 72.0 82.9 72.0ZM79.1 93.0 82.5 92.6 82.8 92.5 82.9 92.0 66.2 92.0 66.3 92.5 67.0 92.7 72.5 93.3 76.0 93.4 79.1 93.0Z" fill="#ee4745"/>
<path d="M85.5 95.0 83.5 94.9 81.2 94.0 80.9 93.5 83.7 92.5 83.7 92.0 65.4 92.0 65.5 92.5 68.3 93.5 68.0 94.0 67.0 94.5 64.5 95.0 62.5 94.9 60.5 93.6 59.5 92.0 59.1 89.5 59.6 82.0 59.1 74.0 59.7 71.5 60.5 70.4 62.5 69.1 65.0 69.0 67.5 69.7 68.3 70.5 65.5 71.5 65.4 72.0 79.5 72.1 83.7 72.0 83.7 71.5 80.9 70.5 81.2 70.0 83.5 69.1 86.5 69.1 88.5 70.2 89.7 72.0 90.0 74.0 89.6 82.0 89.9 91.0 89.4 92.5 88.5 93.8 87.0 94.8 85.5 95.0Z" fill="#ea3e52"/>
<path d="M87.5 94.0 85.5 94.5 83.4 94.0 82.8 93.5 83.1 93.0 84.3 92.5 84.3 92.0 83.0 92.0 65.0 92.0 64.9 92.5 66.1 93.0 66.4 93.5 65.5 94.1 63.0 94.4 61.0 93.5 60.0 92.0 59.7 90.0 60.6 82.0 59.8 73.5 60.6 71.0 62.0 69.8 64.0 69.5 65.5 69.9 66.4 70.5 66.1 71.0 64.9 71.5 65.0 72.0 83.5 72.0 84.3 72.0 84.3 71.5 83.1 71.0 82.8 70.5 83.5 70.0 86.0 69.5 88.0 70.3 88.9 71.5 89.4 73.5 88.6 82.0 89.5 90.0 88.9 92.5 87.5 94.0Z" fill="#e6365f"/>
<path d="M86.0 94.1 84.1 93.5 84.0 93.0 84.7 92.5 84.7 92.0 83.5 92.0 64.6 92.0 64.5 92.5 65.2 93.0 65.1 93.5 64.5 93.8 63.0 94.0 61.5 93.5 60.6 92.5 60.2 90.5 61.4 82.5 61.2 79.5 60.2 74.0 60.3 72.5 61.0 71.0 62.0 70.2 63.5 70.0 65.1 70.5 65.2 71.0 64.5 71.5 64.6 72.0 79.5 72.1 84.7 72.0 84.7 71.5 84.0 71.0 84.1 70.5 85.5 70.0 87.0 70.1 88.0 70.8 88.8 72.0 89.0 73.5 87.8 82.0 89.0 91.0 88.8 92.0 88.0 93.2 87.0 93.9 86.0 94.1Z" fill="#e22d6b"/>
<path d="M87.0 93.5 85.3 93.5 84.9 93.0 85.3 92.5 85.2 92.0 83.0 91.9 64.1 92.0 64.0 92.5 64.5 93.0 64.0 93.5 62.5 93.5 61.5 93.0 61.0 92.5 60.8 90.5 61.0 88.5 62.3 84.0 62.4 81.0 61.8 77.5 61.0 75.5 61.0 71.5 62.3 70.5 63.5 70.5 64.0 70.5 64.5 71.0 64.0 71.5 64.1 72.0 84.0 72.1 85.2 72.0 85.3 71.5 84.9 71.0 85.3 70.5 87.0 70.5 88.0 71.4 88.5 72.5 88.5 74.2 87.2 78.5 86.7 82.0 87.2 85.5 88.5 89.8 88.5 91.0 88.0 92.6 87.0 93.5Z" fill="#dc2773"/>
<path d="M86.0 92.0 63.0 92.0 62.5 91.5 62.5 72.5 63.0 72.0 86.0 72.0 86.5 72.5 86.5 91.5 86.0 92.0Z" fill="#d52377"/>
<path d="M86.0 92.0 63.0 92.0 62.5 91.5 62.5 72.5 63.0 72.0 86.0 72.0 86.5 72.5 86.5 91.5 86.0 92.0Z" fill="#ce207b"/>
<path d="M86.0 91.9 63.0 91.9 62.5 91.5 62.5 72.5 63.0 72.1 86.0 72.1 86.5 72.5 86.5 91.5 86.0 91.9Z" fill="#c21e80"/>
<path d="M86.0 91.9 63.0 91.9 62.6 91.5 62.6 72.5 63.0 72.1 86.0 72.1 86.4 72.5 86.4 91.5 86.0 91.9Z" fill="#b71c86"/>
<path d="M86.0 91.9 63.0 91.9 62.6 91.5 62.6 72.5 63.0 72.1 86.0 72.1 86.4 72.5 86.4 91.5 86.0 91.9Z" fill="#ab1a8b"/>
<path d="M86.0 91.9 63.0 91.9 62.6 91.5 62.6 72.5 63.0 72.1 86.0 72.1 86.4 72.5 86.4 91.5 86.0 91.9Z" fill="#a01890"/>
<path d="M86.0 91.8 63.0 91.8 62.6 91.5 62.6 72.5 63.0 72.2 86.0 72.2 86.4 72.5 86.4 91.5 86.0 91.8Z" fill="#901696"/>
<path d="M86.0 91.8 63.0 91.8 62.7 91.5 62.7 72.5 63.0 72.2 86.0 72.2 86.3 72.5 86.3 91.5 86.0 91.8Z" fill="#80149c"/>
<path d="M86.0 91.8 63.0 91.8 62.7 91.5 62.7 72.5 63.0 72.2 86.0 72.2 86.3 72.5 86.3 91.5 86.0 91.8Z" fill="#7012a2"/>
</g>
<use href="#fl0" fill="none" stroke="#4e4a40" stroke-width="0.62" stroke-dasharray="12 2" stroke-opacity="0.72"/>
<use href="#fl0" fill="none" stroke="#0e0a08" stroke-width="0.9" stroke-dasharray="12 2" mask="url(#mk0)"/>
<rect x="60.2" y="56.2" width="24.7" height="8.8" fill="#1a8fb8"/>
<circle cx="65.30" cy="60.60" r="3.6" fill="#fff"/>
<circle cx="65.30" cy="60.60" r="2.3" fill="#0a0a0a"/>
<circle cx="79.60" cy="60.60" r="3.6" fill="#fff"/>
<path d="M77.70 58.70 L81.50 62.50 M77.70 62.50 L81.50 58.70" stroke="#0a0a0a" stroke-width="1.5"/>
<rect x="60.2" y="100.1" width="24.7" height="8.8" fill="#1a8fb8"/>
<circle cx="65.30" cy="104.50" r="3.6" fill="#fff"/>
<circle cx="65.30" cy="104.50" r="2.3" fill="#0a0a0a"/>
<circle cx="79.60" cy="104.50" r="3.6" fill="#fff"/>
<path d="M77.70 102.60 L81.50 106.40 M77.70 106.40 L81.50 102.60" stroke="#0a0a0a" stroke-width="1.5"/>
<rect x="89.2" y="56.2" width="24.7" height="8.8" fill="#f27b6b"/>
<circle cx="94.30" cy="60.60" r="3.6" fill="#fff"/>
<path d="M92.40 58.70 L96.20 62.50 M92.40 62.50 L96.20 58.70" stroke="#0a0a0a" stroke-width="1.5"/>
<circle cx="108.60" cy="60.60" r="3.6" fill="#fff"/>
<circle cx="108.60" cy="60.60" r="2.3" fill="#0a0a0a"/>
<rect x="89.2" y="100.1" width="24.7" height="8.8" fill="#f27b6b"/>
<circle cx="94.30" cy="104.50" r="3.6" fill="#fff"/>
<path d="M92.40 102.60 L96.20 106.40 M92.40 106.40 L96.20 102.60" stroke="#0a0a0a" stroke-width="1.5"/>
<circle cx="108.60" cy="104.50" r="3.6" fill="#fff"/>
<circle cx="108.60" cy="104.50" r="2.3" fill="#0a0a0a"/>
<rect x="117.9" y="56.2" width="24.7" height="8.8" fill="#f7b23e"/>
<circle cx="123.00" cy="60.60" r="3.6" fill="#fff"/>
<path d="M121.10 58.70 L124.90 62.50 M121.10 62.50 L124.90 58.70" stroke="#0a0a0a" stroke-width="1.5"/>
<circle cx="137.30" cy="60.60" r="3.6" fill="#fff"/>
<circle cx="137.30" cy="60.60" r="2.3" fill="#0a0a0a"/>
<rect x="117.9" y="100.1" width="24.7" height="8.8" fill="#f7b23e"/>
<circle cx="123.00" cy="104.50" r="3.6" fill="#fff"/>
<path d="M121.10 102.60 L124.90 106.40 M121.10 106.40 L124.90 102.60" stroke="#0a0a0a" stroke-width="1.5"/>
<circle cx="137.30" cy="104.50" r="3.6" fill="#fff"/>
<circle cx="137.30" cy="104.50" r="2.3" fill="#0a0a0a"/>
<rect x="63.00" y="72.20" width="23.2" height="19.6" fill="url(#mag)" stroke="#f4e4f4" stroke-width="0.8"/>
<path d="M66.10 72.50 Q70.10 82.00 66.10 91.50 M83.10 72.50 Q79.10 82.00 83.10 91.50" stroke="#0a0420" stroke-width="1.0" fill="none" stroke-dasharray="5 1.2"/>
<text x="42.9" y="37.6" font-size="14.2" fill="#111" stroke="#111" stroke-width="0.3" text-anchor="start" font-weight="bold" >i</text>
</g>
<g clip-path="url(#clip1)">
<g filter="url(#blur1)">
<rect x="186" y="25" width="134" height="110" fill="#fcebb8"/>
<path d="M269.5 137.0 236.9 137.0 231.0 134.9 225.5 132.4 221.0 129.7 216.5 126.4 212.1 122.5 208.5 118.5 205.1 114.0 202.4 109.5 199.9 104.5 197.9 99.0 196.5 93.5 195.7 88.0 195.4 82.5 195.6 77.0 196.4 71.5 197.7 66.0 199.7 60.5 202.0 55.5 205.0 50.5 208.4 46.0 212.0 42.0 216.0 38.4 220.5 35.0 225.5 32.0 230.5 29.7 236.0 27.7 241.5 26.3 247.0 25.4 252.5 25.1 258.5 25.3 264.0 26.1 269.5 27.4 275.0 29.2 280.5 31.7 285.5 34.6 290.0 37.9 294.1 41.5 298.0 45.7 301.2 50.0 304.3 55.0 306.7 60.0 308.7 65.5 310.1 71.0 310.9 76.5 311.2 82.0 310.9 88.0 310.1 93.5 308.7 99.0 306.7 104.5 304.2 109.5 301.2 114.5 297.7 119.0 294.0 123.0 289.5 126.9 285.0 130.1 280.0 132.9 274.5 135.4 269.5 137.0ZM254.4 72.0 252.0 72.0 254.4 72.0Z" fill="#fbdf95"/>
<path d="M255.5 131.0 250.5 131.0 245.5 130.5 240.5 129.5 236.0 128.1 231.5 126.2 227.0 123.8 223.0 121.2 219.5 118.3 216.2 115.0 213.0 111.2 210.2 107.0 208.1 103.0 206.3 98.5 204.9 94.0 204.0 89.5 203.5 84.5 203.6 79.5 204.0 75.0 205.0 70.0 206.4 65.5 208.3 61.0 210.8 56.5 213.6 52.5 216.5 49.0 220.0 45.7 223.5 42.9 227.5 40.3 232.0 37.9 236.5 36.1 241.5 34.7 246.0 33.9 251.0 33.4 256.0 33.4 261.0 33.9 265.5 34.8 270.5 36.3 275.0 38.1 279.0 40.2 283.0 42.8 287.0 46.0 290.5 49.5 293.4 53.0 296.1 57.0 298.3 61.0 300.2 65.5 301.7 70.5 302.6 75.5 303.1 80.0 303.1 84.5 302.6 89.5 301.7 94.0 300.1 99.0 298.2 103.5 295.8 108.0 293.0 112.0 290.0 115.5 286.5 118.8 283.0 121.6 279.0 124.2 274.5 126.5 270.0 128.3 265.0 129.7 260.0 130.6 255.5 131.0ZM254.8 72.0 251.7 72.0 254.8 72.0Z" fill="#fbd87e"/>
<path d="M260.0 125.5 255.5 125.9 251.0 125.9 242.5 124.7 234.5 122.1 230.5 120.1 227.0 117.9 223.5 115.2 220.6 112.5 218.0 109.5 215.4 106.0 213.4 102.5 211.6 98.5 210.2 94.5 209.2 90.0 208.6 85.5 208.5 81.0 208.8 76.5 209.5 72.5 210.6 68.5 212.2 64.5 214.2 60.5 216.4 57.0 219.1 53.5 222.0 50.5 225.5 47.6 229.0 45.2 233.0 43.0 237.0 41.3 245.0 39.1 249.5 38.6 254.0 38.4 258.5 38.7 263.0 39.4 267.5 40.6 271.5 42.1 275.5 44.0 279.0 46.1 282.5 48.7 285.6 51.5 288.7 55.0 291.2 58.5 293.2 62.0 295.1 66.0 296.4 70.0 297.5 74.5 298.0 79.0 298.1 83.5 297.8 88.0 297.0 92.0 295.8 96.5 294.2 100.5 292.1 104.5 289.8 108.0 287.0 111.4 284.0 114.4 280.5 117.3 277.0 119.6 273.0 121.7 269.0 123.3 264.5 124.6 260.0 125.5ZM255.2 72.0 251.4 72.0 255.2 72.0Z" fill="#fad567"/>
<path d="M257.0 122.0 249.0 122.0 241.0 120.4 233.5 117.5 227.0 113.3 221.5 108.0 219.2 105.0 217.1 101.5 214.1 94.5 213.0 90.5 212.4 86.5 212.3 78.5 213.7 71.0 215.1 67.0 216.7 63.5 221.0 57.0 226.5 51.5 233.0 47.2 240.5 44.1 248.5 42.5 252.5 42.2 257.0 42.4 265.0 43.8 272.5 46.6 276.0 48.6 279.5 51.0 282.5 53.6 285.2 56.5 287.5 59.5 289.6 63.0 291.3 66.5 292.7 70.5 294.2 78.0 294.2 86.0 293.7 90.0 292.7 94.0 291.2 98.0 289.5 101.5 287.4 105.0 285.1 108.0 282.2 111.0 279.3 113.5 276.0 115.8 272.5 117.8 265.0 120.6 257.0 122.0ZM255.6 72.0 251.0 72.0 255.6 72.0Z" fill="#f9d24f"/>
<path d="M257.5 118.5 250.0 118.6 242.5 117.3 235.5 114.7 229.5 111.0 224.5 106.4 220.3 100.5 217.4 94.0 215.9 87.5 215.6 80.0 216.6 73.0 219.2 66.0 222.8 60.0 227.5 55.0 233.5 50.7 240.0 47.8 247.5 46.1 255.5 45.7 263.0 46.8 270.0 49.2 276.5 52.9 282.0 57.9 286.1 63.5 289.1 70.0 290.7 77.0 291.0 84.5 289.8 92.0 287.1 99.0 283.3 105.0 280.6 108.0 278.0 110.3 272.0 114.3 265.0 117.1 257.5 118.5ZM256.1 72.0 250.6 72.0 256.1 72.0Z" fill="#f9cd3a"/>
<path d="M258.0 115.5 251.0 115.7 244.0 114.7 238.0 112.7 232.0 109.4 227.5 105.5 223.5 100.5 220.7 95.0 218.9 88.5 218.4 81.5 219.1 75.0 221.1 68.5 224.1 63.0 228.4 58.0 233.5 54.0 239.5 51.1 246.0 49.3 253.0 48.6 260.5 49.3 267.5 51.2 273.5 54.3 278.7 58.5 282.8 63.5 285.9 69.5 287.7 76.0 288.2 83.0 287.4 90.0 285.2 96.5 281.7 102.5 277.0 107.5 271.5 111.3 265.0 114.0 258.0 115.5ZM256.6 72.0 250.1 72.0 256.6 72.0ZM254.4 92.5 252.2 92.5 254.4 92.5Z" fill="#f9c428"/>
<path d="M258.5 113.0 252.0 113.4 246.0 112.7 240.0 111.0 234.5 108.3 230.0 104.9 226.2 100.5 223.4 95.5 221.4 89.5 220.7 83.0 221.1 76.5 222.7 70.5 225.5 65.0 229.0 60.5 233.5 56.7 239.0 53.8 245.0 51.9 251.5 51.1 258.5 51.4 265.0 52.8 271.0 55.4 276.0 59.0 280.1 63.5 283.3 69.0 285.2 75.0 285.9 81.5 285.4 88.5 283.4 95.0 280.4 100.5 276.0 105.4 271.0 109.0 265.0 111.6 258.5 113.0ZM257.0 72.0 253.5 71.8 249.5 72.0 257.0 72.0ZM255.3 92.5 251.3 92.5 255.3 92.5Z" fill="#f8bb17"/>
<path d="M256.5 111.0 250.5 111.1 244.5 110.2 239.0 108.3 234.0 105.5 230.0 102.0 226.7 97.5 224.6 93.0 223.2 87.5 222.8 81.5 223.5 75.5 225.2 70.0 227.9 65.0 231.5 60.9 236.0 57.6 241.0 55.3 247.0 53.7 253.5 53.2 260.0 53.8 266.0 55.4 271.5 58.1 276.0 61.8 279.3 66.0 281.8 71.0 283.3 76.5 283.8 83.0 283.0 89.5 280.9 95.5 277.9 100.5 273.9 104.5 269.0 107.7 263.0 109.9 256.5 111.0ZM257.4 72.0 253.5 71.7 249.1 72.0 257.4 72.0ZM256.2 92.5 250.5 92.5 256.2 92.5Z" fill="#f8b305"/>
<path d="M256.5 109.0 250.5 109.1 245.0 108.3 240.0 106.7 236.0 104.7 232.0 101.5 229.1 98.0 226.8 93.5 225.4 89.0 224.7 83.5 225.0 77.5 226.3 72.0 228.4 67.5 231.4 63.5 235.0 60.4 239.5 57.9 245.0 56.1 251.0 55.3 257.5 55.5 263.5 56.6 269.0 58.8 273.5 61.9 276.8 65.5 279.5 70.0 281.3 75.5 282.0 82.0 281.3 88.5 279.6 94.0 276.8 99.0 273.0 102.9 268.5 105.9 263.0 107.9 256.5 109.0ZM257.8 72.0 253.5 71.7 248.7 72.0 257.8 72.0ZM256.9 92.5 249.7 92.5 256.9 92.5Z" fill="#f8a702"/>
<path d="M258.0 107.1 252.5 107.3 247.5 106.9 242.5 105.8 238.5 104.2 235.0 102.0 231.9 99.0 229.5 95.5 227.8 91.5 226.7 86.5 226.4 81.0 227.1 75.5 228.7 70.5 231.0 66.5 234.0 63.2 237.5 60.7 242.0 58.8 248.0 57.4 254.0 57.1 260.5 57.7 266.0 59.3 270.5 61.6 274.0 64.6 276.9 68.5 278.8 73.0 280.1 79.0 280.0 85.5 278.8 91.5 276.5 96.5 273.3 100.5 269.0 103.7 264.0 105.8 258.0 107.1ZM258.4 72.0 253.5 71.7 248.2 72.0 258.4 72.0ZM257.5 92.5 249.0 92.5 253.5 92.7 257.5 92.5Z" fill="#f89b05"/>
<path d="M255.5 105.5 250.5 105.5 245.5 104.9 241.0 103.6 237.5 101.9 234.5 99.6 232.2 97.0 230.2 93.5 228.8 89.5 228.1 84.5 228.2 79.0 229.1 74.0 230.6 70.0 232.9 66.5 236.0 63.5 239.5 61.4 244.0 59.9 250.0 58.9 256.0 58.9 261.5 59.6 266.5 61.1 270.5 63.4 273.7 66.5 276.2 70.5 277.7 74.5 278.6 80.5 278.3 87.0 276.8 92.5 274.4 97.0 271.1 100.5 267.0 103.0 262.0 104.7 255.5 105.5ZM259.0 72.0 253.5 71.6 247.7 72.0 259.0 72.0ZM258.2 92.5 248.4 92.5 253.5 92.8 258.2 92.5Z" fill="#f88f07"/>
<path d="M255.5 104.0 250.5 104.0 246.0 103.5 242.5 102.7 239.0 101.3 236.0 99.3 233.7 97.0 231.8 94.0 230.6 91.0 229.6 86.5 229.4 81.0 230.0 76.0 231.3 71.5 233.3 68.0 235.5 65.5 238.5 63.3 242.5 61.7 247.5 60.7 254.0 60.3 260.0 60.8 265.0 62.0 269.0 63.9 272.0 66.4 274.3 69.5 276.0 73.5 277.1 79.5 277.1 85.5 275.8 91.5 273.6 96.0 270.5 99.4 266.5 101.8 261.5 103.4 255.5 104.0ZM259.5 72.0 253.5 71.6 247.1 72.0 259.5 72.0ZM258.8 92.5 247.8 92.5 253.5 92.8 258.8 92.5Z" fill="#f88310"/>
<path d="M258.0 102.5 248.0 102.5 244.5 102.0 241.0 101.0 238.0 99.5 236.5 98.4 234.5 96.3 233.0 93.9 231.5 90.0 230.7 84.5 230.7 80.0 231.5 74.5 232.5 71.5 234.5 68.1 236.5 66.0 239.5 64.1 244.0 62.5 248.5 61.9 256.0 61.8 262.5 62.5 266.0 63.6 269.5 65.5 272.0 68.0 273.9 71.0 275.4 76.0 276.0 83.0 275.4 88.5 274.5 91.9 273.5 94.1 271.0 97.5 267.7 100.0 264.0 101.5 258.0 102.5ZM260.0 72.0 253.5 71.6 246.6 72.0 260.0 72.0ZM259.5 92.5 247.1 92.5 253.5 92.9 259.5 92.5Z" fill="#f8751b"/>
<path d="M259.5 100.5 249.0 100.6 242.5 99.8 240.0 98.9 238.0 97.7 236.1 96.0 234.7 94.0 233.4 91.0 232.6 87.0 232.4 81.5 232.8 76.5 233.6 73.0 234.9 70.0 236.5 68.0 239.0 66.0 242.0 64.7 246.5 63.9 254.5 63.7 261.0 64.0 264.5 64.7 267.5 66.0 270.0 67.9 271.7 70.0 273.3 74.0 274.2 80.0 274.0 87.0 272.6 92.5 270.9 95.5 268.0 98.1 264.5 99.7 259.5 100.5ZM260.6 72.0 253.5 71.5 245.9 72.0 260.6 72.0ZM260.3 92.5 246.3 92.5 253.5 92.9 260.3 92.5Z" fill="#f76926"/>
<path d="M259.5 99.0 247.5 99.0 243.0 98.6 239.0 97.1 236.3 94.5 234.9 91.5 234.1 88.0 233.9 82.5 234.1 77.0 234.7 73.5 235.7 71.0 237.0 69.0 239.0 67.3 242.0 66.0 245.5 65.5 261.5 65.5 264.0 65.9 266.5 66.7 268.5 68.0 270.3 70.0 271.9 73.5 272.7 79.0 272.6 87.0 271.5 92.0 269.9 95.0 267.5 97.1 264.0 98.5 259.5 99.0ZM261.3 72.0 259.0 71.6 253.5 71.5 248.0 71.6 245.3 72.0 261.3 72.0ZM260.9 92.5 245.6 92.5 253.5 93.0 260.9 92.5Z" fill="#f45d30"/>
<path d="M265.0 97.0 261.5 97.5 253.5 97.2 244.0 97.4 240.5 96.6 238.0 94.9 236.7 93.0 235.7 90.0 235.4 86.5 235.4 79.0 236.1 73.0 237.2 70.5 238.5 69.0 241.0 67.6 244.0 67.0 253.5 67.2 261.5 66.9 265.5 67.5 267.0 68.2 268.6 69.5 270.2 72.0 271.0 75.5 271.2 84.0 270.9 89.5 270.1 92.5 269.0 94.5 267.0 96.2 265.0 97.0ZM262.0 72.0 259.5 71.6 253.5 71.3 247.0 71.6 244.7 72.0 262.0 72.0ZM255.7 93.0 261.7 92.5 244.9 92.5 248.0 92.9 255.7 93.0Z" fill="#f2513a"/>
<path d="M264.5 96.0 261.5 96.1 253.0 95.0 245.5 96.1 243.0 96.2 241.0 95.8 238.9 94.5 237.4 92.0 236.8 88.0 236.9 74.5 237.5 72.0 238.8 70.0 240.5 68.8 243.0 68.2 253.5 69.4 263.0 68.2 266.0 68.8 267.8 70.0 269.1 72.0 269.7 74.5 269.7 90.0 269.2 92.0 268.2 94.0 266.5 95.4 264.5 96.0ZM262.7 72.0 259.0 71.3 253.5 70.8 248.0 71.2 243.9 72.0 262.7 72.0ZM254.6 93.5 262.5 92.5 244.1 92.5 249.5 93.4 254.6 93.5Z" fill="#ee4745"/>
<path d="M265.0 95.1 262.5 95.1 259.7 94.0 259.8 93.5 263.0 92.5 243.5 92.5 246.8 93.5 246.9 94.0 245.5 94.8 243.0 95.2 240.5 94.8 239.4 94.0 238.2 92.0 237.8 89.5 238.3 82.5 237.9 74.0 238.3 72.0 239.3 70.5 241.5 69.3 243.5 69.2 245.5 69.6 247.0 70.5 246.6 71.0 243.4 72.0 252.5 72.2 263.1 72.0 260.0 71.0 259.6 70.5 261.0 69.7 263.0 69.2 265.0 69.3 267.3 70.5 268.3 72.0 268.7 74.0 268.3 82.0 268.7 90.5 268.3 92.5 267.7 93.5 266.0 94.8 265.0 95.1Z" fill="#ea3e52"/>
<path d="M265.5 94.5 263.5 94.6 261.8 94.0 261.5 93.5 263.4 92.5 262.0 92.4 243.2 92.5 245.1 93.5 244.8 94.0 242.5 94.7 241.0 94.5 240.0 94.0 238.9 92.5 238.4 90.5 239.3 82.0 238.4 74.0 238.8 72.0 239.5 70.9 241.0 69.9 242.5 69.7 245.0 70.5 245.1 71.0 243.1 72.0 254.0 72.2 263.5 72.0 261.5 71.0 261.6 70.5 264.0 69.7 265.5 69.9 267.0 70.8 267.8 72.0 268.1 73.5 267.3 82.0 268.2 90.5 267.5 93.0 266.5 94.0 265.5 94.5Z" fill="#e6365f"/>
<path d="M265.5 94.1 263.3 94.0 262.6 93.5 263.7 92.5 262.5 92.4 243.5 92.5 242.9 92.5 243.7 93.0 244.0 93.5 243.0 94.1 241.5 94.2 240.0 93.5 239.2 92.5 238.9 90.5 240.1 83.0 240.0 80.0 238.9 74.0 239.2 72.0 239.9 71.0 241.0 70.3 242.5 70.2 243.5 70.5 244.0 71.0 242.8 72.0 254.0 72.2 263.8 72.0 262.6 71.0 263.1 70.5 265.0 70.2 266.5 70.8 267.4 72.0 267.7 73.5 266.5 82.0 267.7 91.0 267.1 93.0 265.5 94.1Z" fill="#e22d6b"/>
<path d="M266.0 93.5 263.7 93.5 263.5 93.0 264.0 92.5 254.0 92.3 242.5 92.5 243.0 93.0 243.0 93.5 240.5 93.5 239.5 92.1 239.5 91.5 239.5 89.5 240.8 85.5 241.1 82.5 240.8 79.0 239.5 74.9 239.5 72.5 240.0 71.4 240.5 71.0 242.0 70.6 243.1 71.0 243.0 71.5 242.5 72.0 256.5 72.2 264.1 72.0 263.5 71.0 265.0 70.6 266.1 71.0 267.0 72.0 267.1 74.0 267.0 75.2 265.7 79.5 265.6 84.0 266.2 87.0 267.0 89.1 267.1 91.0 267.0 92.5 266.0 93.5Z" fill="#dc2773"/>
<path d="M265.0 92.5 253.5 92.3 242.0 92.5 241.5 92.0 241.5 72.5 242.0 72.0 254.0 72.3 265.0 72.0 265.5 72.5 265.5 92.0 265.0 92.5Z" fill="#d52377"/>
<path d="M265.0 92.5 242.0 92.5 241.5 92.0 241.5 72.5 242.0 72.0 254.0 72.3 265.0 72.0 265.5 72.5 265.5 92.0 265.0 92.5Z" fill="#ce207b"/>
<path d="M265.0 92.4 242.0 92.4 241.6 92.0 241.5 72.5 242.0 72.1 254.0 72.3 265.0 72.1 265.4 72.5 265.4 92.0 265.0 92.4Z" fill="#c21e80"/>
<path d="M265.0 92.4 242.0 92.4 241.6 92.0 241.6 72.5 242.0 72.1 254.0 72.3 265.0 72.1 265.4 72.5 265.4 92.0 265.0 92.4Z" fill="#b71c86"/>
<path d="M265.0 92.4 242.0 92.4 241.6 92.0 241.6 72.5 242.0 72.1 265.0 72.1 265.4 72.5 265.4 92.0 265.0 92.4Z" fill="#ab1a8b"/>
<path d="M265.0 92.4 242.0 92.4 241.6 92.0 241.6 72.5 242.0 72.1 265.0 72.1 265.4 72.5 265.4 92.0 265.0 92.4Z" fill="#a01890"/>
<path d="M265.0 92.3 242.0 92.3 241.6 92.0 241.6 72.5 242.0 72.2 265.0 72.2 265.4 72.5 265.4 92.0 265.0 92.3Z" fill="#901696"/>
<path d="M265.0 92.3 242.0 92.3 241.7 92.0 241.7 72.5 242.0 72.2 265.0 72.2 265.3 72.5 265.3 92.0 265.0 92.3Z" fill="#80149c"/>
<path d="M265.0 92.3 242.0 92.3 241.7 92.0 241.7 72.5 242.0 72.2 265.0 72.2 265.3 72.5 265.3 92.0 265.0 92.3Z" fill="#7012a2"/>
</g>
<use href="#fl1" fill="none" stroke="#4e4a40" stroke-width="0.62" stroke-dasharray="12 2" stroke-opacity="0.72"/>
<use href="#fl1" fill="none" stroke="#0e0a08" stroke-width="0.9" stroke-dasharray="12 2" mask="url(#mk1)"/>
<rect x="212.3" y="56.4" width="24.7" height="8.8" fill="#1a8fb8"/>
<circle cx="217.40" cy="60.80" r="3.6" fill="#fff"/>
<circle cx="217.40" cy="60.80" r="2.3" fill="#0a0a0a"/>
<circle cx="231.70" cy="60.80" r="3.6" fill="#fff"/>
<path d="M229.80 58.90 L233.60 62.70 M229.80 62.70 L233.60 58.90" stroke="#0a0a0a" stroke-width="1.5"/>
<rect x="212.3" y="100.3" width="24.7" height="8.8" fill="#1a8fb8"/>
<circle cx="217.40" cy="104.70" r="3.6" fill="#fff"/>
<circle cx="217.40" cy="104.70" r="2.3" fill="#0a0a0a"/>
<circle cx="231.70" cy="104.70" r="3.6" fill="#fff"/>
<path d="M229.80 102.80 L233.60 106.60 M229.80 106.60 L233.60 102.80" stroke="#0a0a0a" stroke-width="1.5"/>
<rect x="240.7" y="56.4" width="24.7" height="8.8" fill="#f27b6b"/>
<circle cx="245.80" cy="60.80" r="3.6" fill="#fff"/>
<circle cx="260.10" cy="60.80" r="3.6" fill="#fff"/>
<rect x="240.7" y="100.3" width="24.7" height="8.8" fill="#f27b6b"/>
<circle cx="245.80" cy="104.70" r="3.6" fill="#fff"/>
<circle cx="260.10" cy="104.70" r="3.6" fill="#fff"/>
<rect x="268.8" y="56.4" width="24.7" height="8.8" fill="#f7b23e"/>
<circle cx="273.90" cy="60.80" r="3.6" fill="#fff"/>
<path d="M272.00 58.90 L275.80 62.70 M272.00 62.70 L275.80 58.90" stroke="#0a0a0a" stroke-width="1.5"/>
<circle cx="288.20" cy="60.80" r="3.6" fill="#fff"/>
<circle cx="288.20" cy="60.80" r="2.3" fill="#0a0a0a"/>
<rect x="268.8" y="100.3" width="24.7" height="8.8" fill="#f7b23e"/>
<circle cx="273.90" cy="104.70" r="3.6" fill="#fff"/>
<path d="M272.00 102.80 L275.80 106.60 M272.00 106.60 L275.80 102.80" stroke="#0a0a0a" stroke-width="1.5"/>
<circle cx="288.20" cy="104.70" r="3.6" fill="#fff"/>
<circle cx="288.20" cy="104.70" r="2.3" fill="#0a0a0a"/>
<rect x="241.70" y="72.40" width="23.2" height="19.6" fill="url(#mag)" stroke="#f4e4f4" stroke-width="0.8"/>
<path d="M244.80 72.70 Q248.80 82.20 244.80 91.70 M261.80 72.70 Q257.80 82.20 261.80 91.70" stroke="#0a0420" stroke-width="1.0" fill="none" stroke-dasharray="5 1.2"/>
<text x="194.5" y="37.6" font-size="14.2" fill="#111" stroke="#111" stroke-width="0.3" text-anchor="start" font-weight="bold" >ii</text>
</g>
<g clip-path="url(#clip2)">
<g filter="url(#blur1)">
<rect x="339" y="25" width="131.5" height="110" fill="#fcebb8"/>
<path d="M450.5 137.0 415.9 137.0 411.0 135.2 406.5 133.2 401.5 130.3 397.0 127.1 392.8 123.5 389.0 119.4 385.6 115.0 382.7 110.5 380.2 105.5 378.1 100.0 376.7 94.5 375.8 89.0 375.4 83.5 375.6 78.0 376.3 72.5 377.5 67.0 379.4 61.5 381.7 56.5 384.6 51.5 387.8 47.0 391.5 42.8 395.5 39.1 400.0 35.7 404.5 32.9 409.5 30.4 415.0 28.3 422.5 26.4 430.0 25.5 438.0 25.6 445.5 26.7 453.0 28.8 460.0 31.8 466.5 35.6 472.5 40.3 472.9 82.5 472.5 124.7 467.5 128.7 462.0 132.2 456.0 135.1 450.5 137.0Z" fill="#fbdf95"/>
<path d="M439.0 131.0 434.0 131.4 429.0 131.2 424.5 130.6 419.5 129.5 415.0 128.0 410.5 126.1 406.5 123.8 402.4 121.0 398.8 118.0 395.4 114.5 392.3 110.5 389.8 106.5 387.5 102.0 385.8 97.5 384.6 93.0 383.9 88.5 383.5 84.0 383.6 79.0 384.2 74.0 385.2 69.5 386.7 65.0 388.7 60.5 391.0 56.5 393.8 52.5 397.0 48.8 400.5 45.5 404.0 42.8 408.0 40.3 412.5 38.0 417.0 36.3 422.0 34.9 426.5 34.1 433.0 33.6 439.5 34.0 446.0 35.2 452.0 37.1 458.0 39.9 463.5 43.5 468.3 47.5 472.5 52.1 472.8 82.5 472.5 112.9 469.3 116.5 465.5 120.0 461.5 122.9 457.5 125.3 453.0 127.5 448.5 129.1 444.0 130.2 439.0 131.0Z" fill="#fbd87e"/>
<path d="M438.0 126.0 433.5 126.3 429.0 126.1 420.5 124.5 416.5 123.2 412.0 121.2 405.0 116.7 401.8 114.0 399.0 111.0 396.2 107.5 394.1 104.0 390.7 96.5 389.6 92.5 388.8 88.0 388.5 83.5 388.6 79.0 389.2 74.5 390.1 70.5 391.5 66.5 393.2 62.5 395.3 59.0 397.7 55.5 400.8 52.0 404.0 49.1 407.5 46.5 411.0 44.3 415.0 42.4 419.0 40.9 423.0 39.8 427.5 39.1 434.5 38.7 441.0 39.3 447.5 40.9 453.5 43.2 459.5 46.7 464.5 50.7 468.9 55.5 472.5 60.9 472.5 104.1 469.6 108.5 466.3 112.5 462.5 116.0 458.0 119.3 453.5 121.8 448.5 123.8 443.5 125.2 438.0 126.0Z" fill="#fad567"/>
<path d="M439.5 122.0 431.5 122.4 423.5 121.4 416.0 118.9 409.0 115.1 403.1 110.0 398.4 104.0 394.8 97.0 392.8 89.5 392.2 81.5 393.2 73.5 395.7 66.0 399.4 59.5 401.7 56.5 404.5 53.6 410.5 48.9 417.5 45.4 421.5 44.1 425.5 43.2 433.0 42.5 441.0 43.2 448.5 45.2 455.0 48.3 460.9 52.5 465.7 57.5 469.7 63.5 472.5 70.1 472.5 94.9 470.7 99.5 468.2 104.0 465.7 107.5 463.0 110.6 459.5 113.7 456.0 116.1 452.0 118.3 448.0 120.0 444.0 121.2 439.5 122.0Z" fill="#f9d24f"/>
<path d="M434.5 119.0 427.0 118.6 419.5 116.7 413.0 113.7 407.3 109.5 402.3 104.0 398.8 98.0 396.6 91.5 395.5 84.0 396.0 76.5 397.8 69.5 401.0 63.0 405.2 57.5 410.5 52.9 417.0 49.3 424.0 47.0 431.5 46.0 439.0 46.3 446.5 48.1 453.0 51.0 459.0 55.2 463.9 60.5 465.9 63.5 467.8 67.0 470.1 74.0 471.1 81.0 470.6 88.5 468.8 95.5 465.6 102.0 463.5 105.0 461.0 107.9 455.5 112.5 449.0 116.0 442.0 118.1 434.5 119.0Z" fill="#f9cd3a"/>
<path d="M435.5 116.0 428.5 115.8 421.5 114.3 415.5 111.8 410.0 108.2 405.4 103.5 401.9 98.0 399.6 92.0 398.5 85.5 398.6 78.5 399.9 72.0 402.5 66.0 406.3 60.5 411.0 56.1 416.5 52.7 423.0 50.3 429.5 49.1 437.0 49.1 444.0 50.4 450.5 52.9 456.0 56.4 460.8 61.0 464.4 66.5 466.8 72.5 468.1 79.5 468.0 86.5 466.7 93.0 463.9 99.5 460.0 104.9 455.0 109.4 449.0 112.8 442.5 115.0 435.5 116.0Z" fill="#f9c428"/>
<path d="M437.0 113.5 430.5 113.6 424.0 112.6 418.5 110.7 413.0 107.6 408.5 103.7 405.0 99.0 402.7 94.0 401.1 88.0 400.7 81.5 401.4 75.5 403.3 69.5 406.3 64.0 410.4 59.5 415.0 56.1 421.0 53.3 427.0 51.8 434.0 51.3 440.5 52.0 447.0 53.8 452.5 56.6 457.3 60.5 461.3 65.5 463.9 71.0 465.5 77.0 465.9 84.0 465.0 90.5 462.9 96.5 459.5 102.0 455.1 106.5 450.0 109.8 444.0 112.2 437.0 113.5Z" fill="#f8bb17"/>
<path d="M439.0 111.0 433.0 111.5 427.0 111.0 421.5 109.6 416.5 107.4 412.5 104.7 408.9 101.0 406.0 96.5 404.0 91.5 402.9 85.5 402.9 79.5 404.0 73.5 406.3 68.0 409.3 63.5 413.0 59.9 417.5 57.1 423.0 54.9 429.5 53.7 436.0 53.6 442.5 54.6 448.5 56.8 453.5 59.9 457.3 63.5 460.3 68.0 462.6 73.5 463.7 80.0 463.6 86.5 462.1 93.0 459.5 98.5 455.9 103.0 451.0 106.9 445.5 109.5 439.0 111.0Z" fill="#f8b305"/>
<path d="M439.0 109.1 433.5 109.5 428.0 109.1 422.5 107.9 418.0 106.1 414.0 103.6 410.8 100.5 408.0 96.5 406.1 92.0 404.9 86.5 404.7 80.5 405.5 75.0 407.3 70.0 409.6 66.0 413.0 62.3 417.0 59.4 422.0 57.2 428.0 55.9 434.5 55.6 441.0 56.3 446.5 57.9 451.5 60.6 455.4 64.0 458.3 68.0 460.5 73.0 461.8 79.0 461.8 85.5 460.7 91.5 458.3 97.0 454.9 101.5 450.5 105.0 445.0 107.6 439.0 109.1Z" fill="#f8a702"/>
<path d="M436.0 107.5 430.5 107.5 425.5 106.9 421.0 105.6 417.0 103.7 413.5 101.0 410.9 98.0 408.6 94.0 407.2 89.5 406.4 84.0 406.6 78.5 407.7 73.5 409.6 69.0 412.1 65.5 415.5 62.3 419.5 60.0 424.5 58.4 430.5 57.5 437.0 57.5 443.0 58.6 448.0 60.5 452.0 63.0 455.4 66.5 457.7 70.5 459.4 75.5 460.2 81.5 459.8 87.5 458.4 93.0 455.7 98.0 452.0 102.0 447.5 104.8 442.0 106.7 436.0 107.5Z" fill="#f89b05"/>
<path d="M439.0 105.5 434.0 105.9 429.0 105.7 424.5 105.0 420.5 103.7 417.0 101.9 414.0 99.5 411.6 96.5 410.1 93.5 408.7 89.0 408.0 84.0 408.2 78.5 409.3 73.5 411.0 69.5 413.6 66.0 416.5 63.4 420.5 61.3 425.5 59.8 431.5 59.2 438.0 59.4 443.5 60.4 448.0 62.2 451.5 64.5 454.3 67.5 456.5 71.5 458.1 77.0 458.6 83.5 457.8 89.5 455.8 95.0 453.0 99.0 449.0 102.3 444.5 104.3 439.0 105.5Z" fill="#f88f07"/>
<path d="M439.0 104.0 434.5 104.4 429.5 104.2 425.0 103.6 421.5 102.7 418.5 101.4 415.5 99.2 413.5 97.0 411.7 94.0 410.2 90.0 409.5 85.0 409.5 80.0 410.2 75.0 411.7 71.0 413.5 68.0 416.0 65.4 419.5 63.1 424.0 61.6 429.5 60.8 436.0 60.7 442.0 61.4 446.5 62.9 450.0 64.9 452.7 67.5 454.9 71.0 456.7 76.5 457.2 82.5 456.7 88.5 454.9 94.0 452.3 98.0 449.0 100.8 444.5 102.9 439.0 104.0Z" fill="#f88310"/>
<path d="M440.5 102.5 436.0 102.9 431.0 103.0 425.8 102.5 423.0 101.9 420.0 100.9 417.5 99.4 415.0 97.2 413.2 94.5 412.0 91.9 411.0 87.7 410.6 82.0 411.1 76.5 412.0 73.0 414.0 69.1 416.3 66.5 419.0 64.6 423.3 63.0 429.5 62.1 436.0 62.1 441.5 62.6 445.0 63.5 449.0 65.5 451.5 67.7 453.5 70.5 455.0 74.4 455.9 81.0 455.5 88.3 454.4 92.5 452.5 96.0 451.0 97.8 449.0 99.5 445.0 101.5 440.5 102.5Z" fill="#f8751b"/>
<path d="M435.5 101.0 426.5 100.8 421.0 99.6 418.5 98.4 416.8 97.0 415.1 95.0 414.1 93.0 413.0 89.5 412.4 85.0 412.5 79.5 413.1 75.0 414.3 71.5 415.8 69.0 418.0 67.0 420.5 65.6 424.0 64.5 429.0 64.1 437.5 64.0 443.0 64.6 446.5 65.7 449.0 67.3 451.1 69.5 452.5 72.0 453.9 77.0 454.2 84.0 453.5 90.0 451.8 94.5 449.3 97.5 446.0 99.5 441.5 100.6 435.5 101.0ZM435.0 72.5 437.3 72.0 429.3 72.0 431.4 72.5 435.0 72.5ZM437.3 93.0 436.0 92.6 433.5 92.5 431.4 92.5 429.3 93.0 437.3 93.0Z" fill="#f76926"/>
<path d="M443.0 99.0 438.0 99.3 424.0 99.1 420.0 97.9 418.5 97.0 416.9 95.5 415.3 93.0 414.3 89.5 413.9 85.5 413.9 80.0 414.2 76.0 414.9 73.0 416.1 70.5 418.0 68.4 421.0 66.7 424.5 65.9 440.0 65.7 443.5 66.1 446.0 66.8 448.0 67.9 449.7 69.5 451.7 73.0 452.5 77.0 452.7 84.5 452.1 90.5 450.8 94.0 449.0 96.3 446.5 98.0 443.0 99.0ZM438.5 72.5 438.9 72.0 433.5 71.7 427.7 72.0 428.2 72.5 438.5 72.5ZM438.9 93.0 438.5 92.5 433.5 92.5 428.2 92.5 427.7 93.0 433.5 93.3 438.9 93.0Z" fill="#f45d30"/>
<path d="M444.0 97.6 441.5 97.8 433.5 97.5 423.5 97.7 420.0 96.7 417.8 95.0 416.6 93.0 415.7 90.0 415.4 78.5 416.2 73.0 417.1 71.0 418.5 69.3 420.5 68.1 423.5 67.3 433.5 67.5 441.5 67.2 445.5 67.8 447.5 68.8 448.8 70.0 450.3 72.5 451.0 76.0 451.2 85.5 450.8 90.5 449.8 93.5 448.5 95.3 446.5 96.8 444.0 97.6ZM440.3 72.5 440.4 72.0 439.0 71.8 433.5 71.6 427.5 71.8 426.2 72.0 426.2 72.5 440.3 72.5ZM440.4 93.0 440.3 92.5 426.2 92.5 426.2 93.0 430.0 93.4 436.5 93.4 440.4 93.0Z" fill="#f2513a"/>
<path d="M445.5 96.1 442.0 96.4 433.0 95.2 425.5 96.4 423.0 96.4 420.5 95.9 419.0 94.9 417.4 92.5 416.8 88.5 416.9 75.0 417.4 72.5 418.6 70.5 420.5 69.1 423.5 68.5 433.5 69.8 443.5 68.5 445.5 68.9 447.5 70.0 449.0 72.0 449.6 74.5 449.7 89.5 449.3 92.0 448.7 93.5 447.5 95.0 445.5 96.1ZM441.6 72.5 441.5 72.0 440.5 71.8 434.0 71.1 430.5 71.2 425.1 72.0 425.1 72.5 441.6 72.5ZM437.8 93.5 441.5 93.0 441.6 92.5 425.1 92.5 425.1 93.0 425.5 93.1 431.0 93.8 434.5 93.9 437.8 93.5Z" fill="#ee4745"/>
<path d="M444.0 95.5 441.5 95.2 439.9 94.5 439.6 94.0 442.5 93.0 442.5 92.5 424.1 92.5 424.2 93.0 427.0 94.0 426.0 94.9 423.5 95.5 421.0 95.3 419.1 94.0 418.2 92.5 417.9 90.5 418.3 82.5 417.8 75.0 418.2 72.5 419.5 70.6 421.5 69.6 425.0 69.8 426.7 70.5 427.0 71.0 424.2 72.0 424.1 72.5 426.0 72.5 442.5 72.5 442.5 72.0 439.6 71.0 440.5 70.2 443.0 69.5 445.5 69.7 447.5 71.0 448.4 72.5 448.8 74.5 448.3 82.5 448.7 91.0 448.2 93.0 447.0 94.5 445.5 95.3 444.0 95.5Z" fill="#ea3e52"/>
<path d="M446.0 94.6 444.0 95.0 442.1 94.5 441.5 94.0 441.8 93.5 443.0 93.0 443.0 92.5 442.5 92.5 423.6 92.5 423.6 93.0 424.8 93.5 425.1 94.0 424.5 94.5 422.0 95.0 421.0 94.8 419.7 94.0 418.7 92.5 418.4 90.5 419.3 82.5 418.5 74.0 418.7 72.5 419.5 71.2 421.0 70.2 422.5 70.0 424.0 70.3 425.1 71.0 424.8 71.5 423.6 72.0 423.6 72.5 439.0 72.6 443.0 72.5 443.0 72.0 441.8 71.5 441.5 71.0 443.5 70.1 445.5 70.2 446.9 71.0 447.9 72.5 448.1 74.0 447.3 82.5 448.1 91.0 447.7 93.0 446.0 94.6Z" fill="#e6365f"/>
<path d="M445.0 94.5 444.0 94.5 442.8 94.0 442.7 93.5 443.4 93.0 443.3 92.5 442.5 92.5 423.5 92.5 423.2 92.5 423.2 93.0 423.9 93.5 423.8 94.0 423.0 94.4 421.5 94.5 420.0 93.8 419.1 92.5 418.9 91.0 420.1 83.0 419.9 80.0 418.9 74.5 419.1 72.5 419.7 71.5 420.5 70.8 422.0 70.4 423.8 71.0 423.9 71.5 423.2 72.0 423.2 72.5 442.0 72.6 443.3 72.5 443.4 72.0 442.7 71.5 442.8 71.0 443.5 70.6 445.0 70.5 446.5 71.1 447.3 72.0 447.7 73.5 446.5 82.5 447.7 91.5 446.9 93.5 446.0 94.2 445.0 94.5Z" fill="#e22d6b"/>
<path d="M445.5 94.0 443.9 94.0 443.5 93.5 443.9 93.0 443.9 92.5 442.5 92.4 422.7 92.5 422.6 93.0 423.1 93.5 422.6 94.0 421.0 94.0 420.3 93.5 419.5 92.5 419.5 90.0 420.9 85.5 421.1 82.5 420.9 79.5 419.5 75.0 419.5 72.5 420.0 71.8 421.0 71.0 422.5 71.0 423.1 71.5 422.6 72.0 422.7 72.5 440.5 72.6 443.9 72.5 443.9 72.0 443.5 71.5 444.0 71.0 445.5 71.0 446.5 71.5 447.0 72.5 447.0 75.5 445.6 80.0 445.6 84.0 446.1 87.0 447.0 89.5 447.1 91.5 447.0 92.5 446.5 93.5 445.5 94.0Z" fill="#dc2773"/>
<path d="M445.0 92.5 422.0 92.5 421.5 92.0 421.5 73.0 422.0 72.5 445.0 72.5 445.5 73.0 445.5 92.0 445.0 92.5Z" fill="#d52377"/>
<path d="M445.0 92.5 422.0 92.5 421.5 92.0 421.5 73.0 422.0 72.5 445.0 72.5 445.5 73.0 445.5 92.0 445.0 92.5Z" fill="#ce207b"/>
<path d="M445.0 92.4 422.0 92.4 421.5 92.0 421.5 73.0 422.0 72.6 445.0 72.6 445.4 73.0 445.4 92.0 445.0 92.4Z" fill="#c21e80"/>
<path d="M445.0 92.4 422.0 92.4 421.6 92.0 421.6 73.0 422.0 72.6 445.0 72.6 445.4 73.0 445.4 92.0 445.0 92.4Z" fill="#b71c86"/>
<path d="M445.0 92.4 422.0 92.4 421.6 92.0 421.6 73.0 422.0 72.6 445.0 72.6 445.4 73.0 445.4 92.0 445.0 92.4Z" fill="#ab1a8b"/>
<path d="M445.0 92.4 422.0 92.4 421.6 92.0 421.6 73.0 422.0 72.6 445.0 72.6 445.4 73.0 445.4 92.0 445.0 92.4Z" fill="#a01890"/>
<path d="M445.0 92.3 422.0 92.3 421.6 92.0 421.6 73.0 422.0 72.7 445.0 72.7 445.4 73.0 445.4 92.0 445.0 92.3Z" fill="#901696"/>
<path d="M445.0 92.3 422.0 92.3 421.7 92.0 421.7 73.0 422.0 72.7 445.0 72.7 445.3 73.0 445.3 92.0 445.0 92.3Z" fill="#80149c"/>
<path d="M445.0 92.3 422.0 92.3 421.7 92.0 421.7 73.0 422.0 72.7 445.0 72.7 445.3 73.0 445.3 92.0 445.0 92.3Z" fill="#7012a2"/>
</g>
<use href="#fl2" fill="none" stroke="#4e4a40" stroke-width="0.62" stroke-dasharray="12 2" stroke-opacity="0.72"/>
<use href="#fl2" fill="none" stroke="#0e0a08" stroke-width="0.9" stroke-dasharray="12 2" mask="url(#mk2)"/>
<rect x="364.2" y="55.9" width="24.7" height="8.8" fill="#1a8fb8"/>
<circle cx="369.30" cy="60.30" r="3.6" fill="#fff"/>
<circle cx="369.30" cy="60.30" r="2.3" fill="#0a0a0a"/>
<circle cx="383.60" cy="60.30" r="3.6" fill="#fff"/>
<path d="M381.70 58.40 L385.50 62.20 M381.70 62.20 L385.50 58.40" stroke="#0a0a0a" stroke-width="1.5"/>
<rect x="364.2" y="99.2" width="24.7" height="8.8" fill="#1a8fb8"/>
<circle cx="369.30" cy="103.60" r="3.6" fill="#fff"/>
<circle cx="369.30" cy="103.60" r="2.3" fill="#0a0a0a"/>
<circle cx="383.60" cy="103.60" r="3.6" fill="#fff"/>
<path d="M381.70 101.70 L385.50 105.50 M381.70 105.50 L385.50 101.70" stroke="#0a0a0a" stroke-width="1.5"/>
<rect x="392.9" y="55.9" width="24.7" height="8.8" fill="#f27b6b"/>
<circle cx="398.00" cy="60.30" r="3.6" fill="#fff"/>
<circle cx="398.00" cy="60.30" r="2.3" fill="#0a0a0a"/>
<circle cx="412.30" cy="60.30" r="3.6" fill="#fff"/>
<path d="M410.40 58.40 L414.20 62.20 M410.40 62.20 L414.20 58.40" stroke="#0a0a0a" stroke-width="1.5"/>
<rect x="392.9" y="99.2" width="24.7" height="8.8" fill="#f27b6b"/>
<circle cx="398.00" cy="103.60" r="3.6" fill="#fff"/>
<circle cx="398.00" cy="103.60" r="2.3" fill="#0a0a0a"/>
<circle cx="412.30" cy="103.60" r="3.6" fill="#fff"/>
<path d="M410.40 101.70 L414.20 105.50 M410.40 105.50 L414.20 101.70" stroke="#0a0a0a" stroke-width="1.5"/>
<rect x="420.6" y="55.9" width="24.7" height="8.8" fill="#f7b23e"/>
<circle cx="425.70" cy="60.30" r="3.6" fill="#fff"/>
<path d="M423.80 58.40 L427.60 62.20 M423.80 62.20 L427.60 58.40" stroke="#0a0a0a" stroke-width="1.5"/>
<circle cx="440.00" cy="60.30" r="3.6" fill="#fff"/>
<circle cx="440.00" cy="60.30" r="2.3" fill="#0a0a0a"/>
<rect x="420.6" y="99.2" width="24.7" height="8.8" fill="#f7b23e"/>
<circle cx="425.70" cy="103.60" r="3.6" fill="#fff"/>
<path d="M423.80 101.70 L427.60 105.50 M423.80 105.50 L427.60 101.70" stroke="#0a0a0a" stroke-width="1.5"/>
<circle cx="440.00" cy="103.60" r="3.6" fill="#fff"/>
<circle cx="440.00" cy="103.60" r="2.3" fill="#0a0a0a"/>
<rect x="421.70" y="72.70" width="23.2" height="19.6" fill="url(#mag)" stroke="#f4e4f4" stroke-width="0.8"/>
<path d="M424.80 73.00 Q428.80 82.50 424.80 92.00 M441.80 73.00 Q437.80 82.50 441.80 92.00" stroke="#0a0420" stroke-width="1.0" fill="none" stroke-dasharray="5 1.2"/>
<text x="349.3" y="37.6" font-size="14.2" fill="#111" stroke="#111" stroke-width="0.3" text-anchor="start" font-weight="bold" >iii</text>
</g>
<rect x="170.1" y="72.8" width="6.6" height="12.0" fill="url(#arrS)"/>
<path d="M176.5 67.2 L185.4 79.0 L176.5 90.0 Z" fill="url(#arrH)"/>
<rect x="324.6" y="72.8" width="6.6" height="12.0" fill="url(#arrS)"/>
<path d="M331.0 67.2 L339.9 79.0 L331.0 90.0 Z" fill="url(#arrH)"/>
<rect x="475.6" y="24.9" width="10" height="109.6" fill="url(#cbar)" stroke="#8a94c0" stroke-width="0.7"/>
<text x="493.2" y="33.56" font-size="9.1" fill="#111" stroke="#111" stroke-width="0.22" text-anchor="start" font-weight="bold" >0.1</text>
<text x="491.3" y="54.56" font-size="9.1" fill="#111" stroke="#111" stroke-width="0.22" text-anchor="start" font-weight="bold" >0.08</text>
<text x="491.3" y="75.76" font-size="9.1" fill="#111" stroke="#111" stroke-width="0.22" text-anchor="start" font-weight="bold" >0.06</text>
<text x="491.3" y="96.96" font-size="9.1" fill="#111" stroke="#111" stroke-width="0.22" text-anchor="start" font-weight="bold" >0.04</text>
<text x="491.3" y="117.96" font-size="9.1" fill="#111" stroke="#111" stroke-width="0.22" text-anchor="start" font-weight="bold" >0.02</text>
<text x="493" y="136.96" font-size="9.1" fill="#111" stroke="#111" stroke-width="0.22" text-anchor="start" font-weight="bold" >0</text>
<path d="M475.6 112.5 h1.3 M485.6 112.5 h-1.3" stroke="#333" stroke-width="0.8"/>
<path d="M475.6 90.5 h1.3 M485.6 90.5 h-1.3" stroke="#333" stroke-width="0.8"/>
<path d="M475.6 68.5 h1.3 M485.6 68.5 h-1.3" stroke="#333" stroke-width="0.8"/>
<path d="M475.6 46.5 h1.3 M485.6 46.5 h-1.3" stroke="#333" stroke-width="0.8"/>
<text x="480.8" y="21.7" font-size="8.8" fill="#111" stroke="#111" stroke-width="0.22" text-anchor="middle" font-weight="bold" >T</text>
<circle cx="59.2" cy="172" r="27.3" fill="#27a0c2" fill-opacity="0.3"/>
<circle cx="60.2" cy="172.9" r="6.8" fill="none" stroke="#27a0c2" stroke-width="0.9"/>
<circle cx="60.12" cy="172.82" r="8.46" fill="none" stroke="#27a0c2" stroke-width="0.9"/>
<circle cx="60.03" cy="172.75" r="10.12" fill="none" stroke="#27a0c2" stroke-width="0.9"/>
<circle cx="59.95" cy="172.68" r="11.77" fill="none" stroke="#27a0c2" stroke-width="0.9"/>
<circle cx="59.87" cy="172.6" r="13.43" fill="none" stroke="#27a0c2" stroke-width="0.9"/>
<circle cx="59.78" cy="172.53" r="15.09" fill="none" stroke="#27a0c2" stroke-width="0.9"/>
<circle cx="59.7" cy="172.45" r="16.75" fill="none" stroke="#27a0c2" stroke-width="0.9"/>
<circle cx="59.62" cy="172.38" r="18.41" fill="none" stroke="#27a0c2" stroke-width="0.9"/>
<circle cx="59.53" cy="172.3" r="20.07" fill="none" stroke="#27a0c2" stroke-width="0.9"/>
<circle cx="59.45" cy="172.22" r="21.72" fill="none" stroke="#27a0c2" stroke-width="0.9"/>
<circle cx="59.37" cy="172.15" r="23.38" fill="none" stroke="#27a0c2" stroke-width="0.9"/>
<circle cx="59.28" cy="172.07" r="25.04" fill="none" stroke="#27a0c2" stroke-width="0.9"/>
<circle cx="59.2" cy="172" r="26.7" fill="none" stroke="#27a0c2" stroke-width="0.9"/>
<circle cx="60.2" cy="172.9" r="5.5" fill="#fff"/>
<circle cx="139.9" cy="172" r="27.3" fill="#27a0c2" fill-opacity="0.3"/>
<circle cx="140.9" cy="172.9" r="6.8" fill="none" stroke="#27a0c2" stroke-width="0.9"/>
<circle cx="140.82" cy="172.82" r="8.46" fill="none" stroke="#27a0c2" stroke-width="0.9"/>
<circle cx="140.73" cy="172.75" r="10.12" fill="none" stroke="#27a0c2" stroke-width="0.9"/>
<circle cx="140.65" cy="172.68" r="11.77" fill="none" stroke="#27a0c2" stroke-width="0.9"/>
<circle cx="140.57" cy="172.6" r="13.43" fill="none" stroke="#27a0c2" stroke-width="0.9"/>
<circle cx="140.48" cy="172.53" r="15.09" fill="none" stroke="#27a0c2" stroke-width="0.9"/>
<circle cx="140.4" cy="172.45" r="16.75" fill="none" stroke="#27a0c2" stroke-width="0.9"/>
<circle cx="140.32" cy="172.38" r="18.41" fill="none" stroke="#27a0c2" stroke-width="0.9"/>
<circle cx="140.23" cy="172.3" r="20.07" fill="none" stroke="#27a0c2" stroke-width="0.9"/>
<circle cx="140.15" cy="172.22" r="21.72" fill="none" stroke="#27a0c2" stroke-width="0.9"/>
<circle cx="140.07" cy="172.15" r="23.38" fill="none" stroke="#27a0c2" stroke-width="0.9"/>
<circle cx="139.98" cy="172.07" r="25.04" fill="none" stroke="#27a0c2" stroke-width="0.9"/>
<circle cx="139.9" cy="172" r="26.7" fill="none" stroke="#27a0c2" stroke-width="0.9"/>
<circle cx="140.9" cy="172.9" r="5.5" fill="#fff"/>
<circle cx="220" cy="172" r="27.3" fill="#f47a66" fill-opacity="0.3"/>
<circle cx="221" cy="172.9" r="6.8" fill="none" stroke="#f47a66" stroke-width="0.9"/>
<circle cx="220.92" cy="172.82" r="8.46" fill="none" stroke="#f47a66" stroke-width="0.9"/>
<circle cx="220.83" cy="172.75" r="10.12" fill="none" stroke="#f47a66" stroke-width="0.9"/>
<circle cx="220.75" cy="172.68" r="11.77" fill="none" stroke="#f47a66" stroke-width="0.9"/>
<circle cx="220.67" cy="172.6" r="13.43" fill="none" stroke="#f47a66" stroke-width="0.9"/>
<circle cx="220.58" cy="172.53" r="15.09" fill="none" stroke="#f47a66" stroke-width="0.9"/>
<circle cx="220.5" cy="172.45" r="16.75" fill="none" stroke="#f47a66" stroke-width="0.9"/>
<circle cx="220.42" cy="172.38" r="18.41" fill="none" stroke="#f47a66" stroke-width="0.9"/>
<circle cx="220.33" cy="172.3" r="20.07" fill="none" stroke="#f47a66" stroke-width="0.9"/>
<circle cx="220.25" cy="172.22" r="21.72" fill="none" stroke="#f47a66" stroke-width="0.9"/>
<circle cx="220.17" cy="172.15" r="23.38" fill="none" stroke="#f47a66" stroke-width="0.9"/>
<circle cx="220.08" cy="172.07" r="25.04" fill="none" stroke="#f47a66" stroke-width="0.9"/>
<circle cx="220" cy="172" r="26.7" fill="none" stroke="#f47a66" stroke-width="0.9"/>
<circle cx="221" cy="172.9" r="5.5" fill="#fff"/>
<circle cx="300.6" cy="172" r="27.3" fill="#f47a66" fill-opacity="0.3"/>
<circle cx="301.6" cy="172.9" r="6.8" fill="none" stroke="#f47a66" stroke-width="0.9"/>
<circle cx="301.52" cy="172.82" r="8.46" fill="none" stroke="#f47a66" stroke-width="0.9"/>
<circle cx="301.43" cy="172.75" r="10.12" fill="none" stroke="#f47a66" stroke-width="0.9"/>
<circle cx="301.35" cy="172.68" r="11.77" fill="none" stroke="#f47a66" stroke-width="0.9"/>
<circle cx="301.27" cy="172.6" r="13.43" fill="none" stroke="#f47a66" stroke-width="0.9"/>
<circle cx="301.18" cy="172.53" r="15.09" fill="none" stroke="#f47a66" stroke-width="0.9"/>
<circle cx="301.1" cy="172.45" r="16.75" fill="none" stroke="#f47a66" stroke-width="0.9"/>
<circle cx="301.02" cy="172.38" r="18.41" fill="none" stroke="#f47a66" stroke-width="0.9"/>
<circle cx="300.93" cy="172.3" r="20.07" fill="none" stroke="#f47a66" stroke-width="0.9"/>
<circle cx="300.85" cy="172.22" r="21.72" fill="none" stroke="#f47a66" stroke-width="0.9"/>
<circle cx="300.77" cy="172.15" r="23.38" fill="none" stroke="#f47a66" stroke-width="0.9"/>
<circle cx="300.68" cy="172.07" r="25.04" fill="none" stroke="#f47a66" stroke-width="0.9"/>
<circle cx="300.6" cy="172" r="26.7" fill="none" stroke="#f47a66" stroke-width="0.9"/>
<circle cx="301.6" cy="172.9" r="5.5" fill="#fff"/>
<circle cx="381.2" cy="172" r="27.3" fill="#f8b93c" fill-opacity="0.3"/>
<circle cx="382.2" cy="172.9" r="6.8" fill="none" stroke="#f8b93c" stroke-width="0.9"/>
<circle cx="382.12" cy="172.82" r="8.46" fill="none" stroke="#f8b93c" stroke-width="0.9"/>
<circle cx="382.03" cy="172.75" r="10.12" fill="none" stroke="#f8b93c" stroke-width="0.9"/>
<circle cx="381.95" cy="172.68" r="11.77" fill="none" stroke="#f8b93c" stroke-width="0.9"/>
<circle cx="381.87" cy="172.6" r="13.43" fill="none" stroke="#f8b93c" stroke-width="0.9"/>
<circle cx="381.78" cy="172.53" r="15.09" fill="none" stroke="#f8b93c" stroke-width="0.9"/>
<circle cx="381.7" cy="172.45" r="16.75" fill="none" stroke="#f8b93c" stroke-width="0.9"/>
<circle cx="381.62" cy="172.38" r="18.41" fill="none" stroke="#f8b93c" stroke-width="0.9"/>
<circle cx="381.53" cy="172.3" r="20.07" fill="none" stroke="#f8b93c" stroke-width="0.9"/>
<circle cx="381.45" cy="172.22" r="21.72" fill="none" stroke="#f8b93c" stroke-width="0.9"/>
<circle cx="381.37" cy="172.15" r="23.38" fill="none" stroke="#f8b93c" stroke-width="0.9"/>
<circle cx="381.28" cy="172.07" r="25.04" fill="none" stroke="#f8b93c" stroke-width="0.9"/>
<circle cx="381.2" cy="172" r="26.7" fill="none" stroke="#f8b93c" stroke-width="0.9"/>
<circle cx="382.2" cy="172.9" r="5.5" fill="#fff"/>
<circle cx="461.8" cy="172" r="27.3" fill="#f8b93c" fill-opacity="0.3"/>
<circle cx="462.8" cy="172.9" r="6.8" fill="none" stroke="#f8b93c" stroke-width="0.9"/>
<circle cx="462.72" cy="172.82" r="8.46" fill="none" stroke="#f8b93c" stroke-width="0.9"/>
<circle cx="462.63" cy="172.75" r="10.12" fill="none" stroke="#f8b93c" stroke-width="0.9"/>
<circle cx="462.55" cy="172.68" r="11.77" fill="none" stroke="#f8b93c" stroke-width="0.9"/>
<circle cx="462.47" cy="172.6" r="13.43" fill="none" stroke="#f8b93c" stroke-width="0.9"/>
<circle cx="462.38" cy="172.53" r="15.09" fill="none" stroke="#f8b93c" stroke-width="0.9"/>
<circle cx="462.3" cy="172.45" r="16.75" fill="none" stroke="#f8b93c" stroke-width="0.9"/>
<circle cx="462.22" cy="172.38" r="18.41" fill="none" stroke="#f8b93c" stroke-width="0.9"/>
<circle cx="462.13" cy="172.3" r="20.07" fill="none" stroke="#f8b93c" stroke-width="0.9"/>
<circle cx="462.05" cy="172.22" r="21.72" fill="none" stroke="#f8b93c" stroke-width="0.9"/>
<circle cx="461.97" cy="172.15" r="23.38" fill="none" stroke="#f8b93c" stroke-width="0.9"/>
<circle cx="461.88" cy="172.07" r="25.04" fill="none" stroke="#f8b93c" stroke-width="0.9"/>
<circle cx="461.8" cy="172" r="26.7" fill="none" stroke="#f8b93c" stroke-width="0.9"/>
<circle cx="462.8" cy="172.9" r="5.5" fill="#fff"/>
<path d="M56.3 175.6 V215.8" stroke="url(#gin0)" stroke-width="1.45" fill="none"/>
<path d="M77.3 149.7 V215.8" stroke="url(#gout0)" stroke-width="1.45" fill="none"/>
<circle cx="56.3" cy="175.6" r="2.5" fill="#148aae"/>
<circle cx="77.3" cy="149.7" r="2.5" fill="#148aae"/>
<path d="M137 175.6 V215.8" stroke="url(#gin1)" stroke-width="1.45" fill="none"/>
<path d="M158 149.7 V215.8" stroke="url(#gout1)" stroke-width="1.45" fill="none"/>
<circle cx="137" cy="175.6" r="2.5" fill="#148aae"/>
<circle cx="158" cy="149.7" r="2.5" fill="#148aae"/>
<path d="M217.1 175.6 V215.8" stroke="url(#gin2)" stroke-width="1.45" fill="none"/>
<path d="M238.1 149.7 V215.8" stroke="url(#gout2)" stroke-width="1.45" fill="none"/>
<circle cx="217.1" cy="175.6" r="2.5" fill="#f06a55"/>
<circle cx="238.1" cy="149.7" r="2.5" fill="#f06a55"/>
<path d="M297.7 175.6 V215.8" stroke="url(#gin3)" stroke-width="1.45" fill="none"/>
<path d="M318.7 149.7 V215.8" stroke="url(#gout3)" stroke-width="1.45" fill="none"/>
<circle cx="297.7" cy="175.6" r="2.5" fill="#f06a55"/>
<circle cx="318.7" cy="149.7" r="2.5" fill="#f06a55"/>
<path d="M378.3 175.6 V215.8" stroke="url(#gin4)" stroke-width="1.45" fill="none"/>
<path d="M399.3 149.7 V215.8" stroke="url(#gout4)" stroke-width="1.45" fill="none"/>
<circle cx="378.3" cy="175.6" r="2.5" fill="#f6ab1e"/>
<circle cx="399.3" cy="149.7" r="2.5" fill="#f6ab1e"/>
<path d="M458.9 175.6 V215.8" stroke="url(#gin5)" stroke-width="1.45" fill="none"/>
<path d="M479.9 149.7 V215.8" stroke="url(#gout5)" stroke-width="1.45" fill="none"/>
<circle cx="458.9" cy="175.6" r="2.5" fill="#f6ab1e"/>
<circle cx="479.9" cy="149.7" r="2.5" fill="#f6ab1e"/>
<path d="M76.65 215.8 H137.65" stroke="#a7c4ef" stroke-width="1.3" fill="none"/>
<path d="M157.35 215.8 H217.75" stroke="#a7c4ef" stroke-width="1.3" fill="none"/>
<path d="M237.45 215.8 H298.35" stroke="#a7c4ef" stroke-width="1.3" fill="none"/>
<path d="M318.05 215.8 H378.95" stroke="#a7c4ef" stroke-width="1.3" fill="none"/>
<path d="M398.65 215.8 H459.55" stroke="#a7c4ef" stroke-width="1.3" fill="none"/>
<path d="M57 215.8 H32.1" stroke="#f2141c" stroke-width="1.5" fill="none"/>
<circle cx="29.7" cy="216.0" r="2.3" fill="#fff" stroke="#f2141c" stroke-width="1.4"/>
<path d="M17.4 215.8 h6.8 M20.8 212.4 v6.8" stroke="#f2141c" stroke-width="2.3"/>
<path d="M479.2 215.8 H504.2" stroke="#111" stroke-width="1.5" fill="none"/>
<circle cx="506.7" cy="216.0" r="2.3" fill="#fff" stroke="#111" stroke-width="1.4"/>
<path d="M513.0 215.8 H521.6" stroke="#111" stroke-width="2.2"/>
<path d="M49.6 217.8 Q49.6 227.4 58.6 227.4 H101.4 Q109.4 227.4 109.4 236.4 Q109.4 227.4 117.4 227.4 H159.6 Q168.6 227.4 168.6 217.8" stroke="#1b8fb3" stroke-width="1.9" fill="none"/>
<text x="111.5" y="252.8" font-size="10.3" fill="#1b8fb3" stroke="#1b8fb3" stroke-width="0.22" text-anchor="middle" font-weight="bold" >EMG1</text>
<path d="M208.4 217.8 Q208.4 227.4 217.4 227.4 H259.7 Q267.7 227.4 267.7 236.4 Q267.7 227.4 275.7 227.4 H318 Q327.0 227.4 327.0 217.8" stroke="#f4735e" stroke-width="1.9" fill="none"/>
<text x="271" y="253.7" font-size="10.3" fill="#f4735e" stroke="#f4735e" stroke-width="0.22" text-anchor="middle" font-weight="bold" >EMG2</text>
<path d="M367.7 217.8 Q367.7 227.4 376.7 227.4 H418.5 Q426.5 227.4 426.5 236.4 Q426.5 227.4 434.5 227.4 H476.5 Q485.5 227.4 485.5 217.8" stroke="#f6a91c" stroke-width="1.9" fill="none"/>
<text x="429.1" y="255.1" font-size="10.3" fill="#f6a91c" stroke="#f6a91c" stroke-width="0.22" text-anchor="middle" font-weight="bold" >EMG3</text>
<path d="M56.3 360.6 L56.65 326.5 L57.2 321.5 L57.8 331.5 L58.7 325.5 L59.4 298.2 L60.1 327.5 L60.7 323.5 L61.4 331.5 L62.1 328.5 L63.33 329.5 L63.83 360.6 L64.18 326.5 L64.73 321.5 L65.33 331.5 L66.23 325.5 L66.93 298.2 L67.63 327.5 L68.23 323.5 L68.93 331.5 L69.63 328.5 L70.86 329.5 L71.36 360.6 L71.71 326.5 L72.26 321.5 L72.86 331.5 L73.76 325.5 L74.46 298.2 L75.16 327.5 L75.76 323.5 L76.46 331.5 L77.16 328.5 L78.39 329.5 L78.89 360.6 L79.24 326.5 L79.79 321.5 L80.39 331.5 L81.29 325.5 L81.99 298.2 L82.69 327.5 L83.29 323.5 L83.99 331.5 L84.69 328.5 L85.92 329.5 L86.42 360.6" fill="none" stroke="#1b93b5" stroke-width="1.35" stroke-linejoin="round" />
<path d="M97.2 353 L97.45 337 L97.75 326.5 L98.15 299 L98.6 327.5 L99.1 337 L99.7 328.5 L100.4 336 L101.05 353 L101.3 337 L101.6 326.5 L102 299 L102.45 327.5 L102.95 337 L103.55 328.5 L104.25 336 L104.9 353 L105.15 337 L105.45 326.5 L105.85 299 L106.3 327.5 L106.8 337 L107.4 328.5 L108.1 336 L108.75 353 L109 337 L109.3 326.5 L109.7 299 L110.15 327.5 L110.65 337 L111.25 328.5 L111.95 336 L112.6 353 L112.85 337 L113.15 326.5 L113.55 299 L114 327.5 L114.5 337 L115.1 328.5 L115.8 336 L116.45 353 L116.7 337 L117 326.5 L117.4 299 L117.85 327.5 L118.35 337 L118.95 328.5 L119.65 336 L120.3 353 L120.55 337 L120.85 326.5 L121.25 299 L121.7 327.5 L122.2 337 L122.8 328.5 L123.5 336 L124.15 353 L124.4 337 L124.7 326.5 L125.1 299 L125.55 327.5 L126.05 337 L126.65 328.5 L127.35 336 L128 353" fill="none" stroke="#f47562" stroke-width="1.15" stroke-linejoin="round" />
<path d="M138.3 361.5 L138.65 328.5 L139.2 325.5 L139.8 334.5 L141.8 327.5 L142.5 297.4 L143.2 329.5 L143.8 327.5 L144.5 334.5 L145.2 330.5 L145.48 331.5 L145.98 361.5 L146.33 328.5 L146.88 325.5 L147.48 334.5 L149.48 327.5 L150.18 297.4 L150.88 329.5 L151.48 327.5 L152.18 334.5 L152.88 330.5 L153.16 331.5 L153.66 361.5 L154.01 328.5 L154.56 325.5 L155.16 334.5 L157.16 327.5 L157.86 297.4 L158.56 329.5 L159.16 327.5 L159.86 334.5 L160.56 330.5 L160.84 331.5 L161.34 361.5 L161.69 328.5 L162.24 325.5 L162.84 334.5 L164.84 327.5 L165.54 297.4 L166.24 329.5 L166.84 327.5 L167.54 334.5 L168.24 330.5 L168.52 331.5 L169.02 361.5" fill="none" stroke="#f7b523" stroke-width="1.15" stroke-linejoin="round" />
<path d="M52.6 282.9 H171.3" stroke="#333333" stroke-width="1.3" fill="none"/>
<path d="M52.6 371.2 H171.3" stroke="#333333" stroke-width="1.3" fill="none"/>
<path d="M52.6 282.9 V371.2" stroke="#333333" stroke-width="1.3" fill="none"/>
<path d="M171.3 282.9 V371.2" stroke="#333333" stroke-width="1.3" fill="none"/>
<path d="M52.6 291.7 h1.6" stroke="#333333" stroke-width="0.9"/>
<text x="50.4" y="294.81" font-size="8.7" fill="#111" stroke="#111" stroke-width="0.22" text-anchor="end" font-weight="bold" >1.6</text>
<path d="M52.6 309.4 h1.6" stroke="#333333" stroke-width="0.9"/>
<text x="50.4" y="312.51" font-size="8.7" fill="#111" stroke="#111" stroke-width="0.22" text-anchor="end" font-weight="bold" >0.8</text>
<path d="M52.6 327.2 h1.6" stroke="#333333" stroke-width="0.9"/>
<text x="50.4" y="330.31" font-size="8.7" fill="#111" stroke="#111" stroke-width="0.22" text-anchor="end" font-weight="bold" >0</text>
<path d="M52.6 345 h1.6" stroke="#333333" stroke-width="0.9"/>
<text x="50.4" y="348.11" font-size="8.7" fill="#111" stroke="#111" stroke-width="0.22" text-anchor="end" font-weight="bold" >−0.8</text>
<path d="M52.6 362.4 h1.6" stroke="#333333" stroke-width="0.9"/>
<text x="50.4" y="365.51" font-size="8.7" fill="#111" stroke="#111" stroke-width="0.22" text-anchor="end" font-weight="bold" >−0.6</text>
<path d="M52.6 300.55 h1.0" stroke="#333333" stroke-width="0.8"/>
<path d="M52.6 318.3 h1.0" stroke="#333333" stroke-width="0.8"/>
<path d="M52.6 336.1 h1.0" stroke="#333333" stroke-width="0.8"/>
<path d="M52.6 353.7 h1.0" stroke="#333333" stroke-width="0.8"/>
<path d="M56.3 371.2 v-1.6" stroke="#333333" stroke-width="0.9"/>
<text x="56.3" y="379.81" font-size="8.7" fill="#111" stroke="#111" stroke-width="0.22" text-anchor="middle" font-weight="bold" >0</text>
<path d="M89.6 371.2 v-1.6" stroke="#333333" stroke-width="0.9"/>
<text x="89.6" y="379.81" font-size="8.7" fill="#111" stroke="#111" stroke-width="0.22" text-anchor="middle" font-weight="bold" >2</text>
<path d="M122 371.2 v-1.6" stroke="#333333" stroke-width="0.9"/>
<text x="122" y="379.81" font-size="8.7" fill="#111" stroke="#111" stroke-width="0.22" text-anchor="middle" font-weight="bold" >4</text>
<path d="M154.9 371.2 v-1.6" stroke="#333333" stroke-width="0.9"/>
<text x="154.9" y="379.81" font-size="8.7" fill="#111" stroke="#111" stroke-width="0.22" text-anchor="middle" font-weight="bold" >6</text>
<path d="M72.95 371.2 v-1" stroke="#333333" stroke-width="0.8"/>
<path d="M105.8 371.2 v-1" stroke="#333333" stroke-width="0.8"/>
<path d="M138.45 371.2 v-1" stroke="#333333" stroke-width="0.8"/>
<text x="71" y="293.9" font-size="7.3" fill="#1b93b5" stroke="#1b93b5" stroke-width="0.22" text-anchor="middle" font-weight="bold" >EMG1</text>
<text x="112.6" y="293.9" font-size="7.3" fill="#f47562" stroke="#f47562" stroke-width="0.22" text-anchor="middle" font-weight="bold" >EMG2</text>
<text x="153.5" y="293.9" font-size="7.3" fill="#f7b523" stroke="#f7b523" stroke-width="0.22" text-anchor="middle" font-weight="bold" >EMG3</text>
<text x="112" y="391.6" font-size="10.2" fill="#111" stroke="#111" stroke-width="0.22" text-anchor="middle" font-weight="bold" >Time (s)</text>
<text transform="translate(28.4 326.5) rotate(-90)" x="0" y="0" font-size="9.8" fill="#111" stroke="#111" stroke-width="0.22" text-anchor="middle" font-weight="bold"><tspan font-style="italic" font-size="10.6">V</tspan><tspan font-size="7.4" dy="3">OC</tspan><tspan dy="-3" font-size="8.4"> (V)</tspan></text>
<path d="M56 512.2 L56.35 479.5 L56.9 478.5 L57.5 489.5 L60.1 478.5 L60.8 449 L61.5 480.5 L62.1 480.5 L62.8 489.5 L63.5 481.5 L63.1 482.5 L63.6 512.2 L63.95 479.5 L64.5 478.5 L65.1 489.5 L67.7 478.5 L68.4 449 L69.1 480.5 L69.7 480.5 L70.4 489.5 L71.1 481.5 L70.7 482.5 L71.2 512.2 L71.55 479.5 L72.1 478.5 L72.7 489.5 L75.3 478.5 L76 449 L76.7 480.5 L77.3 480.5 L78 489.5 L78.7 481.5 L78.3 482.5 L78.8 512.2 L79.15 479.5 L79.7 478.5 L80.3 489.5 L82.9 478.5 L83.6 449 L84.3 480.5 L84.9 480.5 L85.6 489.5 L86.3 481.5 L85.9 482.5 L86.4 512.2" fill="none" stroke="#1b93b5" stroke-width="1.35" stroke-linejoin="round" />
<path d="M97.2 511.8 L97.45 486 L97.75 472.5 L98.15 457 L98.6 473.5 L99.1 486 L99.7 474.5 L100.4 485 L101 511.8 L101.25 486 L101.55 472.5 L101.95 457 L102.4 473.5 L102.9 486 L103.5 474.5 L104.2 485 L104.8 511.8 L105.05 486 L105.35 472.5 L105.75 457 L106.2 473.5 L106.7 486 L107.3 474.5 L108 485 L108.6 511.8 L108.85 486 L109.15 472.5 L109.55 457 L110 473.5 L110.5 486 L111.1 474.5 L111.8 485 L112.4 511.8 L112.65 486 L112.95 472.5 L113.35 457 L113.8 473.5 L114.3 486 L114.9 474.5 L115.6 485 L116.2 511.8 L116.45 486 L116.75 472.5 L117.15 457 L117.6 473.5 L118.1 486 L118.7 474.5 L119.4 485 L120 511.8 L120.25 486 L120.55 472.5 L120.95 457 L121.4 473.5 L121.9 486 L122.5 474.5 L123.2 485 L123.8 511.8 L124.05 486 L124.35 472.5 L124.75 457 L125.2 473.5 L125.7 486 L126.3 474.5 L127 485 L127.6 511.8" fill="none" stroke="#f47562" stroke-width="1.1" stroke-linejoin="round" />
<path d="M138 511.8 L138.35 478 L138.9 474.5 L139.5 484.5 L140.8 477 L141.5 449.3 L142.2 479 L142.8 476.5 L143.5 484.5 L144.2 480 L145.1 481 L145.6 511.8 L145.95 478 L146.5 474.5 L147.1 484.5 L148.4 477 L149.1 449.3 L149.8 479 L150.4 476.5 L151.1 484.5 L151.8 480 L152.7 481 L153.2 511.8 L153.55 478 L154.1 474.5 L154.7 484.5 L156 477 L156.7 449.3 L157.4 479 L158 476.5 L158.7 484.5 L159.4 480 L160.3 481 L160.8 511.8 L161.15 478 L161.7 474.5 L162.3 484.5 L163.6 477 L164.3 449.3 L165 479 L165.6 476.5 L166.3 484.5 L167 480 L167.9 481 L168.4 511.8" fill="none" stroke="#f7b523" stroke-width="1.15" stroke-linejoin="round" />
<path d="M52.4 432.6 H171.3" stroke="#333333" stroke-width="1.3" fill="none"/>
<path d="M52.4 521.2 H171.3" stroke="#333333" stroke-width="1.3" fill="none"/>
<path d="M52.4 432.6 V521.2" stroke="#333333" stroke-width="1.3" fill="none"/>
<path d="M171.3 432.6 V521.2" stroke="#333333" stroke-width="1.3" fill="none"/>
<path d="M52.4 444.3 h1.6" stroke="#333333" stroke-width="0.9"/>
<text x="50.2" y="447.41" font-size="8.7" fill="#111" stroke="#111" stroke-width="0.22" text-anchor="end" font-weight="bold" >0.6</text>
<path d="M52.4 460.8 h1.6" stroke="#333333" stroke-width="0.9"/>
<text x="50.2" y="463.91" font-size="8.7" fill="#111" stroke="#111" stroke-width="0.22" text-anchor="end" font-weight="bold" >0.3</text>
<path d="M52.4 477.3 h1.6" stroke="#333333" stroke-width="0.9"/>
<text x="50.2" y="480.41" font-size="8.7" fill="#111" stroke="#111" stroke-width="0.22" text-anchor="end" font-weight="bold" >0</text>
<path d="M52.4 493.8 h1.6" stroke="#333333" stroke-width="0.9"/>
<text x="50.2" y="496.91" font-size="8.7" fill="#111" stroke="#111" stroke-width="0.22" text-anchor="end" font-weight="bold" >−0.3</text>
<path d="M52.4 510.4 h1.6" stroke="#333333" stroke-width="0.9"/>
<text x="50.2" y="513.51" font-size="8.7" fill="#111" stroke="#111" stroke-width="0.22" text-anchor="end" font-weight="bold" >−0.6</text>
<path d="M52.4 452.55 h1.0" stroke="#333333" stroke-width="0.8"/>
<path d="M52.4 469.05 h1.0" stroke="#333333" stroke-width="0.8"/>
<path d="M52.4 485.55 h1.0" stroke="#333333" stroke-width="0.8"/>
<path d="M52.4 502.1 h1.0" stroke="#333333" stroke-width="0.8"/>
<path d="M56.3 521.2 v-1.6" stroke="#333333" stroke-width="0.9"/>
<text x="56.3" y="529.61" font-size="8.7" fill="#111" stroke="#111" stroke-width="0.22" text-anchor="middle" font-weight="bold" >0</text>
<path d="M89.4 521.2 v-1.6" stroke="#333333" stroke-width="0.9"/>
<text x="89.4" y="529.61" font-size="8.7" fill="#111" stroke="#111" stroke-width="0.22" text-anchor="middle" font-weight="bold" >2</text>
<path d="M121.8 521.2 v-1.6" stroke="#333333" stroke-width="0.9"/>
<text x="121.8" y="529.61" font-size="8.7" fill="#111" stroke="#111" stroke-width="0.22" text-anchor="middle" font-weight="bold" >4</text>
<path d="M154.9 521.2 v-1.6" stroke="#333333" stroke-width="0.9"/>
<text x="154.9" y="529.61" font-size="8.7" fill="#111" stroke="#111" stroke-width="0.22" text-anchor="middle" font-weight="bold" >6</text>
<path d="M72.85 521.2 v-1" stroke="#333333" stroke-width="0.8"/>
<path d="M105.6 521.2 v-1" stroke="#333333" stroke-width="0.8"/>
<path d="M138.35 521.2 v-1" stroke="#333333" stroke-width="0.8"/>
<text x="70.8" y="443.6" font-size="7.3" fill="#1b93b5" stroke="#1b93b5" stroke-width="0.22" text-anchor="middle" font-weight="bold" >EMG1</text>
<text x="113.5" y="443.6" font-size="7.3" fill="#f47562" stroke="#f47562" stroke-width="0.22" text-anchor="middle" font-weight="bold" >EMG2</text>
<text x="154" y="443.6" font-size="7.3" fill="#f7b523" stroke="#f7b523" stroke-width="0.22" text-anchor="middle" font-weight="bold" >EMG3</text>
<text x="112.5" y="541.4" font-size="10.2" fill="#111" stroke="#111" stroke-width="0.22" text-anchor="middle" font-weight="bold" >Time (s)</text>
<text transform="translate(29.4 477.5) rotate(-90)" x="0" y="0" font-size="9.8" fill="#111" stroke="#111" stroke-width="0.22" text-anchor="middle" font-weight="bold"><tspan font-style="italic" font-size="10.8">I</tspan><tspan font-size="7.4" dy="3">SC</tspan><tspan dy="-3"> (mA)</tspan></text>
<path d="M228 358.8 L228.4 328.3 L228.8 327.3 L230.3 326.7 L230.95 324.87 L231.35 318.8 L231.58 307.86 L231.7 303 L231.82 307.86 L232.05 318.8 L232.45 324.87 L233.1 326.7 L235.53 327.3 L235.93 328.3 L236.33 358.8 L236.73 328.3 L237.13 327.3 L238.63 326.7 L239.28 324.87 L239.68 318.8 L239.91 307.86 L240.03 303 L240.15 307.86 L240.38 318.8 L240.78 324.87 L241.43 326.7 L243.86 327.3 L244.26 328.3 L244.66 358.8 L245.06 328.3 L245.46 327.3 L246.96 326.7 L247.61 324.87 L248.01 318.8 L248.24 307.86 L248.36 303 L248.48 307.86 L248.71 318.8 L249.11 324.87 L249.76 326.7 L252.19 327.3 L252.59 328.3 L252.99 358.8 L253.39 328.3 L253.79 327.3 L255.29 326.7 L255.94 324.87 L256.34 318.8 L256.57 307.86 L256.69 303 L256.81 307.86 L257.04 318.8 L257.44 324.87 L258.09 326.7 L260.52 327.3 L260.92 328.3 L261.32 358.8" fill="none" stroke="#f7b523" stroke-width="1.35" stroke-linejoin="round" />
<path d="M272.4 361.3 L272.8 328.3 L273.2 327.3 L273.9 326.7 L274.55 324.15 L274.95 316.28 L275.18 302.1 L275.3 295.8 L275.42 302.1 L275.65 316.28 L276.05 324.15 L276.7 326.7 L278.1 327.3 L278.5 328.3 L278.9 361.3 L279.3 328.3 L279.7 327.3 L280.4 326.7 L281.05 324.15 L281.45 316.28 L281.68 302.1 L281.8 295.8 L281.92 302.1 L282.15 316.28 L282.55 324.15 L283.2 326.7 L284.6 327.3 L285 328.3 L285.4 361.3 L285.8 328.3 L286.2 327.3 L286.9 326.7 L287.55 324.15 L287.95 316.28 L288.18 302.1 L288.3 295.8 L288.42 302.1 L288.65 316.28 L289.05 324.15 L289.7 326.7 L291.1 327.3 L291.5 328.3 L291.9 361.3 L292.3 328.3 L292.7 327.3 L293.4 326.7 L294.05 324.15 L294.45 316.28 L294.68 302.1 L294.8 295.8 L294.92 302.1 L295.15 316.28 L295.55 324.15 L296.2 326.7 L297.6 327.3 L298 328.3 L298.4 361.3" fill="none" stroke="#f47562" stroke-width="1.35" stroke-linejoin="round" />
<path d="M310 361.3 L310.4 328.3 L310.8 327.3 L311.4 326.7 L312.05 324.17 L312.45 316.35 L312.68 302.26 L312.8 296 L312.92 302.26 L313.15 316.35 L313.55 324.17 L314.2 326.7 L315.2 327.3 L315.6 328.3 L316 361.3 L316.4 328.3 L316.8 327.3 L317.4 326.7 L318.05 324.17 L318.45 316.35 L318.68 302.26 L318.8 296 L318.92 302.26 L319.15 316.35 L319.55 324.17 L320.2 326.7 L321.2 327.3 L321.6 328.3 L322 361.3 L322.4 328.3 L322.8 327.3 L323.4 326.7 L324.05 324.17 L324.45 316.35 L324.68 302.26 L324.8 296 L324.92 302.26 L325.15 316.35 L325.55 324.17 L326.2 326.7 L327.2 327.3 L327.6 328.3 L328 361.3 L328.4 328.3 L328.8 327.3 L329.4 326.7 L330.05 324.17 L330.45 316.35 L330.68 302.26 L330.8 296 L330.92 302.26 L331.15 316.35 L331.55 324.17 L332.2 326.7 L333.2 327.3 L333.6 328.3 L334 361.3" fill="none" stroke="#1b93b5" stroke-width="1.35" stroke-linejoin="round" />
<path d="M221.8 282.9 H340.5" stroke="#333333" stroke-width="1.3" fill="none"/>
<path d="M221.8 371 H340.5" stroke="#333333" stroke-width="1.3" fill="none"/>
<path d="M221.8 282.9 V371" stroke="#333333" stroke-width="1.3" fill="none"/>
<path d="M340.5 282.9 V371" stroke="#333333" stroke-width="1.3" fill="none"/>
<path d="M221.8 291.8 h1.6" stroke="#333333" stroke-width="0.9"/>
<text x="219.6" y="294.91" font-size="8.7" fill="#111" stroke="#111" stroke-width="0.22" text-anchor="end" font-weight="bold" >2</text>
<path d="M221.8 309.5 h1.6" stroke="#333333" stroke-width="0.9"/>
<text x="219.6" y="312.61" font-size="8.7" fill="#111" stroke="#111" stroke-width="0.22" text-anchor="end" font-weight="bold" >1</text>
<path d="M221.8 327.2 h1.6" stroke="#333333" stroke-width="0.9"/>
<text x="219.6" y="330.31" font-size="8.7" fill="#111" stroke="#111" stroke-width="0.22" text-anchor="end" font-weight="bold" >0</text>
<path d="M221.8 344.6 h1.6" stroke="#333333" stroke-width="0.9"/>
<text x="219.6" y="347.71" font-size="8.7" fill="#111" stroke="#111" stroke-width="0.22" text-anchor="end" font-weight="bold" >−1</text>
<path d="M221.8 362.1 h1.6" stroke="#333333" stroke-width="0.9"/>
<text x="219.6" y="365.21" font-size="8.7" fill="#111" stroke="#111" stroke-width="0.22" text-anchor="end" font-weight="bold" >−2</text>
<path d="M221.8 300.65 h1.0" stroke="#333333" stroke-width="0.8"/>
<path d="M221.8 318.35 h1.0" stroke="#333333" stroke-width="0.8"/>
<path d="M221.8 335.9 h1.0" stroke="#333333" stroke-width="0.8"/>
<path d="M221.8 353.35 h1.0" stroke="#333333" stroke-width="0.8"/>
<path d="M228 371 v-1.6" stroke="#333333" stroke-width="0.9"/>
<text x="228" y="379.91" font-size="8.7" fill="#111" stroke="#111" stroke-width="0.22" text-anchor="middle" font-weight="bold" >0</text>
<path d="M253.2 371 v-1.6" stroke="#333333" stroke-width="0.9"/>
<text x="253.2" y="379.91" font-size="8.7" fill="#111" stroke="#111" stroke-width="0.22" text-anchor="middle" font-weight="bold" >2</text>
<path d="M278.7 371 v-1.6" stroke="#333333" stroke-width="0.9"/>
<text x="278.7" y="379.91" font-size="8.7" fill="#111" stroke="#111" stroke-width="0.22" text-anchor="middle" font-weight="bold" >4</text>
<path d="M303.8 371 v-1.6" stroke="#333333" stroke-width="0.9"/>
<text x="303.8" y="379.91" font-size="8.7" fill="#111" stroke="#111" stroke-width="0.22" text-anchor="middle" font-weight="bold" >6</text>
<path d="M329.3 371 v-1.6" stroke="#333333" stroke-width="0.9"/>
<text x="329.3" y="379.91" font-size="8.7" fill="#111" stroke="#111" stroke-width="0.22" text-anchor="middle" font-weight="bold" >8</text>
<path d="M240.6 371 v-1" stroke="#333333" stroke-width="0.8"/>
<path d="M265.95 371 v-1" stroke="#333333" stroke-width="0.8"/>
<path d="M291.25 371 v-1" stroke="#333333" stroke-width="0.8"/>
<path d="M316.55 371 v-1" stroke="#333333" stroke-width="0.8"/>
<text x="243.9" y="292.2" font-size="7.5" fill="#f7b523" stroke="#f7b523" stroke-width="0.22" text-anchor="middle" font-weight="bold" >5 m/s²</text>
<text x="285.7" y="292.2" font-size="7.5" fill="#f47562" stroke="#f47562" stroke-width="0.22" text-anchor="middle" font-weight="bold" >8 m/s²</text>
<text x="321.9" y="292.2" font-size="7.5" fill="#1b93b5" stroke="#1b93b5" stroke-width="0.22" text-anchor="middle" font-weight="bold" >10 m/s²</text>
<text x="281.2" y="391.6" font-size="10.2" fill="#111" stroke="#111" stroke-width="0.22" text-anchor="middle" font-weight="bold" >Time (s)</text>
<text transform="translate(202.4 326.4) rotate(-90)" x="0" y="0" font-size="9.8" fill="#111" stroke="#111" stroke-width="0.22" text-anchor="middle" font-weight="bold"><tspan font-style="italic" font-size="10.6">V</tspan><tspan font-size="7.4" dy="3">OC</tspan><tspan dy="-3" font-size="8.4"> (V)</tspan></text>
<path d="M224.3 506.6 L226 482.8 L226.4 481.8 L227.7 481.2 L228.35 478.52 L228.75 470.32 L228.98 455.56 L229.1 449 L229.22 455.56 L229.45 470.32 L229.85 478.52 L230.5 481.2 L231.05 481.8 L231.45 482.8 L233.15 506.6 L234.85 482.8 L235.25 481.8 L236.55 481.2 L237.2 478.52 L237.6 470.32 L237.83 455.56 L237.95 449 L238.07 455.56 L238.3 470.32 L238.7 478.52 L239.35 481.2 L239.9 481.8 L240.3 482.8 L242 506.6 L243.7 482.8 L244.1 481.8 L245.4 481.2 L246.05 478.52 L246.45 470.32 L246.68 455.56 L246.8 449 L246.92 455.56 L247.15 470.32 L247.55 478.52 L248.2 481.2 L248.75 481.8 L249.15 482.8 L250.85 506.6 L252.55 482.8 L252.95 481.8 L254.25 481.2 L254.9 478.52 L255.3 470.32 L255.53 455.56 L255.65 449 L255.77 455.56 L256 470.32 L256.4 478.52 L257.05 481.2 L257.6 481.8 L258 482.8 L259.7 506.6" fill="none" stroke="#1b93b5" stroke-width="1.35" stroke-linejoin="round" />
<path d="M269 511.7 L270 482.8 L270.4 481.8 L271.3 481.2 L271.95 478.23 L272.35 469.31 L272.58 453.24 L272.7 446.1 L272.82 453.24 L273.05 469.31 L273.45 478.23 L274.1 481.2 L274.8 481.8 L275.2 482.8 L276.2 511.7 L277.2 482.8 L277.6 481.8 L278.5 481.2 L279.15 478.23 L279.55 469.31 L279.78 453.24 L279.9 446.1 L280.02 453.24 L280.25 469.31 L280.65 478.23 L281.3 481.2 L282 481.8 L282.4 482.8 L283.4 511.7 L284.4 482.8 L284.8 481.8 L285.7 481.2 L286.35 478.23 L286.75 469.31 L286.98 453.24 L287.1 446.1 L287.22 453.24 L287.45 469.31 L287.85 478.23 L288.5 481.2 L289.2 481.8 L289.6 482.8 L290.6 511.7 L291.6 482.8 L292 481.8 L292.9 481.2 L293.55 478.23 L293.95 469.31 L294.18 453.24 L294.3 446.1 L294.42 453.24 L294.65 469.31 L295.05 478.23 L295.7 481.2 L296.4 481.8 L296.8 482.8 L297.8 511.7" fill="none" stroke="#f47562" stroke-width="1.35" stroke-linejoin="round" />
<path d="M305.8 511.7 L306.7 482.8 L307.1 481.8 L308.1 481.2 L308.75 478.23 L309.15 469.31 L309.38 453.24 L309.5 446.1 L309.62 453.24 L309.85 469.31 L310.25 478.23 L310.9 481.2 L311 481.8 L311.4 482.8 L312.3 511.7 L313.2 482.8 L313.6 481.8 L314.6 481.2 L315.25 478.23 L315.65 469.31 L315.88 453.24 L316 446.1 L316.12 453.24 L316.35 469.31 L316.75 478.23 L317.4 481.2 L317.5 481.8 L317.9 482.8 L318.8 511.7 L319.7 482.8 L320.1 481.8 L321.1 481.2 L321.75 478.23 L322.15 469.31 L322.38 453.24 L322.5 446.1 L322.62 453.24 L322.85 469.31 L323.25 478.23 L323.9 481.2 L324 481.8 L324.4 482.8 L325.3 511.7 L326.2 482.8 L326.6 481.8 L327.6 481.2 L328.25 478.23 L328.65 469.31 L328.88 453.24 L329 446.1 L329.12 453.24 L329.35 469.31 L329.75 478.23 L330.4 481.2 L330.5 481.8 L330.9 482.8 L331.8 511.7" fill="none" stroke="#f7b523" stroke-width="1.35" stroke-linejoin="round" />
<path d="M221 433.4 H340" stroke="#333333" stroke-width="1.3" fill="none"/>
<path d="M221 521.7 H340" stroke="#333333" stroke-width="1.3" fill="none"/>
<path d="M221 433.4 V521.7" stroke="#333333" stroke-width="1.3" fill="none"/>
<path d="M340 433.4 V521.7" stroke="#333333" stroke-width="1.3" fill="none"/>
<path d="M221 445 h1.6" stroke="#333333" stroke-width="0.9"/>
<text x="218.8" y="448.29" font-size="9.2" fill="#111" stroke="#111" stroke-width="0.22" text-anchor="end" font-weight="bold" >0.28</text>
<path d="M221 463.5 h1.6" stroke="#333333" stroke-width="0.9"/>
<text x="218.8" y="466.79" font-size="9.2" fill="#111" stroke="#111" stroke-width="0.22" text-anchor="end" font-weight="bold" >0.14</text>
<path d="M221 481.8 h1.6" stroke="#333333" stroke-width="0.9"/>
<text x="218.8" y="485.09" font-size="9.2" fill="#111" stroke="#111" stroke-width="0.22" text-anchor="end" font-weight="bold" >0</text>
<path d="M221 500.3 h1.6" stroke="#333333" stroke-width="0.9"/>
<text x="218.8" y="503.59" font-size="9.2" fill="#111" stroke="#111" stroke-width="0.22" text-anchor="end" font-weight="bold" >−0.14</text>
<path d="M221 518.8 h1.6" stroke="#333333" stroke-width="0.9"/>
<text x="218.8" y="522.09" font-size="9.2" fill="#111" stroke="#111" stroke-width="0.22" text-anchor="end" font-weight="bold" >−0.28</text>
<path d="M221 454.25 h1.0" stroke="#333333" stroke-width="0.8"/>
<path d="M221 472.65 h1.0" stroke="#333333" stroke-width="0.8"/>
<path d="M221 491.05 h1.0" stroke="#333333" stroke-width="0.8"/>
<path d="M221 509.55 h1.0" stroke="#333333" stroke-width="0.8"/>
<path d="M224.7 521.7 v-1.6" stroke="#333333" stroke-width="0.9"/>
<text x="224.7" y="530.91" font-size="8.7" fill="#111" stroke="#111" stroke-width="0.22" text-anchor="middle" font-weight="bold" >0</text>
<path d="M251.6 521.7 v-1.6" stroke="#333333" stroke-width="0.9"/>
<text x="251.6" y="530.91" font-size="8.7" fill="#111" stroke="#111" stroke-width="0.22" text-anchor="middle" font-weight="bold" >2</text>
<path d="M278.7 521.7 v-1.6" stroke="#333333" stroke-width="0.9"/>
<text x="278.7" y="530.91" font-size="8.7" fill="#111" stroke="#111" stroke-width="0.22" text-anchor="middle" font-weight="bold" >4</text>
<path d="M305.9 521.7 v-1.6" stroke="#333333" stroke-width="0.9"/>
<text x="305.9" y="530.91" font-size="8.7" fill="#111" stroke="#111" stroke-width="0.22" text-anchor="middle" font-weight="bold" >6</text>
<path d="M332.9 521.7 v-1.6" stroke="#333333" stroke-width="0.9"/>
<text x="332.9" y="530.91" font-size="8.7" fill="#111" stroke="#111" stroke-width="0.22" text-anchor="middle" font-weight="bold" >8</text>
<path d="M238.15 521.7 v-1" stroke="#333333" stroke-width="0.8"/>
<path d="M265.15 521.7 v-1" stroke="#333333" stroke-width="0.8"/>
<path d="M292.3 521.7 v-1" stroke="#333333" stroke-width="0.8"/>
<path d="M319.4 521.7 v-1" stroke="#333333" stroke-width="0.8"/>
<text x="242.8" y="443.9" font-size="7.5" fill="#1b93b5" stroke="#1b93b5" stroke-width="0.22" text-anchor="middle" font-weight="bold" >5 m/s²</text>
<text x="284.2" y="443.9" font-size="7.5" fill="#f47562" stroke="#f47562" stroke-width="0.22" text-anchor="middle" font-weight="bold" >8 m/s²</text>
<text x="321.5" y="443.9" font-size="7.5" fill="#f7b523" stroke="#f7b523" stroke-width="0.22" text-anchor="middle" font-weight="bold" >10 m/s²</text>
<text x="280.6" y="541.6" font-size="10.2" fill="#111" stroke="#111" stroke-width="0.22" text-anchor="middle" font-weight="bold" >Time (s)</text>
<text transform="translate(193.6 477.2) rotate(-90)" x="0" y="0" font-size="9.8" fill="#111" stroke="#111" stroke-width="0.22" text-anchor="middle" font-weight="bold"><tspan font-style="italic" font-size="10.8">I</tspan><tspan font-size="7.4" dy="3">SC</tspan><tspan dy="-3"> (mA)</tspan></text>
<path d="M381.3 361 L381.69 360.65 L382.09 360.29 L382.48 359.93 L382.87 359.56 L383.27 359.18 L383.66 358.8 L384.05 358.41 L384.45 358.01 L384.84 357.62 L385.23 357.22 L385.63 356.82 L386.02 356.43 L386.41 356.03 L386.81 355.64 L387.2 355.24 L387.59 354.86 L387.99 354.48 L388.38 354.1 L388.77 353.73 L389.17 353.37 L389.56 353.02 L389.95 352.68 L390.35 352.35 L390.74 352.04 L391.13 351.73 L391.53 351.44 L391.92 351.16 L392.31 350.89 L392.71 350.63 L393.1 350.37 L394.08 349.75 L395.07 349.16 L396.05 348.59 L397.03 348.05 L398.02 347.53 L399 347.01 L399.98 346.5 L400.97 345.99 L401.95 345.47 L402.93 344.96 L403.92 344.48 L404.9 344.03 L405.88 343.64 L406.87 343.3 L407.85 343.01 L408.83 342.75 L409.82 342.5 L410.8 342.28 L411.78 342.08 L412.77 341.9 L413.75 341.73 L414.73 341.58 L415.72 341.44 L416.7 341.31 L417.68 341.19 L418.67 341.07 L419.65 340.96 L420.63 340.85 L421.62 340.75 L422.6 340.64 L423.58 340.54 L424.57 340.43 L425.55 340.32 L426.53 340.21 L427.52 340.09 L428.5 339.96 L429.48 339.84 L430.47 339.7 L431.45 339.57 L432.43 339.44 L433.42 339.3 L434.4 339.17 L435.38 339.04 L436.37 338.91 L437.35 338.78 L438.33 338.65 L439.32 338.53 L440.3 338.41 L441.28 338.3 L442.27 338.19 L443.25 338.08 L444.23 337.97 L445.22 337.86 L446.2 337.75 L447.18 337.65 L448.17 337.54 L449.15 337.44 L450.13 337.34 L451.12 337.24 L452.1 337.14 L453.08 337.05 L454.07 336.95 L455.05 336.86 L456.03 336.78 L457.02 336.69 L458 336.61 L458.98 336.53 L459.97 336.46 L460.95 336.38 L461.93 336.31 L462.92 336.25 L463.9 336.18 L464.88 336.12 L465.87 336.06 L466.85 336 L467.83 335.94 L468.82 335.88 L469.8 335.82 L470.78 335.77 L471.77 335.71 L472.75 335.66 L473.73 335.6 L474.72 335.55 L475.7 335.49 L476.68 335.44 L477.67 335.39 L478.65 335.33 L479.63 335.28 L480.62 335.22 L481.6 335.16 L482.58 335.11 L483.57 335.05 L484.55 335 L485.53 334.95 L486.52 334.89 L487.5 334.84 L488.48 334.78 L489.47 334.73 L490.45 334.68 L491.43 334.62 L492.42 334.57 L493.4 334.52 L494.38 334.47 L495.37 334.42 L496.35 334.37 L497.33 334.31 L498.32 334.26 L499.3 334.21" fill="none" stroke="#f7b523" stroke-width="1.35" stroke-linejoin="round" />
<path d="M381.3 361 L381.69 359.47 L382.09 358.17 L382.48 357.16 L382.87 356.19 L383.27 355.27 L383.66 354.4 L384.05 353.57 L384.45 352.77 L384.84 352.02 L385.23 351.29 L385.63 350.61 L386.02 349.95 L386.41 349.32 L386.81 348.72 L387.2 348.14 L387.59 347.59 L387.99 347.06 L388.38 346.54 L388.77 346.04 L389.17 345.56 L389.56 345.09 L389.95 344.63 L390.35 344.18 L390.74 343.75 L391.13 343.32 L391.53 342.91 L391.92 342.51 L392.31 342.13 L392.71 341.75 L393.1 341.38 L394.08 340.52 L395.07 339.73 L396.05 339 L397.03 338.34 L398.02 337.78 L399 337.3 L399.98 336.81 L400.97 336.28 L401.95 335.73 L402.93 335.17 L403.92 334.61 L404.9 334.05 L405.88 333.5 L406.87 332.95 L407.85 332.43 L408.83 331.92 L409.82 331.4 L410.8 330.9 L411.78 330.41 L412.77 329.96 L413.75 329.53 L414.73 329.12 L415.72 328.73 L416.7 328.34 L417.68 327.97 L418.67 327.61 L419.65 327.25 L420.63 326.91 L421.62 326.57 L422.6 326.24 L423.58 325.92 L424.57 325.61 L425.55 325.3 L426.53 325.01 L427.52 324.72 L428.5 324.43 L429.48 324.15 L430.47 323.88 L431.45 323.61 L432.43 323.35 L433.42 323.09 L434.4 322.84 L435.38 322.6 L436.37 322.36 L437.35 322.13 L438.33 321.91 L439.32 321.69 L440.3 321.48 L441.28 321.27 L442.27 321.07 L443.25 320.87 L444.23 320.68 L445.22 320.49 L446.2 320.3 L447.18 320.12 L448.17 319.94 L449.15 319.76 L450.13 319.58 L451.12 319.41 L452.1 319.25 L453.08 319.09 L454.07 318.93 L455.05 318.77 L456.03 318.62 L457.02 318.47 L458 318.33 L458.98 318.19 L459.97 318.05 L460.95 317.91 L461.93 317.78 L462.92 317.66 L463.9 317.53 L464.88 317.41 L465.87 317.29 L466.85 317.17 L467.83 317.06 L468.82 316.95 L469.8 316.84 L470.78 316.73 L471.77 316.62 L472.75 316.51 L473.73 316.41 L474.72 316.31 L475.7 316.21 L476.68 316.1 L477.67 316 L478.65 315.91 L479.63 315.81 L480.62 315.71 L481.6 315.61 L482.58 315.51 L483.57 315.42 L484.55 315.32 L485.53 315.23 L486.52 315.14 L487.5 315.05 L488.48 314.95 L489.47 314.87 L490.45 314.78 L491.43 314.69 L492.42 314.6 L493.4 314.52 L494.38 314.44 L495.37 314.35 L496.35 314.27 L497.33 314.19 L498.32 314.11 L499.3 314.04" fill="none" stroke="#f47562" stroke-width="1.35" stroke-linejoin="round" />
<path d="M381.3 361 L381.69 353.15 L382.09 347.48 L382.48 344.6 L382.87 342.29 L383.27 340.41 L383.66 338.85 L384.05 337.49 L384.45 336.21 L384.84 334.91 L385.23 333.58 L385.63 332.31 L386.02 331.1 L386.41 329.94 L386.81 328.84 L387.2 327.8 L387.59 326.82 L387.99 325.91 L388.38 325.06 L388.77 324.28 L389.17 323.57 L389.56 322.9 L389.95 322.26 L390.35 321.65 L390.74 321.07 L391.13 320.51 L391.53 319.98 L391.92 319.47 L392.31 318.98 L392.71 318.51 L393.1 318.06 L394.08 316.97 L395.07 315.93 L396.05 314.96 L397.03 314.05 L398.02 313.21 L399 312.43 L399.98 311.73 L400.97 311.08 L401.95 310.48 L402.93 309.91 L403.92 309.38 L404.9 308.87 L405.88 308.37 L406.87 307.89 L407.85 307.41 L408.83 306.92 L409.82 306.44 L410.8 305.98 L411.78 305.53 L412.77 305.13 L413.75 304.76 L414.73 304.42 L415.72 304.09 L416.7 303.77 L417.68 303.46 L418.67 303.15 L419.65 302.86 L420.63 302.72 L421.62 302.3 L422.6 302.13 L423.58 301.78 L424.57 301.54 L425.55 301.61 L426.53 301.44 L427.52 300.85 L428.5 300.97 L429.48 300.82 L430.47 300.28 L431.45 300.39 L432.43 300.06 L433.42 300.1 L434.4 299.89 L435.38 300.01 L436.37 299.65 L437.35 299.42 L438.33 299.49 L439.32 299.29 L440.3 299.25 L441.28 299.47 L442.27 299.06 L443.25 299.07 L444.23 299.15 L445.22 299.22 L446.2 298.75 L447.18 298.89 L448.17 298.71 L449.15 298.58 L450.13 298.61 L451.12 298.46 L452.1 298.67 L453.08 298.43 L454.07 298.57 L455.05 298.28 L456.03 298.28 L457.02 298.63 L458 298.58 L458.98 298.51 L459.97 298.11 L460.95 298.35 L461.93 298.23 L462.92 298.37 L463.9 298.24 L464.88 298.28 L465.87 298.27 L466.85 298.14 L467.83 298.12 L468.82 297.94 L469.8 298.03 L470.78 297.89 L471.77 297.91 L472.75 297.83 L473.73 297.97 L474.72 298.21 L475.7 297.85 L476.68 297.79 L477.67 297.81 L478.65 297.96 L479.63 297.88 L480.62 298.12 L481.6 297.81 L482.58 297.93 L483.57 298.06 L484.55 298.16 L485.53 297.76 L486.52 297.69 L487.5 298.12 L488.48 297.76 L489.47 297.95 L490.45 298.07 L491.43 298 L492.42 297.76 L493.4 297.7 L494.38 298.11 L495.37 297.82 L496.35 298.1 L497.33 297.76 L498.32 297.95 L499.3 297.68" fill="none" stroke="#176f84" stroke-width="1.35" stroke-linejoin="round" />
<path d="M381.5 284.4 H499.9" stroke="#333333" stroke-width="1.3" fill="none"/>
<path d="M381.5 371.9 H499.9" stroke="#333333" stroke-width="1.3" fill="none"/>
<path d="M381.5 284.4 V371.9" stroke="#333333" stroke-width="1.3" fill="none"/>
<path d="M499.9 284.4 V371.9" stroke="#333333" stroke-width="1.3" fill="none"/>
<path d="M381.5 290 h1.6" stroke="#333333" stroke-width="0.9"/>
<text x="379.3" y="293.11" font-size="8.7" fill="#111" stroke="#111" stroke-width="0.22" text-anchor="end" font-weight="bold" >6.0</text>
<path d="M381.5 307.6 h1.6" stroke="#333333" stroke-width="0.9"/>
<text x="379.3" y="310.71" font-size="8.7" fill="#111" stroke="#111" stroke-width="0.22" text-anchor="end" font-weight="bold" >4.5</text>
<path d="M381.5 325.1 h1.6" stroke="#333333" stroke-width="0.9"/>
<text x="379.3" y="328.21" font-size="8.7" fill="#111" stroke="#111" stroke-width="0.22" text-anchor="end" font-weight="bold" >3.0</text>
<path d="M381.5 342.8 h1.6" stroke="#333333" stroke-width="0.9"/>
<text x="379.3" y="345.91" font-size="8.7" fill="#111" stroke="#111" stroke-width="0.22" text-anchor="end" font-weight="bold" >1.5</text>
<path d="M381.5 360.5 h1.6" stroke="#333333" stroke-width="0.9"/>
<text x="379.3" y="363.61" font-size="8.7" fill="#111" stroke="#111" stroke-width="0.22" text-anchor="end" font-weight="bold" >0.0</text>
<path d="M381.5 298.8 h1.0" stroke="#333333" stroke-width="0.8"/>
<path d="M381.5 316.35 h1.0" stroke="#333333" stroke-width="0.8"/>
<path d="M381.5 333.95 h1.0" stroke="#333333" stroke-width="0.8"/>
<path d="M381.5 351.65 h1.0" stroke="#333333" stroke-width="0.8"/>
<path d="M381 371.9 v-1.6" stroke="#333333" stroke-width="0.9"/>
<text x="381" y="380.61" font-size="8.7" fill="#111" stroke="#111" stroke-width="0.22" text-anchor="middle" font-weight="bold" >0</text>
<path d="M410.8 371.9 v-1.6" stroke="#333333" stroke-width="0.9"/>
<text x="410.8" y="380.61" font-size="8.7" fill="#111" stroke="#111" stroke-width="0.22" text-anchor="middle" font-weight="bold" >15</text>
<path d="M440.3 371.9 v-1.6" stroke="#333333" stroke-width="0.9"/>
<text x="440.3" y="380.61" font-size="8.7" fill="#111" stroke="#111" stroke-width="0.22" text-anchor="middle" font-weight="bold" >30</text>
<path d="M470.2 371.9 v-1.6" stroke="#333333" stroke-width="0.9"/>
<text x="470.2" y="380.61" font-size="8.7" fill="#111" stroke="#111" stroke-width="0.22" text-anchor="middle" font-weight="bold" >45</text>
<path d="M499.6 371.9 v-1.6" stroke="#333333" stroke-width="0.9"/>
<text x="499.6" y="380.61" font-size="8.7" fill="#111" stroke="#111" stroke-width="0.22" text-anchor="middle" font-weight="bold" >60</text>
<path d="M395.9 371.9 v-1" stroke="#333333" stroke-width="0.8"/>
<path d="M425.55 371.9 v-1" stroke="#333333" stroke-width="0.8"/>
<path d="M455.25 371.9 v-1" stroke="#333333" stroke-width="0.8"/>
<path d="M484.9 371.9 v-1" stroke="#333333" stroke-width="0.8"/>
<path d="M453.9 344.2 H469.6" stroke="#176f84" stroke-width="1.4"/>
<text x="473.4" y="346.92" font-size="7.6" fill="#111" stroke="#111" stroke-width="0.22" text-anchor="start" font-weight="bold" >22 µF</text>
<path d="M453.9 353.9 H469.6" stroke="#f47562" stroke-width="1.4"/>
<text x="473.4" y="356.62" font-size="7.6" fill="#111" stroke="#111" stroke-width="0.22" text-anchor="start" font-weight="bold" >100 µF</text>
<path d="M453.9 363.4 H469.6" stroke="#f7b523" stroke-width="1.4"/>
<text x="473.4" y="366.12" font-size="7.6" fill="#111" stroke="#111" stroke-width="0.22" text-anchor="start" font-weight="bold" >220 µF</text>
<text x="440.7" y="391.6" font-size="10.2" fill="#111" stroke="#111" stroke-width="0.22" text-anchor="middle" font-weight="bold" >Time (s)</text>
<text transform="translate(363.2 325.8) rotate(-90)" x="0" y="0" font-size="9.2" fill="#111" stroke="#111" stroke-width="0.22" text-anchor="middle" font-weight="bold">Voltage (V)</text>
<path d="M389.7 484.3 L392.5 470.1 L394.6 456.8 L397.1 450.5 L399.5 446.4 L401.5 444.3 L403.6 443.1 L406.1 443 L408.5 442.6 L411 443.8 L435 460.1 L458.8 471.7 L482.4 479.1" fill="none" stroke="#f47562" stroke-width="1.1" stroke-linejoin="round" />
<circle cx="389.7" cy="484.3" r="1.5" fill="#fff" stroke="#f47562" stroke-width="0.9"/>
<circle cx="392.5" cy="470.1" r="1.5" fill="#fff" stroke="#f47562" stroke-width="0.9"/>
<circle cx="394.6" cy="456.8" r="1.5" fill="#fff" stroke="#f47562" stroke-width="0.9"/>
<circle cx="397.1" cy="450.5" r="1.5" fill="#fff" stroke="#f47562" stroke-width="0.9"/>
<circle cx="399.5" cy="446.4" r="1.5" fill="#fff" stroke="#f47562" stroke-width="0.9"/>
<circle cx="401.5" cy="444.3" r="1.5" fill="#fff" stroke="#f47562" stroke-width="0.9"/>
<circle cx="403.6" cy="443.1" r="1.5" fill="#fff" stroke="#f47562" stroke-width="0.9"/>
<circle cx="406.1" cy="443" r="1.5" fill="#fff" stroke="#f47562" stroke-width="0.9"/>
<circle cx="408.5" cy="442.6" r="1.5" fill="#fff" stroke="#f47562" stroke-width="0.9"/>
<circle cx="411" cy="443.8" r="1.5" fill="#fff" stroke="#f47562" stroke-width="0.9"/>
<circle cx="435" cy="460.1" r="1.5" fill="#fff" stroke="#f47562" stroke-width="0.9"/>
<circle cx="458.8" cy="471.7" r="1.5" fill="#fff" stroke="#f47562" stroke-width="0.9"/>
<circle cx="482.4" cy="479.1" r="1.5" fill="#fff" stroke="#f47562" stroke-width="0.9"/>
<path d="M389.7 510.8 L391.8 503.9 L394.3 497.9 L396.7 493 L399.2 488.9 L401.5 485.1 L403.6 482.7 L405.7 480.7 L407.7 478.6 L409.3 476.5 L411.3 475.3 L435 463.8 L458.8 457.8 L482.4 453.9" fill="none" stroke="#1b93b5" stroke-width="1.2" stroke-linejoin="round" />
<circle cx="389.7" cy="510.8" r="1.6" fill="#52b8d4" stroke="#1b93b5" stroke-width="0.9"/>
<circle cx="391.8" cy="503.9" r="1.6" fill="#52b8d4" stroke="#1b93b5" stroke-width="0.9"/>
<circle cx="394.3" cy="497.9" r="1.6" fill="#52b8d4" stroke="#1b93b5" stroke-width="0.9"/>
<circle cx="396.7" cy="493" r="1.6" fill="#52b8d4" stroke="#1b93b5" stroke-width="0.9"/>
<circle cx="399.2" cy="488.9" r="1.6" fill="#52b8d4" stroke="#1b93b5" stroke-width="0.9"/>
<circle cx="401.5" cy="485.1" r="1.6" fill="#52b8d4" stroke="#1b93b5" stroke-width="0.9"/>
<circle cx="403.6" cy="482.7" r="1.6" fill="#52b8d4" stroke="#1b93b5" stroke-width="0.9"/>
<circle cx="405.7" cy="480.7" r="1.6" fill="#52b8d4" stroke="#1b93b5" stroke-width="0.9"/>
<circle cx="407.7" cy="478.6" r="1.6" fill="#52b8d4" stroke="#1b93b5" stroke-width="0.9"/>
<circle cx="409.3" cy="476.5" r="1.6" fill="#52b8d4" stroke="#1b93b5" stroke-width="0.9"/>
<circle cx="411.3" cy="475.3" r="1.6" fill="#52b8d4" stroke="#1b93b5" stroke-width="0.9"/>
<circle cx="435" cy="463.8" r="1.6" fill="#52b8d4" stroke="#1b93b5" stroke-width="0.9"/>
<circle cx="458.8" cy="457.8" r="1.6" fill="#52b8d4" stroke="#1b93b5" stroke-width="0.9"/>
<circle cx="482.4" cy="453.9" r="1.6" fill="#52b8d4" stroke="#1b93b5" stroke-width="0.9"/>
<path d="M375.4 432.3 H494.4" stroke="#333333" stroke-width="1.3"/>
<path d="M375.4 520.2 H494.4" stroke="#333333" stroke-width="1.3"/>
<path d="M375.4 432.3 V520.2" stroke="#1b93b5" stroke-width="1.3"/>
<path d="M494.4 432.3 V520.2" stroke="#f47562" stroke-width="1.3"/>
<path d="M375.4 437.1 h1.6" stroke="#1b93b5" stroke-width="0.9"/>
<text x="373.2" y="440.21" font-size="8.7" fill="#1b93b5" stroke="#1b93b5" stroke-width="0.22" text-anchor="end" font-weight="bold" >4</text>
<path d="M375.4 458.2 h1.6" stroke="#1b93b5" stroke-width="0.9"/>
<text x="373.2" y="461.31" font-size="8.7" fill="#1b93b5" stroke="#1b93b5" stroke-width="0.22" text-anchor="end" font-weight="bold" >3</text>
<path d="M375.4 479.2 h1.6" stroke="#1b93b5" stroke-width="0.9"/>
<text x="373.2" y="482.31" font-size="8.7" fill="#1b93b5" stroke="#1b93b5" stroke-width="0.22" text-anchor="end" font-weight="bold" >2</text>
<path d="M375.4 500 h1.6" stroke="#1b93b5" stroke-width="0.9"/>
<text x="373.2" y="503.11" font-size="8.7" fill="#1b93b5" stroke="#1b93b5" stroke-width="0.22" text-anchor="end" font-weight="bold" >1</text>
<path d="M375.4 520.5 h1.6" stroke="#1b93b5" stroke-width="0.9"/>
<text x="373.2" y="523.61" font-size="8.7" fill="#1b93b5" stroke="#1b93b5" stroke-width="0.22" text-anchor="end" font-weight="bold" >0</text>
<path d="M375.4 447.65 h1.0" stroke="#1b93b5" stroke-width="0.8"/>
<path d="M375.4 468.7 h1.0" stroke="#1b93b5" stroke-width="0.8"/>
<path d="M375.4 489.6 h1.0" stroke="#1b93b5" stroke-width="0.8"/>
<path d="M375.4 510.25 h1.0" stroke="#1b93b5" stroke-width="0.8"/>
<path d="M494.4 440 h-1.6" stroke="#f47562" stroke-width="0.9"/>
<text x="497" y="443.11" font-size="8.7" fill="#f47562" stroke="#f47562" stroke-width="0.22" text-anchor="start" font-weight="bold" >500</text>
<path d="M494.4 456.1 h-1.6" stroke="#f47562" stroke-width="0.9"/>
<text x="497" y="459.21" font-size="8.7" fill="#f47562" stroke="#f47562" stroke-width="0.22" text-anchor="start" font-weight="bold" >400</text>
<path d="M494.4 472.2 h-1.6" stroke="#f47562" stroke-width="0.9"/>
<text x="497" y="475.31" font-size="8.7" fill="#f47562" stroke="#f47562" stroke-width="0.22" text-anchor="start" font-weight="bold" >300</text>
<path d="M494.4 488.2 h-1.6" stroke="#f47562" stroke-width="0.9"/>
<text x="497" y="491.31" font-size="8.7" fill="#f47562" stroke="#f47562" stroke-width="0.22" text-anchor="start" font-weight="bold" >200</text>
<path d="M494.4 504.2 h-1.6" stroke="#f47562" stroke-width="0.9"/>
<text x="497" y="507.31" font-size="8.7" fill="#f47562" stroke="#f47562" stroke-width="0.22" text-anchor="start" font-weight="bold" >100</text>
<path d="M494.4 520.3 h-1.6" stroke="#f47562" stroke-width="0.9"/>
<text x="497" y="523.41" font-size="8.7" fill="#f47562" stroke="#f47562" stroke-width="0.22" text-anchor="start" font-weight="bold" >0</text>
<path d="M494.4 448.05 h-1.0" stroke="#f47562" stroke-width="0.8"/>
<path d="M494.4 464.15 h-1.0" stroke="#f47562" stroke-width="0.8"/>
<path d="M494.4 480.2 h-1.0" stroke="#f47562" stroke-width="0.8"/>
<path d="M494.4 496.2 h-1.0" stroke="#f47562" stroke-width="0.8"/>
<path d="M494.4 512.25 h-1.0" stroke="#f47562" stroke-width="0.8"/>
<path d="M387.5 520.2 v-1.6" stroke="#333333" stroke-width="0.9"/>
<text x="387.5" y="529.31" font-size="8.7" fill="#111" stroke="#111" stroke-width="0.22" text-anchor="middle" font-weight="bold" >0.00</text>
<path d="M411.2 520.2 v-1.6" stroke="#333333" stroke-width="0.9"/>
<text x="411.2" y="529.31" font-size="8.7" fill="#111" stroke="#111" stroke-width="0.22" text-anchor="middle" font-weight="bold" >0.01</text>
<path d="M435 520.2 v-1.6" stroke="#333333" stroke-width="0.9"/>
<text x="435" y="529.31" font-size="8.7" fill="#111" stroke="#111" stroke-width="0.22" text-anchor="middle" font-weight="bold" >0.02</text>
<path d="M458.9 520.2 v-1.6" stroke="#333333" stroke-width="0.9"/>
<text x="458.9" y="529.31" font-size="8.7" fill="#111" stroke="#111" stroke-width="0.22" text-anchor="middle" font-weight="bold" >0.03</text>
<path d="M482.3 520.2 v-1.6" stroke="#333333" stroke-width="0.9"/>
<text x="482.3" y="529.31" font-size="8.7" fill="#111" stroke="#111" stroke-width="0.22" text-anchor="middle" font-weight="bold" >0.04</text>
<path d="M399.35 520.2 v-1" stroke="#333333" stroke-width="0.8"/>
<path d="M423.1 520.2 v-1" stroke="#333333" stroke-width="0.8"/>
<path d="M446.95 520.2 v-1" stroke="#333333" stroke-width="0.8"/>
<path d="M470.6 520.2 v-1" stroke="#333333" stroke-width="0.8"/>
<text x="433.8" y="540.4" font-size="9.8" fill="#111" stroke="#111" stroke-width="0.22" text-anchor="middle" font-weight="bold" >Resistence (MΩ)</text>
<text transform="translate(366 476.3) rotate(-90)" x="0" y="0" font-size="9.6" fill="#1b93b5" stroke="#1b93b5" stroke-width="0.22" text-anchor="middle" font-weight="bold">Voltage (V)</text>
<text transform="translate(521 475.4) rotate(-90)" x="0" y="0" font-size="9.9" fill="#f47562" stroke="#f47562" stroke-width="0.22" text-anchor="middle" font-weight="bold">Power (µW)</text>
<text x="15.5" y="18.5" font-size="15" fill="#111" stroke="#111" stroke-width="0.15" text-anchor="start" font-weight="normal" >a</text>
<text x="15.5" y="150.3" font-size="15" fill="#111" stroke="#111" stroke-width="0.15" text-anchor="start" font-weight="normal" >b</text>
<text x="16" y="273.9" font-size="15" fill="#111" stroke="#111" stroke-width="0.15" text-anchor="start" font-weight="normal" >c</text>
<text x="14.8" y="423.5" font-size="15" fill="#111" stroke="#111" stroke-width="0.15" text-anchor="start" font-weight="normal" >d</text>
<text x="187.8" y="273.9" font-size="15" fill="#111" stroke="#111" stroke-width="0.15" text-anchor="start" font-weight="normal" >e</text>
<text x="186.8" y="423.5" font-size="15" fill="#111" stroke="#111" stroke-width="0.15" text-anchor="start" font-weight="normal" >f</text>
<text x="353.2" y="273.5" font-size="15" fill="#111" stroke="#111" stroke-width="0.15" text-anchor="start" font-weight="normal" >g</text>
<text x="352.4" y="423.5" font-size="15" fill="#111" stroke="#111" stroke-width="0.15" text-anchor="start" font-weight="normal" >h</text>
</svg></body></html>
